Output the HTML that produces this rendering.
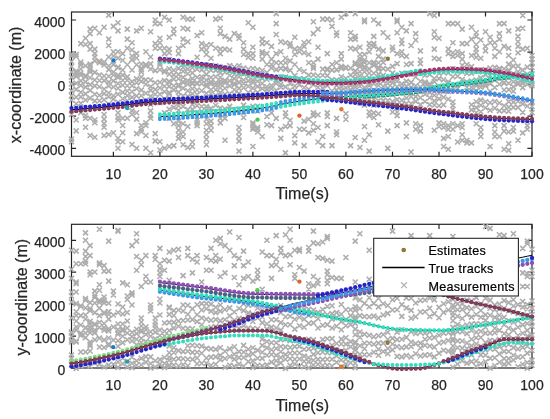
<!DOCTYPE html>
<html><head><meta charset="utf-8"><style>
html,body{margin:0;padding:0;background:#fff;width:550px;height:419px;overflow:hidden}
svg{display:block}
.tk{font-family:"Liberation Sans",Arial,sans-serif;font-size:14px;fill:#262626;stroke:#262626;stroke-width:0.25px}
.lb{font-family:"Liberation Sans",Arial,sans-serif;font-size:16px;fill:#262626;stroke:#262626;stroke-width:0.25px}
.lg{font-family:"Liberation Sans",Arial,sans-serif;font-size:12.6px;letter-spacing:0.25px;fill:#000;stroke:#000;stroke-width:0.2px}
</style></head><body>
<svg width="550" height="419" viewBox="0 0 550 419">
<rect width="550" height="419" fill="#fff"/>
<rect x="71.5" y="12.0" width="460.5" height="144.3" fill="none" stroke="#262626" stroke-width="1.2"/>
<path d="M113.4,156.3v-4.6M113.4,12.0v4.6M159.9,156.3v-4.6M159.9,12.0v4.6M206.4,156.3v-4.6M206.4,12.0v4.6M252.9,156.3v-4.6M252.9,12.0v4.6M299.4,156.3v-4.6M299.4,12.0v4.6M345.9,156.3v-4.6M345.9,12.0v4.6M392.5,156.3v-4.6M392.5,12.0v4.6M439.0,156.3v-4.6M439.0,12.0v4.6M485.5,156.3v-4.6M485.5,12.0v4.6M532.0,156.3v-4.6M532.0,12.0v4.6M71.5,20.0h4.6M532.0,20.0h-4.6M71.5,52.1h4.6M532.0,52.1h-4.6M71.5,84.2h4.6M532.0,84.2h-4.6M71.5,116.2h4.6M532.0,116.2h-4.6M71.5,148.3h4.6M532.0,148.3h-4.6" stroke="#262626" stroke-width="1.2" fill="none"/>
<path d="M69.0,51.5l5.0,5.0M69.0,56.5l5.0,-5.0M73.7,52.0l5.0,5.0M73.7,57.0l5.0,-5.0M78.3,41.1l5.0,5.0M78.3,46.1l5.0,-5.0M83.0,35.7l5.0,5.0M83.0,40.7l5.0,-5.0M83.0,42.0l5.0,5.0M83.0,47.0l5.0,-5.0M87.6,26.6l5.0,5.0M87.6,31.6l5.0,-5.0M87.6,31.1l5.0,5.0M87.6,36.1l5.0,-5.0M87.6,41.1l5.0,5.0M87.6,46.1l5.0,-5.0M87.6,46.6l5.0,5.0M87.6,51.6l5.0,-5.0M92.3,25.7l5.0,5.0M92.3,30.7l5.0,-5.0M92.3,46.6l5.0,5.0M92.3,51.6l5.0,-5.0M92.3,51.1l5.0,5.0M92.3,56.1l5.0,-5.0M96.9,30.2l5.0,5.0M96.9,35.2l5.0,-5.0M101.6,24.8l5.0,5.0M101.6,29.8l5.0,-5.0M106.2,12.6l5.0,5.0M106.2,17.6l5.0,-5.0M106.2,36.6l5.0,5.0M106.2,41.6l5.0,-5.0M106.2,43.0l5.0,5.0M106.2,48.0l5.0,-5.0M110.9,23.9l5.0,5.0M110.9,28.9l5.0,-5.0M110.9,49.3l5.0,5.0M110.9,54.3l5.0,-5.0M115.5,20.2l5.0,5.0M115.5,25.2l5.0,-5.0M115.5,28.4l5.0,5.0M115.5,33.4l5.0,-5.0M115.5,49.3l5.0,5.0M115.5,54.3l5.0,-5.0M120.2,51.1l5.0,5.0M120.2,56.1l5.0,-5.0M124.8,26.6l5.0,5.0M124.8,31.6l5.0,-5.0M124.8,36.6l5.0,5.0M124.8,41.6l5.0,-5.0M124.8,45.7l5.0,5.0M124.8,50.7l5.0,-5.0M129.5,40.2l5.0,5.0M129.5,45.2l5.0,-5.0M129.5,47.5l5.0,5.0M129.5,52.5l5.0,-5.0M134.1,28.4l5.0,5.0M134.1,33.4l5.0,-5.0M134.1,51.1l5.0,5.0M134.1,56.1l5.0,-5.0M138.8,25.7l5.0,5.0M138.8,30.7l5.0,-5.0M143.4,49.3l5.0,5.0M143.4,54.3l5.0,-5.0M148.1,29.3l5.0,5.0M148.1,34.3l5.0,-5.0M152.7,17.5l5.0,5.0M152.7,22.5l5.0,-5.0M152.7,21.1l5.0,5.0M152.7,26.1l5.0,-5.0M152.7,41.1l5.0,5.0M152.7,46.1l5.0,-5.0M152.7,45.7l5.0,5.0M152.7,50.7l5.0,-5.0M157.4,21.1l5.0,5.0M157.4,26.1l5.0,-5.0M157.4,35.7l5.0,5.0M157.4,40.7l5.0,-5.0M157.4,40.2l5.0,5.0M157.4,45.2l5.0,-5.0M157.4,45.7l5.0,5.0M157.4,50.7l5.0,-5.0M162.0,14.8l5.0,5.0M162.0,19.8l5.0,-5.0M162.0,45.7l5.0,5.0M162.0,50.7l5.0,-5.0M162.0,51.1l5.0,5.0M162.0,56.1l5.0,-5.0M69.0,53.5l5.0,5.0M69.0,58.5l5.0,-5.0M69.0,59.0l5.0,5.0M69.0,64.0l5.0,-5.0M69.0,64.0l5.0,5.0M69.0,69.0l5.0,-5.0M69.0,69.5l5.0,5.0M69.0,74.5l5.0,-5.0M69.0,74.5l5.0,5.0M69.0,79.5l5.0,-5.0M73.7,54.0l5.0,5.0M73.7,59.0l5.0,-5.0M73.7,70.5l5.0,5.0M73.7,75.5l5.0,-5.0M73.7,72.5l5.0,5.0M73.7,77.5l5.0,-5.0M78.3,59.5l5.0,5.0M78.3,64.5l5.0,-5.0M78.3,62.5l5.0,5.0M78.3,67.5l5.0,-5.0M78.3,66.5l5.0,5.0M78.3,71.5l5.0,-5.0M78.3,70.5l5.0,5.0M78.3,75.5l5.0,-5.0M83.0,74.5l5.0,5.0M83.0,79.5l5.0,-5.0M87.6,61.5l5.0,5.0M87.6,66.5l5.0,-5.0M87.6,63.5l5.0,5.0M87.6,68.5l5.0,-5.0M87.6,66.5l5.0,5.0M87.6,71.5l5.0,-5.0M87.6,69.5l5.0,5.0M87.6,74.5l5.0,-5.0M92.3,54.5l5.0,5.0M92.3,59.5l5.0,-5.0M96.9,58.5l5.0,5.0M96.9,63.5l5.0,-5.0M96.9,72.5l5.0,5.0M96.9,77.5l5.0,-5.0M101.6,59.5l5.0,5.0M101.6,64.5l5.0,-5.0M101.6,62.5l5.0,5.0M101.6,67.5l5.0,-5.0M101.6,73.5l5.0,5.0M101.6,78.5l5.0,-5.0M106.2,54.5l5.0,5.0M106.2,59.5l5.0,-5.0M106.2,63.5l5.0,5.0M106.2,68.5l5.0,-5.0M110.9,53.5l5.0,5.0M110.9,58.5l5.0,-5.0M110.9,69.5l5.0,5.0M110.9,74.5l5.0,-5.0M110.9,72.5l5.0,5.0M110.9,77.5l5.0,-5.0M115.5,64.5l5.0,5.0M115.5,69.5l5.0,-5.0M115.5,72.5l5.0,5.0M115.5,77.5l5.0,-5.0M120.2,67.5l5.0,5.0M120.2,72.5l5.0,-5.0M129.5,53.5l5.0,5.0M129.5,58.5l5.0,-5.0M129.5,57.5l5.0,5.0M129.5,62.5l5.0,-5.0M134.1,55.5l5.0,5.0M134.1,60.5l5.0,-5.0M138.8,61.5l5.0,5.0M138.8,66.5l5.0,-5.0M138.8,65.5l5.0,5.0M138.8,70.5l5.0,-5.0M138.8,69.5l5.0,5.0M138.8,74.5l5.0,-5.0M143.4,63.5l5.0,5.0M143.4,68.5l5.0,-5.0M148.1,54.5l5.0,5.0M148.1,59.5l5.0,-5.0M148.1,66.5l5.0,5.0M148.1,71.5l5.0,-5.0M157.4,60.5l5.0,5.0M157.4,65.5l5.0,-5.0M157.4,62.5l5.0,5.0M157.4,67.5l5.0,-5.0M162.0,69.5l5.0,5.0M162.0,74.5l5.0,-5.0M166.7,71.5l5.0,5.0M166.7,76.5l5.0,-5.0M69.0,74.8l5.0,5.0M69.0,79.8l5.0,-5.0M69.0,81.4l5.0,5.0M69.0,86.4l5.0,-5.0M69.0,88.3l5.0,5.0M69.0,93.3l5.0,-5.0M69.0,93.2l5.0,5.0M69.0,98.2l5.0,-5.0M69.0,97.5l5.0,5.0M69.0,102.5l5.0,-5.0M73.7,73.9l5.0,5.0M73.7,78.9l5.0,-5.0M73.7,80.7l5.0,5.0M73.7,85.7l5.0,-5.0M73.7,86.9l5.0,5.0M73.7,91.9l5.0,-5.0M73.7,94.7l5.0,5.0M73.7,99.7l5.0,-5.0M73.7,101.3l5.0,5.0M73.7,106.3l5.0,-5.0M78.3,78.4l5.0,5.0M78.3,83.4l5.0,-5.0M78.3,82.9l5.0,5.0M78.3,87.9l5.0,-5.0M78.3,89.8l5.0,5.0M78.3,94.8l5.0,-5.0M78.3,94.4l5.0,5.0M78.3,99.4l5.0,-5.0M78.3,100.7l5.0,5.0M78.3,105.7l5.0,-5.0M83.0,73.0l5.0,5.0M83.0,78.0l5.0,-5.0M83.0,79.4l5.0,5.0M83.0,84.4l5.0,-5.0M83.0,84.6l5.0,5.0M83.0,89.6l5.0,-5.0M83.0,91.4l5.0,5.0M83.0,96.4l5.0,-5.0M83.0,97.5l5.0,5.0M83.0,102.5l5.0,-5.0M87.6,75.2l5.0,5.0M87.6,80.2l5.0,-5.0M87.6,82.1l5.0,5.0M87.6,87.1l5.0,-5.0M87.6,87.9l5.0,5.0M87.6,92.9l5.0,-5.0M87.6,95.6l5.0,5.0M87.6,100.6l5.0,-5.0M92.3,77.5l5.0,5.0M92.3,82.5l5.0,-5.0M92.3,83.4l5.0,5.0M92.3,88.4l5.0,-5.0M92.3,91.7l5.0,5.0M92.3,96.7l5.0,-5.0M92.3,98.4l5.0,5.0M92.3,103.4l5.0,-5.0M96.9,78.0l5.0,5.0M96.9,83.0l5.0,-5.0M96.9,84.2l5.0,5.0M96.9,89.2l5.0,-5.0M96.9,92.7l5.0,5.0M96.9,97.7l5.0,-5.0M96.9,98.2l5.0,5.0M96.9,103.2l5.0,-5.0M101.6,78.1l5.0,5.0M101.6,83.1l5.0,-5.0M101.6,86.5l5.0,5.0M101.6,91.5l5.0,-5.0M101.6,91.1l5.0,5.0M101.6,96.1l5.0,-5.0M101.6,97.2l5.0,5.0M101.6,102.2l5.0,-5.0M106.2,73.8l5.0,5.0M106.2,78.8l5.0,-5.0M106.2,79.6l5.0,5.0M106.2,84.6l5.0,-5.0M106.2,83.4l5.0,5.0M106.2,88.4l5.0,-5.0M106.2,90.5l5.0,5.0M106.2,95.5l5.0,-5.0M106.2,94.3l5.0,5.0M106.2,99.3l5.0,-5.0M106.2,101.5l5.0,5.0M106.2,106.5l5.0,-5.0M110.9,78.4l5.0,5.0M110.9,83.4l5.0,-5.0M110.9,84.5l5.0,5.0M110.9,89.5l5.0,-5.0M110.9,93.3l5.0,5.0M110.9,98.3l5.0,-5.0M110.9,96.6l5.0,5.0M110.9,101.6l5.0,-5.0M115.5,74.9l5.0,5.0M115.5,79.9l5.0,-5.0M115.5,81.0l5.0,5.0M115.5,86.0l5.0,-5.0M115.5,85.7l5.0,5.0M115.5,90.7l5.0,-5.0M115.5,91.7l5.0,5.0M115.5,96.7l5.0,-5.0M115.5,99.8l5.0,5.0M115.5,104.8l5.0,-5.0M120.2,77.7l5.0,5.0M120.2,82.7l5.0,-5.0M120.2,82.7l5.0,5.0M120.2,87.7l5.0,-5.0M120.2,89.9l5.0,5.0M120.2,94.9l5.0,-5.0M120.2,96.2l5.0,5.0M120.2,101.2l5.0,-5.0M124.8,74.4l5.0,5.0M124.8,79.4l5.0,-5.0M124.8,77.8l5.0,5.0M124.8,82.8l5.0,-5.0M124.8,83.2l5.0,5.0M124.8,88.2l5.0,-5.0M124.8,88.5l5.0,5.0M124.8,93.5l5.0,-5.0M124.8,93.1l5.0,5.0M124.8,98.1l5.0,-5.0M124.8,98.2l5.0,5.0M124.8,103.2l5.0,-5.0M129.5,79.1l5.0,5.0M129.5,84.1l5.0,-5.0M129.5,83.3l5.0,5.0M129.5,88.3l5.0,-5.0M129.5,89.2l5.0,5.0M129.5,94.2l5.0,-5.0M129.5,94.9l5.0,5.0M129.5,99.9l5.0,-5.0M134.1,76.4l5.0,5.0M134.1,81.4l5.0,-5.0M134.1,80.3l5.0,5.0M134.1,85.3l5.0,-5.0M134.1,86.2l5.0,5.0M134.1,91.2l5.0,-5.0M134.1,93.4l5.0,5.0M134.1,98.4l5.0,-5.0M134.1,99.4l5.0,5.0M134.1,104.4l5.0,-5.0M138.8,74.5l5.0,5.0M138.8,79.5l5.0,-5.0M138.8,78.9l5.0,5.0M138.8,83.9l5.0,-5.0M138.8,87.6l5.0,5.0M138.8,92.6l5.0,-5.0M138.8,93.3l5.0,5.0M138.8,98.3l5.0,-5.0M138.8,98.8l5.0,5.0M138.8,103.8l5.0,-5.0M143.4,77.4l5.0,5.0M143.4,82.4l5.0,-5.0M143.4,81.8l5.0,5.0M143.4,86.8l5.0,-5.0M143.4,90.7l5.0,5.0M143.4,95.7l5.0,-5.0M143.4,97.9l5.0,5.0M143.4,102.9l5.0,-5.0M148.1,77.5l5.0,5.0M148.1,82.5l5.0,-5.0M148.1,84.1l5.0,5.0M148.1,89.1l5.0,-5.0M148.1,87.9l5.0,5.0M148.1,92.9l5.0,-5.0M148.1,93.7l5.0,5.0M148.1,98.7l5.0,-5.0M148.1,102.0l5.0,5.0M148.1,107.0l5.0,-5.0M152.7,80.3l5.0,5.0M152.7,85.3l5.0,-5.0M152.7,86.9l5.0,5.0M152.7,91.9l5.0,-5.0M152.7,91.8l5.0,5.0M152.7,96.8l5.0,-5.0M152.7,96.8l5.0,5.0M152.7,101.8l5.0,-5.0M157.4,79.8l5.0,5.0M157.4,84.8l5.0,-5.0M157.4,85.5l5.0,5.0M157.4,90.5l5.0,-5.0M157.4,91.7l5.0,5.0M157.4,96.7l5.0,-5.0M157.4,100.1l5.0,5.0M157.4,105.1l5.0,-5.0M162.0,78.1l5.0,5.0M162.0,83.1l5.0,-5.0M162.0,83.7l5.0,5.0M162.0,88.7l5.0,-5.0M162.0,89.3l5.0,5.0M162.0,94.3l5.0,-5.0M162.0,96.5l5.0,5.0M162.0,101.5l5.0,-5.0M166.7,79.8l5.0,5.0M166.7,84.8l5.0,-5.0M166.7,83.6l5.0,5.0M166.7,88.6l5.0,-5.0M166.7,90.1l5.0,5.0M166.7,95.1l5.0,-5.0M166.7,95.9l5.0,5.0M166.7,100.9l5.0,-5.0M73.7,68.6l5.0,5.0M73.7,73.6l5.0,-5.0M78.3,61.9l5.0,5.0M78.3,66.9l5.0,-5.0M78.3,72.8l5.0,5.0M78.3,77.8l5.0,-5.0M83.0,63.2l5.0,5.0M83.0,68.2l5.0,-5.0M87.6,67.5l5.0,5.0M87.6,72.5l5.0,-5.0M92.3,58.4l5.0,5.0M92.3,63.4l5.0,-5.0M92.3,69.9l5.0,5.0M92.3,74.9l5.0,-5.0M96.9,60.2l5.0,5.0M96.9,65.2l5.0,-5.0M101.6,60.0l5.0,5.0M101.6,65.0l5.0,-5.0M106.2,67.1l5.0,5.0M106.2,72.1l5.0,-5.0M110.9,62.1l5.0,5.0M110.9,67.1l5.0,-5.0M115.5,55.6l5.0,5.0M115.5,60.6l5.0,-5.0M115.5,65.3l5.0,5.0M115.5,70.3l5.0,-5.0M120.2,57.7l5.0,5.0M120.2,62.7l5.0,-5.0M120.2,72.6l5.0,5.0M120.2,77.6l5.0,-5.0M124.8,62.3l5.0,5.0M124.8,67.3l5.0,-5.0M129.5,57.0l5.0,5.0M129.5,62.0l5.0,-5.0M129.5,67.5l5.0,5.0M129.5,72.5l5.0,-5.0M134.1,62.2l5.0,5.0M134.1,67.2l5.0,-5.0M138.8,67.2l5.0,5.0M138.8,72.2l5.0,-5.0M143.4,62.1l5.0,5.0M143.4,67.1l5.0,-5.0M148.1,61.4l5.0,5.0M148.1,66.4l5.0,-5.0M152.7,68.1l5.0,5.0M152.7,73.1l5.0,-5.0M157.4,67.3l5.0,5.0M157.4,72.3l5.0,-5.0M162.0,68.4l5.0,5.0M162.0,73.4l5.0,-5.0M166.7,57.0l5.0,5.0M166.7,62.0l5.0,-5.0M166.7,66.2l5.0,5.0M166.7,71.2l5.0,-5.0M69.0,112.0l5.0,5.0M69.0,117.0l5.0,-5.0M69.0,136.6l5.0,5.0M69.0,141.6l5.0,-5.0M69.0,139.3l5.0,5.0M69.0,144.3l5.0,-5.0M73.7,117.5l5.0,5.0M73.7,122.5l5.0,-5.0M73.7,128.4l5.0,5.0M73.7,133.4l5.0,-5.0M78.3,110.2l5.0,5.0M78.3,115.2l5.0,-5.0M83.0,113.0l5.0,5.0M83.0,118.0l5.0,-5.0M83.0,115.7l5.0,5.0M83.0,120.7l5.0,-5.0M83.0,124.8l5.0,5.0M83.0,129.8l5.0,-5.0M87.6,115.7l5.0,5.0M87.6,120.7l5.0,-5.0M87.6,133.0l5.0,5.0M87.6,138.0l5.0,-5.0M92.3,117.5l5.0,5.0M92.3,122.5l5.0,-5.0M92.3,120.2l5.0,5.0M92.3,125.2l5.0,-5.0M92.3,134.8l5.0,5.0M92.3,139.8l5.0,-5.0M101.6,112.0l5.0,5.0M101.6,117.0l5.0,-5.0M101.6,116.6l5.0,5.0M101.6,121.6l5.0,-5.0M101.6,121.1l5.0,5.0M101.6,126.1l5.0,-5.0M101.6,124.8l5.0,5.0M101.6,129.8l5.0,-5.0M101.6,133.0l5.0,5.0M101.6,138.0l5.0,-5.0M106.2,132.0l5.0,5.0M106.2,137.0l5.0,-5.0M110.9,130.2l5.0,5.0M110.9,135.2l5.0,-5.0M115.5,110.2l5.0,5.0M115.5,115.2l5.0,-5.0M115.5,114.8l5.0,5.0M115.5,119.8l5.0,-5.0M115.5,117.5l5.0,5.0M115.5,122.5l5.0,-5.0M115.5,135.7l5.0,5.0M115.5,140.7l5.0,-5.0M115.5,139.3l5.0,5.0M115.5,144.3l5.0,-5.0M115.5,145.7l5.0,5.0M115.5,150.7l5.0,-5.0M120.2,115.7l5.0,5.0M120.2,120.7l5.0,-5.0M120.2,123.0l5.0,5.0M120.2,128.0l5.0,-5.0M120.2,130.2l5.0,5.0M120.2,135.2l5.0,-5.0M120.2,139.3l5.0,5.0M120.2,144.3l5.0,-5.0M124.8,115.7l5.0,5.0M124.8,120.7l5.0,-5.0M129.5,108.4l5.0,5.0M129.5,113.4l5.0,-5.0M129.5,112.0l5.0,5.0M129.5,117.0l5.0,-5.0M129.5,142.0l5.0,5.0M129.5,147.0l5.0,-5.0M134.1,110.2l5.0,5.0M134.1,115.2l5.0,-5.0M134.1,116.6l5.0,5.0M134.1,121.6l5.0,-5.0M134.1,131.1l5.0,5.0M134.1,136.1l5.0,-5.0M134.1,145.7l5.0,5.0M134.1,150.7l5.0,-5.0M138.8,123.0l5.0,5.0M138.8,128.0l5.0,-5.0M138.8,126.6l5.0,5.0M138.8,131.6l5.0,-5.0M138.8,129.3l5.0,5.0M138.8,134.3l5.0,-5.0M143.4,120.2l5.0,5.0M143.4,125.2l5.0,-5.0M143.4,123.0l5.0,5.0M143.4,128.0l5.0,-5.0M143.4,133.0l5.0,5.0M143.4,138.0l5.0,-5.0M143.4,145.7l5.0,5.0M143.4,150.7l5.0,-5.0M148.1,108.4l5.0,5.0M148.1,113.4l5.0,-5.0M148.1,113.0l5.0,5.0M148.1,118.0l5.0,-5.0M148.1,115.7l5.0,5.0M148.1,120.7l5.0,-5.0M148.1,150.2l5.0,5.0M148.1,155.2l5.0,-5.0M152.7,131.1l5.0,5.0M152.7,136.1l5.0,-5.0M152.7,138.4l5.0,5.0M152.7,143.4l5.0,-5.0M157.4,139.3l5.0,5.0M157.4,144.3l5.0,-5.0M157.4,147.5l5.0,5.0M157.4,152.5l5.0,-5.0M162.0,110.2l5.0,5.0M162.0,115.2l5.0,-5.0M162.0,145.7l5.0,5.0M162.0,150.7l5.0,-5.0M166.7,17.5l5.0,5.0M166.7,22.5l5.0,-5.0M166.7,34.8l5.0,5.0M166.7,39.8l5.0,-5.0M166.7,46.6l5.0,5.0M166.7,51.6l5.0,-5.0M166.7,50.2l5.0,5.0M166.7,55.2l5.0,-5.0M171.3,26.6l5.0,5.0M171.3,31.6l5.0,-5.0M171.3,31.1l5.0,5.0M171.3,36.1l5.0,-5.0M176.0,45.7l5.0,5.0M176.0,50.7l5.0,-5.0M176.0,51.1l5.0,5.0M176.0,56.1l5.0,-5.0M180.6,14.8l5.0,5.0M180.6,19.8l5.0,-5.0M180.6,25.7l5.0,5.0M180.6,30.7l5.0,-5.0M180.6,36.6l5.0,5.0M180.6,41.6l5.0,-5.0M180.6,43.0l5.0,5.0M180.6,48.0l5.0,-5.0M185.3,16.6l5.0,5.0M185.3,21.6l5.0,-5.0M185.3,26.6l5.0,5.0M185.3,31.6l5.0,-5.0M185.3,39.3l5.0,5.0M185.3,44.3l5.0,-5.0M189.9,16.6l5.0,5.0M189.9,21.6l5.0,-5.0M194.6,33.0l5.0,5.0M194.6,38.0l5.0,-5.0M194.6,54.8l5.0,5.0M194.6,59.8l5.0,-5.0M199.2,30.2l5.0,5.0M199.2,35.2l5.0,-5.0M199.2,41.1l5.0,5.0M199.2,46.1l5.0,-5.0M199.2,46.6l5.0,5.0M199.2,51.6l5.0,-5.0M203.9,43.0l5.0,5.0M203.9,48.0l5.0,-5.0M203.9,47.5l5.0,5.0M203.9,52.5l5.0,-5.0M203.9,52.0l5.0,5.0M203.9,57.0l5.0,-5.0M208.5,42.0l5.0,5.0M208.5,47.0l5.0,-5.0M208.5,55.7l5.0,5.0M208.5,60.7l5.0,-5.0M213.2,16.6l5.0,5.0M213.2,21.6l5.0,-5.0M213.2,45.7l5.0,5.0M213.2,50.7l5.0,-5.0M217.8,15.7l5.0,5.0M217.8,20.7l5.0,-5.0M217.8,25.7l5.0,5.0M217.8,30.7l5.0,-5.0M217.8,31.1l5.0,5.0M217.8,36.1l5.0,-5.0M217.8,46.6l5.0,5.0M217.8,51.6l5.0,-5.0M217.8,51.1l5.0,5.0M217.8,56.1l5.0,-5.0M222.5,33.9l5.0,5.0M222.5,38.9l5.0,-5.0M222.5,46.6l5.0,5.0M222.5,51.6l5.0,-5.0M227.2,36.6l5.0,5.0M227.2,41.6l5.0,-5.0M227.2,47.5l5.0,5.0M227.2,52.5l5.0,-5.0M231.8,31.1l5.0,5.0M231.8,36.1l5.0,-5.0M236.5,33.0l5.0,5.0M236.5,38.0l5.0,-5.0M236.5,35.7l5.0,5.0M236.5,40.7l5.0,-5.0M241.1,40.2l5.0,5.0M241.1,45.2l5.0,-5.0M241.1,46.6l5.0,5.0M241.1,51.6l5.0,-5.0M241.1,52.0l5.0,5.0M241.1,57.0l5.0,-5.0M245.8,20.2l5.0,5.0M245.8,25.2l5.0,-5.0M245.8,51.1l5.0,5.0M245.8,56.1l5.0,-5.0M245.8,54.8l5.0,5.0M245.8,59.8l5.0,-5.0M250.4,24.8l5.0,5.0M250.4,29.8l5.0,-5.0M250.4,44.8l5.0,5.0M250.4,49.8l5.0,-5.0M250.4,51.1l5.0,5.0M250.4,56.1l5.0,-5.0M250.4,55.7l5.0,5.0M250.4,60.7l5.0,-5.0M259.7,36.6l5.0,5.0M259.7,41.6l5.0,-5.0M259.7,41.1l5.0,5.0M259.7,46.1l5.0,-5.0M259.7,49.3l5.0,5.0M259.7,54.3l5.0,-5.0M166.7,66.3l5.0,5.0M166.7,71.3l5.0,-5.0M166.7,71.8l5.0,5.0M166.7,76.8l5.0,-5.0M166.7,79.1l5.0,5.0M166.7,84.1l5.0,-5.0M171.3,67.8l5.0,5.0M171.3,72.8l5.0,-5.0M171.3,72.4l5.0,5.0M171.3,77.4l5.0,-5.0M171.3,76.6l5.0,5.0M171.3,81.6l5.0,-5.0M176.0,65.9l5.0,5.0M176.0,70.9l5.0,-5.0M176.0,71.9l5.0,5.0M176.0,76.9l5.0,-5.0M176.0,76.3l5.0,5.0M176.0,81.3l5.0,-5.0M176.0,82.2l5.0,5.0M176.0,87.2l5.0,-5.0M180.6,65.0l5.0,5.0M180.6,70.0l5.0,-5.0M180.6,68.7l5.0,5.0M180.6,73.7l5.0,-5.0M180.6,74.9l5.0,5.0M180.6,79.9l5.0,-5.0M180.6,79.9l5.0,5.0M180.6,84.9l5.0,-5.0M185.3,66.6l5.0,5.0M185.3,71.6l5.0,-5.0M185.3,71.2l5.0,5.0M185.3,76.2l5.0,-5.0M185.3,78.1l5.0,5.0M185.3,83.1l5.0,-5.0M189.9,65.2l5.0,5.0M189.9,70.2l5.0,-5.0M189.9,70.4l5.0,5.0M189.9,75.4l5.0,-5.0M189.9,76.1l5.0,5.0M189.9,81.1l5.0,-5.0M189.9,81.4l5.0,5.0M189.9,86.4l5.0,-5.0M194.6,62.7l5.0,5.0M194.6,67.7l5.0,-5.0M194.6,66.8l5.0,5.0M194.6,71.8l5.0,-5.0M194.6,74.8l5.0,5.0M194.6,79.8l5.0,-5.0M194.6,80.2l5.0,5.0M194.6,85.2l5.0,-5.0M199.2,63.1l5.0,5.0M199.2,68.1l5.0,-5.0M199.2,67.4l5.0,5.0M199.2,72.4l5.0,-5.0M199.2,74.3l5.0,5.0M199.2,79.3l5.0,-5.0M199.2,77.4l5.0,5.0M199.2,82.4l5.0,-5.0M203.9,62.6l5.0,5.0M203.9,67.6l5.0,-5.0M203.9,66.8l5.0,5.0M203.9,71.8l5.0,-5.0M203.9,71.9l5.0,5.0M203.9,76.9l5.0,-5.0M203.9,77.6l5.0,5.0M203.9,82.6l5.0,-5.0M203.9,81.9l5.0,5.0M203.9,86.9l5.0,-5.0M208.5,63.0l5.0,5.0M208.5,68.0l5.0,-5.0M208.5,67.7l5.0,5.0M208.5,72.7l5.0,-5.0M208.5,75.0l5.0,5.0M208.5,80.0l5.0,-5.0M208.5,79.3l5.0,5.0M208.5,84.3l5.0,-5.0M213.2,63.3l5.0,5.0M213.2,68.3l5.0,-5.0M213.2,67.9l5.0,5.0M213.2,72.9l5.0,-5.0M213.2,74.3l5.0,5.0M213.2,79.3l5.0,-5.0M213.2,80.4l5.0,5.0M213.2,85.4l5.0,-5.0M217.8,64.6l5.0,5.0M217.8,69.6l5.0,-5.0M217.8,70.4l5.0,5.0M217.8,75.4l5.0,-5.0M217.8,75.0l5.0,5.0M217.8,80.0l5.0,-5.0M217.8,78.6l5.0,5.0M217.8,83.6l5.0,-5.0M222.5,65.6l5.0,5.0M222.5,70.6l5.0,-5.0M222.5,69.7l5.0,5.0M222.5,74.7l5.0,-5.0M222.5,77.9l5.0,5.0M222.5,82.9l5.0,-5.0M227.2,63.1l5.0,5.0M227.2,68.1l5.0,-5.0M227.2,68.3l5.0,5.0M227.2,73.3l5.0,-5.0M227.2,72.7l5.0,5.0M227.2,77.7l5.0,-5.0M227.2,78.4l5.0,5.0M227.2,83.4l5.0,-5.0M231.8,64.5l5.0,5.0M231.8,69.5l5.0,-5.0M231.8,71.7l5.0,5.0M231.8,76.7l5.0,-5.0M231.8,76.1l5.0,5.0M231.8,81.1l5.0,-5.0M231.8,82.2l5.0,5.0M231.8,87.2l5.0,-5.0M236.5,63.2l5.0,5.0M236.5,68.2l5.0,-5.0M236.5,66.5l5.0,5.0M236.5,71.5l5.0,-5.0M236.5,71.0l5.0,5.0M236.5,76.0l5.0,-5.0M236.5,74.2l5.0,5.0M236.5,79.2l5.0,-5.0M236.5,79.5l5.0,5.0M236.5,84.5l5.0,-5.0M241.1,65.5l5.0,5.0M241.1,70.5l5.0,-5.0M241.1,71.4l5.0,5.0M241.1,76.4l5.0,-5.0M241.1,77.5l5.0,5.0M241.1,82.5l5.0,-5.0M245.8,66.8l5.0,5.0M245.8,71.8l5.0,-5.0M245.8,74.0l5.0,5.0M245.8,79.0l5.0,-5.0M245.8,78.4l5.0,5.0M245.8,83.4l5.0,-5.0M250.4,66.0l5.0,5.0M250.4,71.0l5.0,-5.0M250.4,71.3l5.0,5.0M250.4,76.3l5.0,-5.0M250.4,77.6l5.0,5.0M250.4,82.6l5.0,-5.0M255.1,67.1l5.0,5.0M255.1,72.1l5.0,-5.0M255.1,73.0l5.0,5.0M255.1,78.0l5.0,-5.0M255.1,78.7l5.0,5.0M255.1,83.7l5.0,-5.0M166.7,144.0l5.0,5.0M166.7,149.0l5.0,-5.0M171.3,143.1l5.0,5.0M171.3,148.1l5.0,-5.0M176.0,123.1l5.0,5.0M176.0,128.1l5.0,-5.0M176.0,127.7l5.0,5.0M176.0,132.7l5.0,-5.0M176.0,132.2l5.0,5.0M176.0,137.2l5.0,-5.0M176.0,135.9l5.0,5.0M176.0,140.9l5.0,-5.0M180.6,129.5l5.0,5.0M180.6,134.5l5.0,-5.0M180.6,134.0l5.0,5.0M180.6,139.0l5.0,-5.0M180.6,142.2l5.0,5.0M180.6,147.2l5.0,-5.0M185.3,124.0l5.0,5.0M185.3,129.0l5.0,-5.0M185.3,145.0l5.0,5.0M185.3,150.0l5.0,-5.0M189.9,139.5l5.0,5.0M189.9,144.5l5.0,-5.0M189.9,144.0l5.0,5.0M189.9,149.0l5.0,-5.0M194.6,120.4l5.0,5.0M194.6,125.4l5.0,-5.0M194.6,123.1l5.0,5.0M194.6,128.1l5.0,-5.0M203.9,127.7l5.0,5.0M203.9,132.7l5.0,-5.0M203.9,132.2l5.0,5.0M203.9,137.2l5.0,-5.0M203.9,136.8l5.0,5.0M203.9,141.8l5.0,-5.0M203.9,142.2l5.0,5.0M203.9,147.2l5.0,-5.0M208.5,118.6l5.0,5.0M208.5,123.6l5.0,-5.0M208.5,123.1l5.0,5.0M208.5,128.1l5.0,-5.0M208.5,127.7l5.0,5.0M208.5,132.7l5.0,-5.0M217.8,115.9l5.0,5.0M217.8,120.9l5.0,-5.0M217.8,120.4l5.0,5.0M217.8,125.4l5.0,-5.0M222.5,137.7l5.0,5.0M222.5,142.7l5.0,-5.0M236.5,125.0l5.0,5.0M236.5,130.0l5.0,-5.0M236.5,129.5l5.0,5.0M236.5,134.5l5.0,-5.0M236.5,134.0l5.0,5.0M236.5,139.0l5.0,-5.0M236.5,138.6l5.0,5.0M236.5,143.6l5.0,-5.0M236.5,148.6l5.0,5.0M236.5,153.6l5.0,-5.0M241.1,115.0l5.0,5.0M241.1,120.0l5.0,-5.0M250.4,120.4l5.0,5.0M250.4,125.4l5.0,-5.0M250.4,125.0l5.0,5.0M250.4,130.0l5.0,-5.0M250.4,144.0l5.0,5.0M250.4,149.0l5.0,-5.0M255.1,126.8l5.0,5.0M255.1,131.8l5.0,-5.0M166.7,78.9l5.0,5.0M166.7,83.9l5.0,-5.0M166.7,83.9l5.0,5.0M166.7,88.9l5.0,-5.0M166.7,91.4l5.0,5.0M166.7,96.4l5.0,-5.0M171.3,83.3l5.0,5.0M171.3,88.3l5.0,-5.0M171.3,87.4l5.0,5.0M171.3,92.4l5.0,-5.0M176.0,83.6l5.0,5.0M176.0,88.6l5.0,-5.0M176.0,89.6l5.0,5.0M176.0,94.6l5.0,-5.0M176.0,93.8l5.0,5.0M176.0,98.8l5.0,-5.0M180.6,79.4l5.0,5.0M180.6,84.4l5.0,-5.0M180.6,85.6l5.0,5.0M180.6,90.6l5.0,-5.0M180.6,93.4l5.0,5.0M180.6,98.4l5.0,-5.0M185.3,81.6l5.0,5.0M185.3,86.6l5.0,-5.0M185.3,88.2l5.0,5.0M185.3,93.2l5.0,-5.0M185.3,93.9l5.0,5.0M185.3,98.9l5.0,-5.0M189.9,79.8l5.0,5.0M189.9,84.8l5.0,-5.0M189.9,86.2l5.0,5.0M189.9,91.2l5.0,-5.0M189.9,91.4l5.0,5.0M189.9,96.4l5.0,-5.0M194.6,81.3l5.0,5.0M194.6,86.3l5.0,-5.0M194.6,87.5l5.0,5.0M194.6,92.5l5.0,-5.0M194.6,92.0l5.0,5.0M194.6,97.0l5.0,-5.0M199.2,81.3l5.0,5.0M199.2,86.3l5.0,-5.0M199.2,88.3l5.0,5.0M199.2,93.3l5.0,-5.0M203.9,83.7l5.0,5.0M203.9,88.7l5.0,-5.0M203.9,90.7l5.0,5.0M203.9,95.7l5.0,-5.0M208.5,81.5l5.0,5.0M208.5,86.5l5.0,-5.0M208.5,87.4l5.0,5.0M208.5,92.4l5.0,-5.0M208.5,91.2l5.0,5.0M208.5,96.2l5.0,-5.0M213.2,83.3l5.0,5.0M213.2,88.3l5.0,-5.0M213.2,87.3l5.0,5.0M213.2,92.3l5.0,-5.0M213.2,93.0l5.0,5.0M213.2,98.0l5.0,-5.0M217.8,81.6l5.0,5.0M217.8,86.6l5.0,-5.0M217.8,85.3l5.0,5.0M217.8,90.3l5.0,-5.0M217.8,90.1l5.0,5.0M217.8,95.1l5.0,-5.0M222.5,80.4l5.0,5.0M222.5,85.4l5.0,-5.0M222.5,85.8l5.0,5.0M222.5,90.8l5.0,-5.0M222.5,91.8l5.0,5.0M222.5,96.8l5.0,-5.0M227.2,83.4l5.0,5.0M227.2,88.4l5.0,-5.0M227.2,91.4l5.0,5.0M227.2,96.4l5.0,-5.0M231.8,80.8l5.0,5.0M231.8,85.8l5.0,-5.0M231.8,87.2l5.0,5.0M231.8,92.2l5.0,-5.0M231.8,91.8l5.0,5.0M231.8,96.8l5.0,-5.0M236.5,80.1l5.0,5.0M236.5,85.1l5.0,-5.0M236.5,85.9l5.0,5.0M236.5,90.9l5.0,-5.0M236.5,90.9l5.0,5.0M236.5,95.9l5.0,-5.0M241.1,81.0l5.0,5.0M241.1,86.0l5.0,-5.0M241.1,85.2l5.0,5.0M241.1,90.2l5.0,-5.0M241.1,93.2l5.0,5.0M241.1,98.2l5.0,-5.0M245.8,83.8l5.0,5.0M245.8,88.8l5.0,-5.0M245.8,90.0l5.0,5.0M245.8,95.0l5.0,-5.0M250.4,80.2l5.0,5.0M250.4,85.2l5.0,-5.0M250.4,85.6l5.0,5.0M250.4,90.6l5.0,-5.0M250.4,90.7l5.0,5.0M250.4,95.7l5.0,-5.0M255.1,83.9l5.0,5.0M255.1,88.9l5.0,-5.0M255.1,89.7l5.0,5.0M255.1,94.7l5.0,-5.0M166.7,106.7l5.0,5.0M166.7,111.7l5.0,-5.0M171.3,104.9l5.0,5.0M171.3,109.9l5.0,-5.0M176.0,103.2l5.0,5.0M176.0,108.2l5.0,-5.0M176.0,107.7l5.0,5.0M176.0,112.7l5.0,-5.0M180.6,103.9l5.0,5.0M180.6,108.9l5.0,-5.0M185.3,107.1l5.0,5.0M185.3,112.1l5.0,-5.0M189.9,101.9l5.0,5.0M189.9,106.9l5.0,-5.0M189.9,106.9l5.0,5.0M189.9,111.9l5.0,-5.0M194.6,103.2l5.0,5.0M194.6,108.2l5.0,-5.0M194.6,110.4l5.0,5.0M194.6,115.4l5.0,-5.0M199.2,104.0l5.0,5.0M199.2,109.0l5.0,-5.0M199.2,108.7l5.0,5.0M199.2,113.7l5.0,-5.0M203.9,104.1l5.0,5.0M203.9,109.1l5.0,-5.0M203.9,107.5l5.0,5.0M203.9,112.5l5.0,-5.0M208.5,105.9l5.0,5.0M208.5,110.9l5.0,-5.0M213.2,102.8l5.0,5.0M213.2,107.8l5.0,-5.0M213.2,109.3l5.0,5.0M213.2,114.3l5.0,-5.0M217.8,105.5l5.0,5.0M217.8,110.5l5.0,-5.0M222.5,106.4l5.0,5.0M222.5,111.4l5.0,-5.0M227.2,103.9l5.0,5.0M227.2,108.9l5.0,-5.0M231.8,107.4l5.0,5.0M231.8,112.4l5.0,-5.0M236.5,106.5l5.0,5.0M236.5,111.5l5.0,-5.0M241.1,102.6l5.0,5.0M241.1,107.6l5.0,-5.0M241.1,109.5l5.0,5.0M241.1,114.5l5.0,-5.0M245.8,105.8l5.0,5.0M245.8,110.8l5.0,-5.0M250.4,103.8l5.0,5.0M250.4,108.8l5.0,-5.0M255.1,103.8l5.0,5.0M255.1,108.8l5.0,-5.0M255.1,108.5l5.0,5.0M255.1,113.5l5.0,-5.0M166.7,115.9l5.0,5.0M166.7,120.9l5.0,-5.0M171.3,121.3l5.0,5.0M171.3,126.3l5.0,-5.0M176.0,118.6l5.0,5.0M176.0,123.6l5.0,-5.0M180.6,121.3l5.0,5.0M180.6,126.3l5.0,-5.0M194.6,117.7l5.0,5.0M194.6,122.7l5.0,-5.0M203.9,116.8l5.0,5.0M203.9,121.8l5.0,-5.0M203.9,121.3l5.0,5.0M203.9,126.3l5.0,-5.0M217.8,112.2l5.0,5.0M217.8,117.2l5.0,-5.0M222.5,115.9l5.0,5.0M222.5,120.9l5.0,-5.0M250.4,122.2l5.0,5.0M250.4,127.2l5.0,-5.0M250.4,126.8l5.0,5.0M250.4,131.8l5.0,-5.0M255.1,125.0l5.0,5.0M255.1,130.0l5.0,-5.0M255.1,129.5l5.0,5.0M255.1,134.5l5.0,-5.0M259.7,51.1l5.0,5.0M259.7,56.1l5.0,-5.0M259.7,56.6l5.0,5.0M259.7,61.6l5.0,-5.0M264.4,40.2l5.0,5.0M264.4,45.2l5.0,-5.0M264.4,51.1l5.0,5.0M264.4,56.1l5.0,-5.0M264.4,62.0l5.0,5.0M264.4,67.0l5.0,-5.0M269.0,43.9l5.0,5.0M269.0,48.9l5.0,-5.0M269.0,56.6l5.0,5.0M269.0,61.6l5.0,-5.0M269.0,62.0l5.0,5.0M269.0,67.0l5.0,-5.0M273.7,11.1l5.0,5.0M273.7,16.1l5.0,-5.0M273.7,21.1l5.0,5.0M273.7,26.1l5.0,-5.0M273.7,32.0l5.0,5.0M273.7,37.0l5.0,-5.0M273.7,51.1l5.0,5.0M273.7,56.1l5.0,-5.0M273.7,60.2l5.0,5.0M273.7,65.2l5.0,-5.0M278.3,39.3l5.0,5.0M278.3,44.3l5.0,-5.0M278.3,49.3l5.0,5.0M278.3,54.3l5.0,-5.0M278.3,60.2l5.0,5.0M278.3,65.2l5.0,-5.0M283.0,40.2l5.0,5.0M283.0,45.2l5.0,-5.0M283.0,55.7l5.0,5.0M283.0,60.7l5.0,-5.0M283.0,60.2l5.0,5.0M283.0,65.2l5.0,-5.0M283.0,65.7l5.0,5.0M283.0,70.7l5.0,-5.0M287.6,41.1l5.0,5.0M287.6,46.1l5.0,-5.0M287.6,43.9l5.0,5.0M287.6,48.9l5.0,-5.0M287.6,58.4l5.0,5.0M287.6,63.4l5.0,-5.0M292.3,34.8l5.0,5.0M292.3,39.8l5.0,-5.0M292.3,46.6l5.0,5.0M292.3,51.6l5.0,-5.0M292.3,52.0l5.0,5.0M292.3,57.0l5.0,-5.0M292.3,62.0l5.0,5.0M292.3,67.0l5.0,-5.0M296.9,45.7l5.0,5.0M296.9,50.7l5.0,-5.0M296.9,49.3l5.0,5.0M296.9,54.3l5.0,-5.0M301.6,40.2l5.0,5.0M301.6,45.2l5.0,-5.0M301.6,43.9l5.0,5.0M301.6,48.9l5.0,-5.0M301.6,50.2l5.0,5.0M301.6,55.2l5.0,-5.0M306.2,39.3l5.0,5.0M306.2,44.3l5.0,-5.0M306.2,52.0l5.0,5.0M306.2,57.0l5.0,-5.0M306.2,60.2l5.0,5.0M306.2,65.2l5.0,-5.0M310.9,19.3l5.0,5.0M310.9,24.3l5.0,-5.0M310.9,31.1l5.0,5.0M310.9,36.1l5.0,-5.0M310.9,60.2l5.0,5.0M310.9,65.2l5.0,-5.0M310.9,63.9l5.0,5.0M310.9,68.9l5.0,-5.0M315.5,26.6l5.0,5.0M315.5,31.6l5.0,-5.0M315.5,44.8l5.0,5.0M315.5,49.8l5.0,-5.0M315.5,56.6l5.0,5.0M315.5,61.6l5.0,-5.0M320.2,16.6l5.0,5.0M320.2,21.6l5.0,-5.0M320.2,66.6l5.0,5.0M320.2,71.6l5.0,-5.0M324.8,16.6l5.0,5.0M324.8,21.6l5.0,-5.0M324.8,51.1l5.0,5.0M324.8,56.1l5.0,-5.0M324.8,67.5l5.0,5.0M324.8,72.5l5.0,-5.0M329.5,17.5l5.0,5.0M329.5,22.5l5.0,-5.0M329.5,23.9l5.0,5.0M329.5,28.9l5.0,-5.0M329.5,62.0l5.0,5.0M329.5,67.0l5.0,-5.0M334.1,30.2l5.0,5.0M334.1,35.2l5.0,-5.0M334.1,33.0l5.0,5.0M334.1,38.0l5.0,-5.0M334.1,60.2l5.0,5.0M334.1,65.2l5.0,-5.0M334.1,67.5l5.0,5.0M334.1,72.5l5.0,-5.0M338.8,14.8l5.0,5.0M338.8,19.8l5.0,-5.0M338.8,51.1l5.0,5.0M338.8,56.1l5.0,-5.0M338.8,56.6l5.0,5.0M338.8,61.6l5.0,-5.0M338.8,63.9l5.0,5.0M338.8,68.9l5.0,-5.0M343.4,11.1l5.0,5.0M343.4,16.1l5.0,-5.0M343.4,64.8l5.0,5.0M343.4,69.8l5.0,-5.0M348.1,30.2l5.0,5.0M348.1,35.2l5.0,-5.0M348.1,36.6l5.0,5.0M348.1,41.6l5.0,-5.0M348.1,45.7l5.0,5.0M348.1,50.7l5.0,-5.0M348.1,65.7l5.0,5.0M348.1,70.7l5.0,-5.0M352.7,11.1l5.0,5.0M352.7,16.1l5.0,-5.0M352.7,33.9l5.0,5.0M352.7,38.9l5.0,-5.0M352.7,36.6l5.0,5.0M352.7,41.6l5.0,-5.0M352.7,46.6l5.0,5.0M352.7,51.6l5.0,-5.0M352.7,62.0l5.0,5.0M352.7,67.0l5.0,-5.0M259.7,68.0l5.0,5.0M259.7,73.0l5.0,-5.0M259.7,75.9l5.0,5.0M259.7,80.9l5.0,-5.0M264.4,70.0l5.0,5.0M264.4,75.0l5.0,-5.0M264.4,76.8l5.0,5.0M264.4,81.8l5.0,-5.0M269.0,65.4l5.0,5.0M269.0,70.4l5.0,-5.0M269.0,74.5l5.0,5.0M269.0,79.5l5.0,-5.0M269.0,83.0l5.0,5.0M269.0,88.0l5.0,-5.0M273.7,67.1l5.0,5.0M273.7,72.1l5.0,-5.0M273.7,78.2l5.0,5.0M273.7,83.2l5.0,-5.0M278.3,65.9l5.0,5.0M278.3,70.9l5.0,-5.0M278.3,74.5l5.0,5.0M278.3,79.5l5.0,-5.0M278.3,81.9l5.0,5.0M278.3,86.9l5.0,-5.0M283.0,66.6l5.0,5.0M283.0,71.6l5.0,-5.0M283.0,74.6l5.0,5.0M283.0,79.6l5.0,-5.0M287.6,67.9l5.0,5.0M287.6,72.9l5.0,-5.0M287.6,76.4l5.0,5.0M287.6,81.4l5.0,-5.0M292.3,73.1l5.0,5.0M292.3,78.1l5.0,-5.0M296.9,67.0l5.0,5.0M296.9,72.0l5.0,-5.0M296.9,76.4l5.0,5.0M296.9,81.4l5.0,-5.0M301.6,69.0l5.0,5.0M301.6,74.0l5.0,-5.0M301.6,76.2l5.0,5.0M301.6,81.2l5.0,-5.0M306.2,72.6l5.0,5.0M306.2,77.6l5.0,-5.0M306.2,80.2l5.0,5.0M306.2,85.2l5.0,-5.0M310.9,65.9l5.0,5.0M310.9,70.9l5.0,-5.0M310.9,72.5l5.0,5.0M310.9,77.5l5.0,-5.0M315.5,73.2l5.0,5.0M315.5,78.2l5.0,-5.0M320.2,72.8l5.0,5.0M320.2,77.8l5.0,-5.0M320.2,80.5l5.0,5.0M320.2,85.5l5.0,-5.0M324.8,66.3l5.0,5.0M324.8,71.3l5.0,-5.0M324.8,73.1l5.0,5.0M324.8,78.1l5.0,-5.0M324.8,79.9l5.0,5.0M324.8,84.9l5.0,-5.0M329.5,67.6l5.0,5.0M329.5,72.6l5.0,-5.0M329.5,77.4l5.0,5.0M329.5,82.4l5.0,-5.0M334.1,67.1l5.0,5.0M334.1,72.1l5.0,-5.0M334.1,77.5l5.0,5.0M334.1,82.5l5.0,-5.0M338.8,66.0l5.0,5.0M338.8,71.0l5.0,-5.0M338.8,74.3l5.0,5.0M338.8,79.3l5.0,-5.0M338.8,79.7l5.0,5.0M338.8,84.7l5.0,-5.0M343.4,65.7l5.0,5.0M343.4,70.7l5.0,-5.0M343.4,76.0l5.0,5.0M343.4,81.0l5.0,-5.0M343.4,80.3l5.0,5.0M343.4,85.3l5.0,-5.0M348.1,72.6l5.0,5.0M348.1,77.6l5.0,-5.0M348.1,83.0l5.0,5.0M348.1,88.0l5.0,-5.0M352.7,68.8l5.0,5.0M352.7,73.8l5.0,-5.0M352.7,75.9l5.0,5.0M352.7,80.9l5.0,-5.0M259.7,134.0l5.0,5.0M259.7,139.0l5.0,-5.0M264.4,114.0l5.0,5.0M264.4,119.0l5.0,-5.0M264.4,122.2l5.0,5.0M264.4,127.2l5.0,-5.0M269.0,110.4l5.0,5.0M269.0,115.4l5.0,-5.0M269.0,123.1l5.0,5.0M269.0,128.1l5.0,-5.0M273.7,115.9l5.0,5.0M273.7,120.9l5.0,-5.0M278.3,126.8l5.0,5.0M278.3,131.8l5.0,-5.0M278.3,135.9l5.0,5.0M278.3,140.9l5.0,-5.0M283.0,110.4l5.0,5.0M283.0,115.4l5.0,-5.0M283.0,114.0l5.0,5.0M283.0,119.0l5.0,-5.0M283.0,124.0l5.0,5.0M283.0,129.0l5.0,-5.0M283.0,150.4l5.0,5.0M283.0,155.4l5.0,-5.0M287.6,117.7l5.0,5.0M287.6,122.7l5.0,-5.0M287.6,123.1l5.0,5.0M287.6,128.1l5.0,-5.0M292.3,133.1l5.0,5.0M292.3,138.1l5.0,-5.0M292.3,140.4l5.0,5.0M292.3,145.4l5.0,-5.0M296.9,126.8l5.0,5.0M296.9,131.8l5.0,-5.0M301.6,118.6l5.0,5.0M301.6,123.6l5.0,-5.0M301.6,126.8l5.0,5.0M301.6,131.8l5.0,-5.0M301.6,143.1l5.0,5.0M301.6,148.1l5.0,-5.0M306.2,116.8l5.0,5.0M306.2,121.8l5.0,-5.0M306.2,130.4l5.0,5.0M306.2,135.4l5.0,-5.0M310.9,110.4l5.0,5.0M310.9,115.4l5.0,-5.0M310.9,113.1l5.0,5.0M310.9,118.1l5.0,-5.0M310.9,121.3l5.0,5.0M310.9,126.3l5.0,-5.0M310.9,127.7l5.0,5.0M310.9,132.7l5.0,-5.0M315.5,112.2l5.0,5.0M315.5,117.2l5.0,-5.0M315.5,125.0l5.0,5.0M315.5,130.0l5.0,-5.0M315.5,139.5l5.0,5.0M315.5,144.5l5.0,-5.0M320.2,134.0l5.0,5.0M320.2,139.0l5.0,-5.0M320.2,143.1l5.0,5.0M320.2,148.1l5.0,-5.0M324.8,110.4l5.0,5.0M324.8,115.4l5.0,-5.0M324.8,114.0l5.0,5.0M324.8,119.0l5.0,-5.0M324.8,123.1l5.0,5.0M324.8,128.1l5.0,-5.0M329.5,143.1l5.0,5.0M329.5,148.1l5.0,-5.0M334.1,115.9l5.0,5.0M334.1,120.9l5.0,-5.0M334.1,129.5l5.0,5.0M334.1,134.5l5.0,-5.0M334.1,132.2l5.0,5.0M334.1,137.2l5.0,-5.0M343.4,111.3l5.0,5.0M343.4,116.3l5.0,-5.0M343.4,116.8l5.0,5.0M343.4,121.8l5.0,-5.0M348.1,143.1l5.0,5.0M348.1,148.1l5.0,-5.0M352.7,135.0l5.0,5.0M352.7,140.0l5.0,-5.0M259.7,81.0l5.0,5.0M259.7,86.0l5.0,-5.0M259.7,86.1l5.0,5.0M259.7,91.1l5.0,-5.0M264.4,84.2l5.0,5.0M264.4,89.2l5.0,-5.0M264.4,87.1l5.0,5.0M264.4,92.1l5.0,-5.0M269.0,86.1l5.0,5.0M269.0,91.1l5.0,-5.0M273.7,80.9l5.0,5.0M273.7,85.9l5.0,-5.0M273.7,87.8l5.0,5.0M273.7,92.8l5.0,-5.0M278.3,84.8l5.0,5.0M278.3,89.8l5.0,-5.0M283.0,84.4l5.0,5.0M283.0,89.4l5.0,-5.0M287.6,81.1l5.0,5.0M287.6,86.1l5.0,-5.0M287.6,87.6l5.0,5.0M287.6,92.6l5.0,-5.0M292.3,83.5l5.0,5.0M292.3,88.5l5.0,-5.0M292.3,87.5l5.0,5.0M292.3,92.5l5.0,-5.0M296.9,82.4l5.0,5.0M296.9,87.4l5.0,-5.0M301.6,85.0l5.0,5.0M301.6,90.0l5.0,-5.0M306.2,80.1l5.0,5.0M306.2,85.1l5.0,-5.0M306.2,86.7l5.0,5.0M306.2,91.7l5.0,-5.0M310.9,82.2l5.0,5.0M310.9,87.2l5.0,-5.0M315.5,84.7l5.0,5.0M315.5,89.7l5.0,-5.0M320.2,80.9l5.0,5.0M320.2,85.9l5.0,-5.0M320.2,85.6l5.0,5.0M320.2,90.6l5.0,-5.0M324.8,83.3l5.0,5.0M324.8,88.3l5.0,-5.0M329.5,80.3l5.0,5.0M329.5,85.3l5.0,-5.0M329.5,88.5l5.0,5.0M329.5,93.5l5.0,-5.0M334.1,82.9l5.0,5.0M334.1,87.9l5.0,-5.0M334.1,87.4l5.0,5.0M334.1,92.4l5.0,-5.0M338.8,84.4l5.0,5.0M338.8,89.4l5.0,-5.0M338.8,87.9l5.0,5.0M338.8,92.9l5.0,-5.0M343.4,85.4l5.0,5.0M343.4,90.4l5.0,-5.0M348.1,80.5l5.0,5.0M348.1,85.5l5.0,-5.0M348.1,87.1l5.0,5.0M348.1,92.1l5.0,-5.0M352.7,84.8l5.0,5.0M352.7,89.8l5.0,-5.0M357.4,44.8l5.0,5.0M357.4,49.8l5.0,-5.0M357.4,52.0l5.0,5.0M357.4,57.0l5.0,-5.0M357.4,55.7l5.0,5.0M357.4,60.7l5.0,-5.0M357.4,62.0l5.0,5.0M357.4,67.0l5.0,-5.0M362.0,17.5l5.0,5.0M362.0,22.5l5.0,-5.0M362.0,19.3l5.0,5.0M362.0,24.3l5.0,-5.0M362.0,52.0l5.0,5.0M362.0,57.0l5.0,-5.0M362.0,57.5l5.0,5.0M362.0,62.5l5.0,-5.0M362.0,65.7l5.0,5.0M362.0,70.7l5.0,-5.0M366.7,41.1l5.0,5.0M366.7,46.1l5.0,-5.0M366.7,44.8l5.0,5.0M366.7,49.8l5.0,-5.0M366.7,49.3l5.0,5.0M366.7,54.3l5.0,-5.0M371.3,17.5l5.0,5.0M371.3,22.5l5.0,-5.0M371.3,33.9l5.0,5.0M371.3,38.9l5.0,-5.0M371.3,41.1l5.0,5.0M371.3,46.1l5.0,-5.0M371.3,43.9l5.0,5.0M371.3,48.9l5.0,-5.0M371.3,62.0l5.0,5.0M371.3,67.0l5.0,-5.0M376.0,21.1l5.0,5.0M376.0,26.1l5.0,-5.0M376.0,46.6l5.0,5.0M376.0,51.6l5.0,-5.0M376.0,53.9l5.0,5.0M376.0,58.9l5.0,-5.0M376.0,66.6l5.0,5.0M376.0,71.6l5.0,-5.0M380.7,30.2l5.0,5.0M380.7,35.2l5.0,-5.0M380.7,48.4l5.0,5.0M380.7,53.4l5.0,-5.0M380.7,56.6l5.0,5.0M380.7,61.6l5.0,-5.0M385.3,34.8l5.0,5.0M385.3,39.8l5.0,-5.0M385.3,66.6l5.0,5.0M385.3,71.6l5.0,-5.0M390.0,44.8l5.0,5.0M390.0,49.8l5.0,-5.0M390.0,47.5l5.0,5.0M390.0,52.5l5.0,-5.0M390.0,63.9l5.0,5.0M390.0,68.9l5.0,-5.0M394.6,17.5l5.0,5.0M394.6,22.5l5.0,-5.0M394.6,19.3l5.0,5.0M394.6,24.3l5.0,-5.0M394.6,30.2l5.0,5.0M394.6,35.2l5.0,-5.0M394.6,51.1l5.0,5.0M394.6,56.1l5.0,-5.0M394.6,61.1l5.0,5.0M394.6,66.1l5.0,-5.0M399.3,24.8l5.0,5.0M399.3,29.8l5.0,-5.0M399.3,37.5l5.0,5.0M399.3,42.5l5.0,-5.0M399.3,41.1l5.0,5.0M399.3,46.1l5.0,-5.0M399.3,49.3l5.0,5.0M399.3,54.3l5.0,-5.0M399.3,53.0l5.0,5.0M399.3,58.0l5.0,-5.0M403.9,28.4l5.0,5.0M403.9,33.4l5.0,-5.0M403.9,53.9l5.0,5.0M403.9,58.9l5.0,-5.0M403.9,62.0l5.0,5.0M403.9,67.0l5.0,-5.0M408.6,21.1l5.0,5.0M408.6,26.1l5.0,-5.0M408.6,43.0l5.0,5.0M408.6,48.0l5.0,-5.0M408.6,61.1l5.0,5.0M408.6,66.1l5.0,-5.0M413.2,31.1l5.0,5.0M413.2,36.1l5.0,-5.0M413.2,37.5l5.0,5.0M413.2,42.5l5.0,-5.0M417.9,48.4l5.0,5.0M417.9,53.4l5.0,-5.0M417.9,57.5l5.0,5.0M417.9,62.5l5.0,-5.0M417.9,61.1l5.0,5.0M417.9,66.1l5.0,-5.0M427.2,11.1l5.0,5.0M427.2,16.1l5.0,-5.0M431.8,13.0l5.0,5.0M431.8,18.0l5.0,-5.0M431.8,29.3l5.0,5.0M431.8,34.3l5.0,-5.0M431.8,34.8l5.0,5.0M431.8,39.8l5.0,-5.0M431.8,46.6l5.0,5.0M431.8,51.6l5.0,-5.0M431.8,55.7l5.0,5.0M431.8,60.7l5.0,-5.0M436.5,35.7l5.0,5.0M436.5,40.7l5.0,-5.0M436.5,56.6l5.0,5.0M436.5,61.6l5.0,-5.0M445.8,21.1l5.0,5.0M445.8,26.1l5.0,-5.0M445.8,46.6l5.0,5.0M445.8,51.6l5.0,-5.0M445.8,51.1l5.0,5.0M445.8,56.1l5.0,-5.0M352.7,60.4l5.0,5.0M352.7,65.4l5.0,-5.0M352.7,68.2l5.0,5.0M352.7,73.2l5.0,-5.0M352.7,71.7l5.0,5.0M352.7,76.7l5.0,-5.0M352.7,76.8l5.0,5.0M352.7,81.8l5.0,-5.0M357.4,58.6l5.0,5.0M357.4,63.6l5.0,-5.0M357.4,64.1l5.0,5.0M357.4,69.1l5.0,-5.0M357.4,69.3l5.0,5.0M357.4,74.3l5.0,-5.0M357.4,73.4l5.0,5.0M357.4,78.4l5.0,-5.0M357.4,79.2l5.0,5.0M357.4,84.2l5.0,-5.0M362.0,60.1l5.0,5.0M362.0,65.1l5.0,-5.0M362.0,64.3l5.0,5.0M362.0,69.3l5.0,-5.0M362.0,69.2l5.0,5.0M362.0,74.2l5.0,-5.0M362.0,75.3l5.0,5.0M362.0,80.3l5.0,-5.0M362.0,78.5l5.0,5.0M362.0,83.5l5.0,-5.0M366.7,60.2l5.0,5.0M366.7,65.2l5.0,-5.0M366.7,66.4l5.0,5.0M366.7,71.4l5.0,-5.0M366.7,70.5l5.0,5.0M366.7,75.5l5.0,-5.0M366.7,75.3l5.0,5.0M366.7,80.3l5.0,-5.0M366.7,83.1l5.0,5.0M366.7,88.1l5.0,-5.0M371.3,59.9l5.0,5.0M371.3,64.9l5.0,-5.0M371.3,63.0l5.0,5.0M371.3,68.0l5.0,-5.0M371.3,70.7l5.0,5.0M371.3,75.7l5.0,-5.0M371.3,77.2l5.0,5.0M371.3,82.2l5.0,-5.0M376.0,60.3l5.0,5.0M376.0,65.3l5.0,-5.0M376.0,64.9l5.0,5.0M376.0,69.9l5.0,-5.0M376.0,71.6l5.0,5.0M376.0,76.6l5.0,-5.0M376.0,75.2l5.0,5.0M376.0,80.2l5.0,-5.0M376.0,80.0l5.0,5.0M376.0,85.0l5.0,-5.0M380.7,60.0l5.0,5.0M380.7,65.0l5.0,-5.0M380.7,66.1l5.0,5.0M380.7,71.1l5.0,-5.0M380.7,72.9l5.0,5.0M380.7,77.9l5.0,-5.0M380.7,78.8l5.0,5.0M380.7,83.8l5.0,-5.0M385.3,77.8l5.0,5.0M385.3,82.8l5.0,-5.0M390.0,70.6l5.0,5.0M390.0,75.6l5.0,-5.0M390.0,78.0l5.0,5.0M390.0,83.0l5.0,-5.0M394.6,75.2l5.0,5.0M394.6,80.2l5.0,-5.0M399.3,70.9l5.0,5.0M399.3,75.9l5.0,-5.0M399.3,81.4l5.0,5.0M399.3,86.4l5.0,-5.0M403.9,70.9l5.0,5.0M403.9,75.9l5.0,-5.0M403.9,78.9l5.0,5.0M403.9,83.9l5.0,-5.0M408.6,71.7l5.0,5.0M408.6,76.7l5.0,-5.0M408.6,80.3l5.0,5.0M408.6,85.3l5.0,-5.0M413.2,74.5l5.0,5.0M413.2,79.5l5.0,-5.0M417.9,70.5l5.0,5.0M417.9,75.5l5.0,-5.0M417.9,78.8l5.0,5.0M417.9,83.8l5.0,-5.0M422.5,72.8l5.0,5.0M422.5,77.8l5.0,-5.0M422.5,80.6l5.0,5.0M422.5,85.6l5.0,-5.0M427.2,71.9l5.0,5.0M427.2,76.9l5.0,-5.0M427.2,81.4l5.0,5.0M427.2,86.4l5.0,-5.0M431.8,76.0l5.0,5.0M431.8,81.0l5.0,-5.0M436.5,70.7l5.0,5.0M436.5,75.7l5.0,-5.0M436.5,76.1l5.0,5.0M436.5,81.1l5.0,-5.0M441.1,69.9l5.0,5.0M441.1,74.9l5.0,-5.0M441.1,77.2l5.0,5.0M441.1,82.2l5.0,-5.0M445.8,70.4l5.0,5.0M445.8,75.4l5.0,-5.0M445.8,79.3l5.0,5.0M445.8,84.3l5.0,-5.0M357.4,145.0l5.0,5.0M357.4,150.0l5.0,-5.0M362.0,124.0l5.0,5.0M362.0,129.0l5.0,-5.0M362.0,137.7l5.0,5.0M362.0,142.7l5.0,-5.0M366.7,109.5l5.0,5.0M366.7,114.5l5.0,-5.0M366.7,113.1l5.0,5.0M366.7,118.1l5.0,-5.0M366.7,132.2l5.0,5.0M366.7,137.2l5.0,-5.0M366.7,148.6l5.0,5.0M366.7,153.6l5.0,-5.0M371.3,110.4l5.0,5.0M371.3,115.4l5.0,-5.0M371.3,115.0l5.0,5.0M371.3,120.0l5.0,-5.0M376.0,111.3l5.0,5.0M376.0,116.3l5.0,-5.0M376.0,122.2l5.0,5.0M376.0,127.2l5.0,-5.0M385.3,128.6l5.0,5.0M385.3,133.6l5.0,-5.0M385.3,145.9l5.0,5.0M385.3,150.9l5.0,-5.0M390.0,109.5l5.0,5.0M390.0,114.5l5.0,-5.0M394.6,109.5l5.0,5.0M394.6,114.5l5.0,-5.0M394.6,113.1l5.0,5.0M394.6,118.1l5.0,-5.0M394.6,123.1l5.0,5.0M394.6,128.1l5.0,-5.0M403.9,120.4l5.0,5.0M403.9,125.4l5.0,-5.0M403.9,134.0l5.0,5.0M403.9,139.0l5.0,-5.0M408.6,149.5l5.0,5.0M408.6,154.5l5.0,-5.0M413.2,121.3l5.0,5.0M413.2,126.3l5.0,-5.0M413.2,126.8l5.0,5.0M413.2,131.8l5.0,-5.0M417.9,123.1l5.0,5.0M417.9,128.1l5.0,-5.0M417.9,128.6l5.0,5.0M417.9,133.6l5.0,-5.0M431.8,127.7l5.0,5.0M431.8,132.7l5.0,-5.0M436.5,120.4l5.0,5.0M436.5,125.4l5.0,-5.0M436.5,124.0l5.0,5.0M436.5,129.0l5.0,-5.0M441.1,121.3l5.0,5.0M441.1,126.3l5.0,-5.0M441.1,125.0l5.0,5.0M441.1,130.0l5.0,-5.0M441.1,135.9l5.0,5.0M441.1,140.9l5.0,-5.0M441.1,144.0l5.0,5.0M441.1,149.0l5.0,-5.0M445.8,123.1l5.0,5.0M445.8,128.1l5.0,-5.0M445.8,126.8l5.0,5.0M445.8,131.8l5.0,-5.0M445.8,134.0l5.0,5.0M445.8,139.0l5.0,-5.0M445.8,146.8l5.0,5.0M445.8,151.8l5.0,-5.0M352.7,82.3l5.0,5.0M352.7,87.3l5.0,-5.0M352.7,89.4l5.0,5.0M352.7,94.4l5.0,-5.0M352.7,98.4l5.0,5.0M352.7,103.4l5.0,-5.0M357.4,83.8l5.0,5.0M357.4,88.8l5.0,-5.0M357.4,92.1l5.0,5.0M357.4,97.1l5.0,-5.0M357.4,100.6l5.0,5.0M357.4,105.6l5.0,-5.0M362.0,85.1l5.0,5.0M362.0,90.1l5.0,-5.0M362.0,88.4l5.0,5.0M362.0,93.4l5.0,-5.0M362.0,94.9l5.0,5.0M362.0,99.9l5.0,-5.0M362.0,102.6l5.0,5.0M362.0,107.6l5.0,-5.0M366.7,80.4l5.0,5.0M366.7,85.4l5.0,-5.0M366.7,87.3l5.0,5.0M366.7,92.3l5.0,-5.0M366.7,93.0l5.0,5.0M366.7,98.0l5.0,-5.0M366.7,97.4l5.0,5.0M366.7,102.4l5.0,-5.0M371.3,81.3l5.0,5.0M371.3,86.3l5.0,-5.0M371.3,87.9l5.0,5.0M371.3,92.9l5.0,-5.0M371.3,92.5l5.0,5.0M371.3,97.5l5.0,-5.0M371.3,96.6l5.0,5.0M371.3,101.6l5.0,-5.0M371.3,102.7l5.0,5.0M371.3,107.7l5.0,-5.0M376.0,83.0l5.0,5.0M376.0,88.0l5.0,-5.0M376.0,89.4l5.0,5.0M376.0,94.4l5.0,-5.0M376.0,98.2l5.0,5.0M376.0,103.2l5.0,-5.0M380.7,83.8l5.0,5.0M380.7,88.8l5.0,-5.0M380.7,92.2l5.0,5.0M380.7,97.2l5.0,-5.0M380.7,98.1l5.0,5.0M380.7,103.1l5.0,-5.0M385.3,81.0l5.0,5.0M385.3,86.0l5.0,-5.0M385.3,85.6l5.0,5.0M385.3,90.6l5.0,-5.0M385.3,90.3l5.0,5.0M385.3,95.3l5.0,-5.0M385.3,98.0l5.0,5.0M385.3,103.0l5.0,-5.0M390.0,80.4l5.0,5.0M390.0,85.4l5.0,-5.0M390.0,85.0l5.0,5.0M390.0,90.0l5.0,-5.0M390.0,92.0l5.0,5.0M390.0,97.0l5.0,-5.0M390.0,99.0l5.0,5.0M390.0,104.0l5.0,-5.0M390.0,102.3l5.0,5.0M390.0,107.3l5.0,-5.0M394.6,78.6l5.0,5.0M394.6,83.6l5.0,-5.0M394.6,84.3l5.0,5.0M394.6,89.3l5.0,-5.0M394.6,90.0l5.0,5.0M394.6,95.0l5.0,-5.0M394.6,97.1l5.0,5.0M394.6,102.1l5.0,-5.0M394.6,102.1l5.0,5.0M394.6,107.1l5.0,-5.0M399.3,81.2l5.0,5.0M399.3,86.2l5.0,-5.0M399.3,84.7l5.0,5.0M399.3,89.7l5.0,-5.0M399.3,90.2l5.0,5.0M399.3,95.2l5.0,-5.0M399.3,97.8l5.0,5.0M399.3,102.8l5.0,-5.0M399.3,102.4l5.0,5.0M399.3,107.4l5.0,-5.0M403.9,83.5l5.0,5.0M403.9,88.5l5.0,-5.0M403.9,89.1l5.0,5.0M403.9,94.1l5.0,-5.0M403.9,95.5l5.0,5.0M403.9,100.5l5.0,-5.0M403.9,101.0l5.0,5.0M403.9,106.0l5.0,-5.0M408.6,79.8l5.0,5.0M408.6,84.8l5.0,-5.0M408.6,84.9l5.0,5.0M408.6,89.9l5.0,-5.0M408.6,90.4l5.0,5.0M408.6,95.4l5.0,-5.0M408.6,94.2l5.0,5.0M408.6,99.2l5.0,-5.0M408.6,101.0l5.0,5.0M408.6,106.0l5.0,-5.0M413.2,83.2l5.0,5.0M413.2,88.2l5.0,-5.0M413.2,90.3l5.0,5.0M413.2,95.3l5.0,-5.0M413.2,94.1l5.0,5.0M413.2,99.1l5.0,-5.0M413.2,98.9l5.0,5.0M413.2,103.9l5.0,-5.0M417.9,84.6l5.0,5.0M417.9,89.6l5.0,-5.0M417.9,89.1l5.0,5.0M417.9,94.1l5.0,-5.0M417.9,95.2l5.0,5.0M417.9,100.2l5.0,-5.0M417.9,102.1l5.0,5.0M417.9,107.1l5.0,-5.0M422.5,79.6l5.0,5.0M422.5,84.6l5.0,-5.0M422.5,84.1l5.0,5.0M422.5,89.1l5.0,-5.0M422.5,91.8l5.0,5.0M422.5,96.8l5.0,-5.0M422.5,99.0l5.0,5.0M422.5,104.0l5.0,-5.0M427.2,82.7l5.0,5.0M427.2,87.7l5.0,-5.0M427.2,89.9l5.0,5.0M427.2,94.9l5.0,-5.0M427.2,95.3l5.0,5.0M427.2,100.3l5.0,-5.0M427.2,102.1l5.0,5.0M427.2,107.1l5.0,-5.0M431.8,79.1l5.0,5.0M431.8,84.1l5.0,-5.0M431.8,85.1l5.0,5.0M431.8,90.1l5.0,-5.0M431.8,92.7l5.0,5.0M431.8,97.7l5.0,-5.0M431.8,98.4l5.0,5.0M431.8,103.4l5.0,-5.0M431.8,102.5l5.0,5.0M431.8,107.5l5.0,-5.0M436.5,83.7l5.0,5.0M436.5,88.7l5.0,-5.0M436.5,90.8l5.0,5.0M436.5,95.8l5.0,-5.0M436.5,96.4l5.0,5.0M436.5,101.4l5.0,-5.0M436.5,103.2l5.0,5.0M436.5,108.2l5.0,-5.0M441.1,84.0l5.0,5.0M441.1,89.0l5.0,-5.0M441.1,88.6l5.0,5.0M441.1,93.6l5.0,-5.0M441.1,94.8l5.0,5.0M441.1,99.8l5.0,-5.0M441.1,102.4l5.0,5.0M441.1,107.4l5.0,-5.0M445.8,81.0l5.0,5.0M445.8,86.0l5.0,-5.0M445.8,84.9l5.0,5.0M445.8,89.9l5.0,-5.0M445.8,89.0l5.0,5.0M445.8,94.0l5.0,-5.0M445.8,96.8l5.0,5.0M445.8,101.8l5.0,-5.0M450.4,21.1l5.0,5.0M450.4,26.1l5.0,-5.0M450.4,40.2l5.0,5.0M450.4,45.2l5.0,-5.0M450.4,50.2l5.0,5.0M450.4,55.2l5.0,-5.0M450.4,53.9l5.0,5.0M450.4,58.9l5.0,-5.0M455.1,21.1l5.0,5.0M455.1,26.1l5.0,-5.0M455.1,49.3l5.0,5.0M455.1,54.3l5.0,-5.0M455.1,53.0l5.0,5.0M455.1,58.0l5.0,-5.0M459.7,26.6l5.0,5.0M459.7,31.6l5.0,-5.0M459.7,41.1l5.0,5.0M459.7,46.1l5.0,-5.0M459.7,51.1l5.0,5.0M459.7,56.1l5.0,-5.0M459.7,56.6l5.0,5.0M459.7,61.6l5.0,-5.0M464.4,41.1l5.0,5.0M464.4,46.1l5.0,-5.0M464.4,62.0l5.0,5.0M464.4,67.0l5.0,-5.0M469.0,24.8l5.0,5.0M469.0,29.8l5.0,-5.0M469.0,36.6l5.0,5.0M469.0,41.6l5.0,-5.0M469.0,53.0l5.0,5.0M469.0,58.0l5.0,-5.0M473.7,30.2l5.0,5.0M473.7,35.2l5.0,-5.0M473.7,33.9l5.0,5.0M473.7,38.9l5.0,-5.0M473.7,42.0l5.0,5.0M473.7,47.0l5.0,-5.0M473.7,46.6l5.0,5.0M473.7,51.6l5.0,-5.0M473.7,50.2l5.0,5.0M473.7,55.2l5.0,-5.0M473.7,54.8l5.0,5.0M473.7,59.8l5.0,-5.0M478.3,37.5l5.0,5.0M478.3,42.5l5.0,-5.0M478.3,55.7l5.0,5.0M478.3,60.7l5.0,-5.0M483.0,29.3l5.0,5.0M483.0,34.3l5.0,-5.0M483.0,43.9l5.0,5.0M483.0,48.9l5.0,-5.0M483.0,48.4l5.0,5.0M483.0,53.4l5.0,-5.0M487.6,34.8l5.0,5.0M487.6,39.8l5.0,-5.0M487.6,40.2l5.0,5.0M487.6,45.2l5.0,-5.0M492.3,40.2l5.0,5.0M492.3,45.2l5.0,-5.0M492.3,45.7l5.0,5.0M492.3,50.7l5.0,-5.0M492.3,53.9l5.0,5.0M492.3,58.9l5.0,-5.0M496.9,21.1l5.0,5.0M496.9,26.1l5.0,-5.0M496.9,31.1l5.0,5.0M496.9,36.1l5.0,-5.0M496.9,36.6l5.0,5.0M496.9,41.6l5.0,-5.0M496.9,49.3l5.0,5.0M496.9,54.3l5.0,-5.0M496.9,67.5l5.0,5.0M496.9,72.5l5.0,-5.0M501.6,21.1l5.0,5.0M501.6,26.1l5.0,-5.0M501.6,43.9l5.0,5.0M501.6,48.9l5.0,-5.0M506.2,28.4l5.0,5.0M506.2,33.4l5.0,-5.0M506.2,45.7l5.0,5.0M506.2,50.7l5.0,-5.0M506.2,53.0l5.0,5.0M506.2,58.0l5.0,-5.0M506.2,62.0l5.0,5.0M506.2,67.0l5.0,-5.0M506.2,67.5l5.0,5.0M506.2,72.5l5.0,-5.0M510.9,57.5l5.0,5.0M510.9,62.5l5.0,-5.0M515.5,26.6l5.0,5.0M515.5,31.6l5.0,-5.0M515.5,33.9l5.0,5.0M515.5,38.9l5.0,-5.0M515.5,39.3l5.0,5.0M515.5,44.3l5.0,-5.0M515.5,43.9l5.0,5.0M515.5,48.9l5.0,-5.0M515.5,50.2l5.0,5.0M515.5,55.2l5.0,-5.0M515.5,69.3l5.0,5.0M515.5,74.3l5.0,-5.0M520.2,13.0l5.0,5.0M520.2,18.0l5.0,-5.0M520.2,25.7l5.0,5.0M520.2,30.7l5.0,-5.0M520.2,46.6l5.0,5.0M520.2,51.6l5.0,-5.0M524.8,45.7l5.0,5.0M524.8,50.7l5.0,-5.0M529.5,53.0l5.0,5.0M529.5,58.0l5.0,-5.0M529.5,56.6l5.0,5.0M529.5,61.6l5.0,-5.0M529.5,60.2l5.0,5.0M529.5,65.2l5.0,-5.0M450.4,66.3l5.0,5.0M450.4,71.3l5.0,-5.0M450.4,74.3l5.0,5.0M450.4,79.3l5.0,-5.0M455.1,68.6l5.0,5.0M455.1,73.6l5.0,-5.0M455.1,73.7l5.0,5.0M455.1,78.7l5.0,-5.0M455.1,82.6l5.0,5.0M455.1,87.6l5.0,-5.0M459.7,62.7l5.0,5.0M459.7,67.7l5.0,-5.0M459.7,69.2l5.0,5.0M459.7,74.2l5.0,-5.0M459.7,77.1l5.0,5.0M459.7,82.1l5.0,-5.0M464.4,66.0l5.0,5.0M464.4,71.0l5.0,-5.0M464.4,71.0l5.0,5.0M464.4,76.0l5.0,-5.0M464.4,79.3l5.0,5.0M464.4,84.3l5.0,-5.0M469.0,64.1l5.0,5.0M469.0,69.1l5.0,-5.0M469.0,70.6l5.0,5.0M469.0,75.6l5.0,-5.0M469.0,78.6l5.0,5.0M469.0,83.6l5.0,-5.0M473.7,68.8l5.0,5.0M473.7,73.8l5.0,-5.0M473.7,77.5l5.0,5.0M473.7,82.5l5.0,-5.0M473.7,82.1l5.0,5.0M473.7,87.1l5.0,-5.0M478.3,67.2l5.0,5.0M478.3,72.2l5.0,-5.0M478.3,75.4l5.0,5.0M478.3,80.4l5.0,-5.0M478.3,81.9l5.0,5.0M478.3,86.9l5.0,-5.0M483.0,67.1l5.0,5.0M483.0,72.1l5.0,-5.0M483.0,72.1l5.0,5.0M483.0,77.1l5.0,-5.0M483.0,81.7l5.0,5.0M483.0,86.7l5.0,-5.0M487.6,65.5l5.0,5.0M487.6,70.5l5.0,-5.0M487.6,73.1l5.0,5.0M487.6,78.1l5.0,-5.0M487.6,80.4l5.0,5.0M487.6,85.4l5.0,-5.0M492.3,64.8l5.0,5.0M492.3,69.8l5.0,-5.0M492.3,69.4l5.0,5.0M492.3,74.4l5.0,-5.0M492.3,77.8l5.0,5.0M492.3,82.8l5.0,-5.0M496.9,65.7l5.0,5.0M496.9,70.7l5.0,-5.0M496.9,75.1l5.0,5.0M496.9,80.1l5.0,-5.0M501.6,66.2l5.0,5.0M501.6,71.2l5.0,-5.0M501.6,72.8l5.0,5.0M501.6,77.8l5.0,-5.0M501.6,80.8l5.0,5.0M501.6,85.8l5.0,-5.0M506.2,61.6l5.0,5.0M506.2,66.6l5.0,-5.0M506.2,69.0l5.0,5.0M506.2,74.0l5.0,-5.0M506.2,75.0l5.0,5.0M506.2,80.0l5.0,-5.0M510.9,63.6l5.0,5.0M510.9,68.6l5.0,-5.0M510.9,71.3l5.0,5.0M510.9,76.3l5.0,-5.0M510.9,79.2l5.0,5.0M510.9,84.2l5.0,-5.0M515.5,63.6l5.0,5.0M515.5,68.6l5.0,-5.0M515.5,73.1l5.0,5.0M515.5,78.1l5.0,-5.0M515.5,80.1l5.0,5.0M515.5,85.1l5.0,-5.0M520.2,67.6l5.0,5.0M520.2,72.6l5.0,-5.0M520.2,72.8l5.0,5.0M520.2,77.8l5.0,-5.0M520.2,81.0l5.0,5.0M520.2,86.0l5.0,-5.0M524.8,64.6l5.0,5.0M524.8,69.6l5.0,-5.0M524.8,71.9l5.0,5.0M524.8,76.9l5.0,-5.0M524.8,77.6l5.0,5.0M524.8,82.6l5.0,-5.0M529.5,65.0l5.0,5.0M529.5,70.0l5.0,-5.0M529.5,71.4l5.0,5.0M529.5,76.4l5.0,-5.0M529.5,81.4l5.0,5.0M529.5,86.4l5.0,-5.0M450.4,99.5l5.0,5.0M450.4,104.5l5.0,-5.0M450.4,103.1l5.0,5.0M450.4,108.1l5.0,-5.0M450.4,106.8l5.0,5.0M450.4,111.8l5.0,-5.0M450.4,121.3l5.0,5.0M450.4,126.3l5.0,-5.0M450.4,126.8l5.0,5.0M450.4,131.8l5.0,-5.0M455.1,123.1l5.0,5.0M455.1,128.1l5.0,-5.0M455.1,139.5l5.0,5.0M455.1,144.5l5.0,-5.0M459.7,121.3l5.0,5.0M459.7,126.3l5.0,-5.0M459.7,125.0l5.0,5.0M459.7,130.0l5.0,-5.0M459.7,132.2l5.0,5.0M459.7,137.2l5.0,-5.0M459.7,137.7l5.0,5.0M459.7,142.7l5.0,-5.0M464.4,137.7l5.0,5.0M464.4,142.7l5.0,-5.0M464.4,140.4l5.0,5.0M464.4,145.4l5.0,-5.0M469.0,140.4l5.0,5.0M469.0,145.4l5.0,-5.0M473.7,121.3l5.0,5.0M473.7,126.3l5.0,-5.0M478.3,125.0l5.0,5.0M478.3,130.0l5.0,-5.0M478.3,129.5l5.0,5.0M478.3,134.5l5.0,-5.0M478.3,134.0l5.0,5.0M478.3,139.0l5.0,-5.0M487.6,144.0l5.0,5.0M487.6,149.0l5.0,-5.0M492.3,123.1l5.0,5.0M492.3,128.1l5.0,-5.0M492.3,129.5l5.0,5.0M492.3,134.5l5.0,-5.0M492.3,134.0l5.0,5.0M492.3,139.0l5.0,-5.0M496.9,134.0l5.0,5.0M496.9,139.0l5.0,-5.0M501.6,123.1l5.0,5.0M501.6,128.1l5.0,-5.0M501.6,128.6l5.0,5.0M501.6,133.6l5.0,-5.0M501.6,146.8l5.0,5.0M501.6,151.8l5.0,-5.0M506.2,129.5l5.0,5.0M506.2,134.5l5.0,-5.0M506.2,141.3l5.0,5.0M506.2,146.3l5.0,-5.0M506.2,147.7l5.0,5.0M506.2,152.7l5.0,-5.0M510.9,125.0l5.0,5.0M510.9,130.0l5.0,-5.0M510.9,128.6l5.0,5.0M510.9,133.6l5.0,-5.0M515.5,137.7l5.0,5.0M515.5,142.7l5.0,-5.0M520.2,130.4l5.0,5.0M520.2,135.4l5.0,-5.0M524.8,123.1l5.0,5.0M524.8,128.1l5.0,-5.0M524.8,126.8l5.0,5.0M524.8,131.8l5.0,-5.0M450.4,84.5l5.0,5.0M450.4,89.5l5.0,-5.0M455.1,86.0l5.0,5.0M455.1,91.0l5.0,-5.0M459.7,81.5l5.0,5.0M459.7,86.5l5.0,-5.0M464.4,79.6l5.0,5.0M464.4,84.6l5.0,-5.0M464.4,84.8l5.0,5.0M464.4,89.8l5.0,-5.0M469.0,84.6l5.0,5.0M469.0,89.6l5.0,-5.0M473.7,83.2l5.0,5.0M473.7,88.2l5.0,-5.0M473.7,88.2l5.0,5.0M473.7,93.2l5.0,-5.0M478.3,84.8l5.0,5.0M478.3,89.8l5.0,-5.0M483.0,83.4l5.0,5.0M483.0,88.4l5.0,-5.0M487.6,81.3l5.0,5.0M487.6,86.3l5.0,-5.0M487.6,88.8l5.0,5.0M487.6,93.8l5.0,-5.0M492.3,85.0l5.0,5.0M492.3,90.0l5.0,-5.0M496.9,81.8l5.0,5.0M496.9,86.8l5.0,-5.0M501.6,79.9l5.0,5.0M501.6,84.9l5.0,-5.0M501.6,87.5l5.0,5.0M501.6,92.5l5.0,-5.0M506.2,80.8l5.0,5.0M506.2,85.8l5.0,-5.0M506.2,87.1l5.0,5.0M506.2,92.1l5.0,-5.0M510.9,84.4l5.0,5.0M510.9,89.4l5.0,-5.0M510.9,88.7l5.0,5.0M510.9,93.7l5.0,-5.0M515.5,81.8l5.0,5.0M515.5,86.8l5.0,-5.0M520.2,79.8l5.0,5.0M520.2,84.8l5.0,-5.0M520.2,85.1l5.0,5.0M520.2,90.1l5.0,-5.0M524.8,81.8l5.0,5.0M524.8,86.8l5.0,-5.0M529.5,83.2l5.0,5.0M529.5,88.2l5.0,-5.0M469.0,102.2l5.0,5.0M469.0,107.2l5.0,-5.0M469.0,107.4l5.0,5.0M469.0,112.4l5.0,-5.0M473.7,99.3l5.0,5.0M473.7,104.3l5.0,-5.0M473.7,105.1l5.0,5.0M473.7,110.1l5.0,-5.0M473.7,110.2l5.0,5.0M473.7,115.2l5.0,-5.0M478.3,97.6l5.0,5.0M478.3,102.6l5.0,-5.0M478.3,102.7l5.0,5.0M478.3,107.7l5.0,-5.0M478.3,109.2l5.0,5.0M478.3,114.2l5.0,-5.0M483.0,99.3l5.0,5.0M483.0,104.3l5.0,-5.0M483.0,105.3l5.0,5.0M483.0,110.3l5.0,-5.0M487.6,100.3l5.0,5.0M487.6,105.3l5.0,-5.0M487.6,107.7l5.0,5.0M487.6,112.7l5.0,-5.0M492.3,99.0l5.0,5.0M492.3,104.0l5.0,-5.0M492.3,105.8l5.0,5.0M492.3,110.8l5.0,-5.0M496.9,100.5l5.0,5.0M496.9,105.5l5.0,-5.0M496.9,108.4l5.0,5.0M496.9,113.4l5.0,-5.0M501.6,103.2l5.0,5.0M501.6,108.2l5.0,-5.0M501.6,108.1l5.0,5.0M501.6,113.1l5.0,-5.0M506.2,99.1l5.0,5.0M506.2,104.1l5.0,-5.0M506.2,104.6l5.0,5.0M506.2,109.6l5.0,-5.0M506.2,108.8l5.0,5.0M506.2,113.8l5.0,-5.0M510.9,99.6l5.0,5.0M510.9,104.6l5.0,-5.0M510.9,104.9l5.0,5.0M510.9,109.9l5.0,-5.0M515.5,98.8l5.0,5.0M515.5,103.8l5.0,-5.0M515.5,104.9l5.0,5.0M515.5,109.9l5.0,-5.0M520.2,101.4l5.0,5.0M520.2,106.4l5.0,-5.0M520.2,109.9l5.0,5.0M520.2,114.9l5.0,-5.0M524.8,103.5l5.0,5.0M524.8,108.5l5.0,-5.0M529.5,99.2l5.0,5.0M529.5,104.2l5.0,-5.0M529.5,104.0l5.0,5.0M529.5,109.0l5.0,-5.0M529.5,110.1l5.0,5.0M529.5,115.1l5.0,-5.0" fill="none" stroke="#adadad" stroke-width="1.6"/>
<path d="M71.5,109.8 L76.2,109.5 L80.8,109.1 L85.5,108.7 L90.1,108.3 L94.8,107.9 L99.4,107.5 L104.1,107.1 L108.7,106.6 L113.4,106.1 L118.0,105.7 L122.7,105.2 L127.3,104.7 L132.0,104.1 L136.6,103.5 L141.3,102.9 L145.9,102.4 L150.6,102.0 L155.2,101.6 L159.9,101.4 L164.5,101.1 L169.2,100.9 L173.8,100.7 L178.5,100.5 L183.1,100.3 L187.8,100.1 L192.4,99.9 L197.1,99.6 L201.7,99.4 L206.4,99.2 L211.0,98.9 L215.7,98.7 L220.3,98.4 L225.0,98.2 L229.7,97.9 L234.3,97.6 L239.0,97.4 L243.6,97.1 L248.3,96.8 L252.9,96.6 L257.6,96.3 L262.2,96.0 L266.9,95.7 L271.5,95.4 L276.2,95.1 L280.8,94.7 L285.5,94.4 L290.1,94.0 L294.8,93.7 L299.4,93.5 L304.1,93.5 L308.7,93.5 L313.4,93.5 L318.0,93.5 L322.7,93.5 L327.3,93.5 L332.0,93.5 L336.6,93.4 L341.3,93.2 L345.9,92.9 L350.6,92.5 L355.2,92.1 L359.9,91.7 L364.5,91.3 L369.2,91.0 L373.8,90.7 L378.5,90.5 L383.2,90.3 L387.8,90.1 L392.5,90.0 L397.1,89.9 L401.8,89.7 L406.4,89.6 L411.1,89.6 L415.7,89.5 L420.4,89.5 L425.0,89.6 L429.7,89.9 L434.3,90.2 L439.0,90.4 L443.6,90.7 L448.3,90.9 L452.9,91.1 L457.6,91.3 L462.2,91.5 L466.9,91.7 L471.5,91.9 L476.2,92.2 L480.8,92.6 L485.5,93.0 L490.1,93.6 L494.8,94.2 L499.4,94.9 L504.1,95.6 L508.7,96.4 L513.4,97.2 L518.0,98.0 L522.7,98.9 L527.3,99.8 L532.0,100.8" fill="none" stroke="#000" stroke-width="1.0"/>
<path d="M71.5,109.8 L76.2,109.5 L80.8,109.1 L85.5,108.7 L90.1,108.3 L94.8,107.9 L99.4,107.5 L104.1,107.1 L108.7,106.6 L113.4,106.1 L118.0,105.7 L122.7,105.2 L127.3,104.7 L132.0,104.1 L136.6,103.5 L141.3,102.9 L145.9,102.4 L150.6,102.0 L155.2,101.6 L159.9,101.4 L164.5,101.1 L169.2,100.9 L173.8,100.7 L178.5,100.5 L183.1,100.3 L187.8,100.1 L192.4,99.9 L197.1,99.6 L201.7,99.4 L206.4,99.2 L211.0,98.9 L215.7,98.7 L220.3,98.4 L225.0,98.2 L229.7,97.9 L234.3,97.6 L239.0,97.4 L243.6,97.1 L248.3,96.8 L252.9,96.6 L257.6,96.3 L262.2,96.0 L266.9,95.7 L271.5,95.4 L276.2,95.0 L280.8,94.8 L285.5,94.8 L290.1,94.9 L294.8,94.9 L299.4,95.0 L304.1,95.2 L308.7,95.6 L313.4,96.1 L318.0,96.7 L322.7,97.4 L327.3,98.0 L332.0,98.5 L336.6,99.0 L341.3,99.5 L345.9,100.0 L350.6,100.6 L355.2,101.1 L359.9,101.6 L364.5,102.2 L369.2,102.7 L373.8,103.3 L378.5,103.8 L383.2,104.4 L387.8,104.9 L392.5,105.5 L397.1,106.1 L401.8,106.6 L406.4,107.2 L411.1,107.8 L415.7,108.5 L420.4,109.2 L425.0,109.9 L429.7,110.6 L434.3,111.3 L439.0,111.9 L443.6,112.4 L448.3,113.0 L452.9,113.6 L457.6,114.2 L462.2,114.8 L466.9,115.3 L471.5,115.9 L476.2,116.4 L480.8,116.8 L485.5,117.3 L490.1,117.6 L494.8,118.0 L499.4,118.3 L504.1,118.5 L508.7,118.7 L513.4,118.9 L518.0,119.1 L522.7,119.3 L527.3,119.4 L532.0,119.5" fill="none" stroke="#000" stroke-width="1.0"/>
<path d="M159.9,59.2 L164.5,59.7 L169.2,60.2 L173.8,60.7 L178.5,61.3 L183.1,61.9 L187.8,62.5 L192.4,63.1 L197.1,63.8 L201.7,64.4 L206.4,65.1 L211.0,65.8 L215.7,66.5 L220.3,67.3 L225.0,68.1 L229.7,69.0 L234.3,69.9 L239.0,70.9 L243.6,71.8 L248.3,72.8 L252.9,73.7 L257.6,74.5 L262.2,75.3 L266.9,76.1 L271.5,76.7 L276.2,77.3 L280.8,78.0 L285.5,78.6 L290.1,79.2 L294.8,79.8 L299.4,80.4 L304.1,80.9 L308.7,81.4 L313.4,81.8 L318.0,82.1 L322.7,82.4 L327.3,82.5 L332.0,82.5 L336.6,82.4 L341.3,82.3 L345.9,82.2 L350.6,82.0 L355.2,81.8 L359.9,81.5 L364.5,81.1 L369.2,80.6 L373.8,79.9 L378.5,79.2 L383.2,78.5 L387.8,77.7 L392.5,76.9 L397.1,76.0 L401.8,75.2 L406.4,74.3 L411.1,73.4 L415.7,72.6 L420.4,72.0 L425.0,71.4 L429.7,70.8 L434.3,70.3 L439.0,69.8 L443.6,69.5 L448.3,69.3 L452.9,69.3 L457.6,69.4 L462.2,69.5 L466.9,69.6 L471.5,69.8 L476.2,70.0 L480.8,70.2 L485.5,70.6 L490.1,71.2 L494.8,71.9 L499.4,72.6 L504.1,73.4 L508.7,74.2 L513.4,75.1 L518.0,76.1 L522.7,77.1 L527.3,78.2 L532.0,79.4" fill="none" stroke="#000" stroke-width="1.0"/>
<path d="M159.9,116.6 L164.5,116.4 L169.2,116.2 L173.8,115.9 L178.5,115.6 L183.1,115.4 L187.8,115.1 L192.4,114.7 L197.1,114.4 L201.7,114.1 L206.4,113.7 L211.0,113.4 L215.7,113.0 L220.3,112.6 L225.0,112.2 L229.7,111.8 L234.3,111.3 L239.0,110.8 L243.6,110.3 L248.3,109.8 L252.9,109.2 L257.6,108.6 L262.2,108.0 L266.9,107.3 L271.5,106.5 L276.2,105.4 L280.8,104.4 L285.5,103.5 L290.1,102.7 L294.8,102.0 L299.4,101.3 L304.1,100.6 L308.7,100.0 L313.4,99.4 L318.0,98.9 L322.7,98.4 L327.3,97.9 L332.0,97.5 L336.6,97.2 L341.3,96.9 L345.9,96.6 L350.6,96.3 L355.2,96.1 L359.9,95.8 L364.5,95.6 L369.2,95.3 L373.8,95.0 L378.5,94.7 L383.2,94.4 L387.8,94.0 L392.5,93.5 L397.1,93.1 L401.8,92.6 L406.4,92.2 L411.1,91.7 L415.7,91.1 L420.4,90.4 L425.0,89.5 L429.7,88.4 L434.3,87.2 L439.0,86.2 L443.6,85.4 L448.3,84.8 L452.9,84.2 L457.6,83.6 L462.2,83.1 L466.9,82.6 L471.5,82.0 L476.2,81.4 L480.8,80.8 L485.5,80.0 L490.1,79.1 L494.8,78.3 L499.4,77.6 L504.1,77.0 L508.7,76.5 L513.4,76.0 L518.0,75.6 L522.7,75.2 L527.3,74.9 L532.0,74.7" fill="none" stroke="#000" stroke-width="1.0"/>
<g fill="#3c96e6"><rect x="158.1" y="116.3" width="3.5" height="4.6" rx="1.2"/><rect x="162.8" y="116.1" width="3.5" height="4.6" rx="1.2"/><rect x="167.4" y="115.9" width="3.5" height="4.6" rx="1.2"/><rect x="172.1" y="115.6" width="3.5" height="4.6" rx="1.2"/><rect x="176.7" y="115.3" width="3.5" height="4.6" rx="1.2"/><rect x="181.4" y="115.1" width="3.5" height="4.6" rx="1.2"/><rect x="186.0" y="114.8" width="3.5" height="4.6" rx="1.2"/><rect x="190.7" y="114.4" width="3.5" height="4.6" rx="1.2"/><rect x="195.3" y="114.1" width="3.5" height="4.6" rx="1.2"/><rect x="200.0" y="113.8" width="3.5" height="4.6" rx="1.2"/><rect x="204.6" y="113.4" width="3.5" height="4.6" rx="1.2"/><rect x="209.3" y="113.1" width="3.5" height="4.6" rx="1.2"/><rect x="213.9" y="112.7" width="3.5" height="4.6" rx="1.2"/><rect x="218.6" y="112.3" width="3.5" height="4.6" rx="1.2"/><rect x="223.2" y="111.9" width="3.5" height="4.6" rx="1.2"/><rect x="227.9" y="111.5" width="3.5" height="4.6" rx="1.2"/><rect x="232.6" y="111.0" width="3.5" height="4.6" rx="1.2"/><rect x="237.2" y="110.5" width="3.5" height="4.6" rx="1.2"/><rect x="241.9" y="110.0" width="3.5" height="4.6" rx="1.2"/><rect x="246.5" y="109.5" width="3.5" height="4.6" rx="1.2"/><rect x="251.2" y="108.9" width="3.5" height="4.6" rx="1.2"/><rect x="255.8" y="108.3" width="3.5" height="4.6" rx="1.2"/><rect x="260.5" y="107.7" width="3.5" height="4.6" rx="1.2"/><rect x="265.1" y="107.0" width="3.5" height="4.6" rx="1.2"/><rect x="269.8" y="106.2" width="3.5" height="4.6" rx="1.2"/><rect x="274.4" y="105.1" width="3.5" height="4.6" rx="1.2"/></g>
<g fill="#33dcbc"><rect x="158.1" y="112.4" width="3.5" height="4.4" rx="1.2"/><rect x="162.8" y="112.2" width="3.5" height="4.4" rx="1.2"/><rect x="167.4" y="112.0" width="3.5" height="4.4" rx="1.2"/><rect x="172.1" y="111.7" width="3.5" height="4.4" rx="1.2"/><rect x="176.7" y="111.4" width="3.5" height="4.4" rx="1.2"/><rect x="181.4" y="111.2" width="3.5" height="4.4" rx="1.2"/><rect x="186.0" y="110.9" width="3.5" height="4.4" rx="1.2"/><rect x="190.7" y="110.5" width="3.5" height="4.4" rx="1.2"/><rect x="195.3" y="110.2" width="3.5" height="4.4" rx="1.2"/><rect x="200.0" y="109.9" width="3.5" height="4.4" rx="1.2"/><rect x="204.6" y="109.5" width="3.5" height="4.4" rx="1.2"/><rect x="209.3" y="109.2" width="3.5" height="4.4" rx="1.2"/><rect x="213.9" y="108.8" width="3.5" height="4.4" rx="1.2"/><rect x="218.6" y="108.4" width="3.5" height="4.4" rx="1.2"/><rect x="223.2" y="108.0" width="3.5" height="4.4" rx="1.2"/><rect x="227.9" y="107.6" width="3.5" height="4.4" rx="1.2"/><rect x="232.6" y="107.1" width="3.5" height="4.4" rx="1.2"/><rect x="237.2" y="106.6" width="3.5" height="4.4" rx="1.2"/><rect x="241.9" y="106.1" width="3.5" height="4.4" rx="1.2"/><rect x="246.5" y="105.6" width="3.5" height="4.4" rx="1.2"/><rect x="251.2" y="105.0" width="3.5" height="4.4" rx="1.2"/><rect x="255.8" y="104.4" width="3.5" height="4.4" rx="1.2"/><rect x="260.5" y="103.8" width="3.5" height="4.4" rx="1.2"/><rect x="265.1" y="103.1" width="3.5" height="4.4" rx="1.2"/><rect x="269.8" y="102.3" width="3.5" height="4.4" rx="1.2"/><rect x="274.4" y="101.2" width="3.5" height="4.4" rx="1.2"/></g>
<g fill="#33dcbc"><rect x="279.1" y="104.1" width="3.5" height="4.6" rx="1.2"/><rect x="283.7" y="103.2" width="3.5" height="4.6" rx="1.2"/><rect x="288.4" y="102.4" width="3.5" height="4.6" rx="1.2"/><rect x="293.0" y="101.7" width="3.5" height="4.6" rx="1.2"/><rect x="297.7" y="101.0" width="3.5" height="4.6" rx="1.2"/><rect x="302.3" y="100.3" width="3.5" height="4.6" rx="1.2"/><rect x="307.0" y="99.7" width="3.5" height="4.6" rx="1.2"/><rect x="311.6" y="99.1" width="3.5" height="4.6" rx="1.2"/><rect x="316.3" y="98.6" width="3.5" height="4.6" rx="1.2"/><rect x="320.9" y="98.1" width="3.5" height="4.6" rx="1.2"/><rect x="325.6" y="97.6" width="3.5" height="4.6" rx="1.2"/><rect x="330.2" y="97.2" width="3.5" height="4.6" rx="1.2"/><rect x="334.9" y="96.9" width="3.5" height="4.6" rx="1.2"/><rect x="339.5" y="96.6" width="3.5" height="4.6" rx="1.2"/><rect x="344.2" y="96.3" width="3.5" height="4.6" rx="1.2"/></g>
<g fill="#3c96e6"><rect x="279.1" y="100.2" width="3.5" height="4.4" rx="1.2"/><rect x="283.7" y="99.3" width="3.5" height="4.4" rx="1.2"/><rect x="288.4" y="98.5" width="3.5" height="4.4" rx="1.2"/><rect x="293.0" y="97.8" width="3.5" height="4.4" rx="1.2"/><rect x="297.7" y="97.1" width="3.5" height="4.4" rx="1.2"/><rect x="302.3" y="96.4" width="3.5" height="4.4" rx="1.2"/><rect x="307.0" y="95.8" width="3.5" height="4.4" rx="1.2"/><rect x="311.6" y="95.2" width="3.5" height="4.4" rx="1.2"/><rect x="316.3" y="94.7" width="3.5" height="4.4" rx="1.2"/><rect x="320.9" y="94.2" width="3.5" height="4.4" rx="1.2"/><rect x="325.6" y="93.7" width="3.5" height="4.4" rx="1.2"/><rect x="330.2" y="93.3" width="3.5" height="4.4" rx="1.2"/><rect x="334.9" y="93.0" width="3.5" height="4.4" rx="1.2"/><rect x="339.5" y="92.7" width="3.5" height="4.4" rx="1.2"/><rect x="344.2" y="92.4" width="3.5" height="4.4" rx="1.2"/></g>
<g fill="#1f8f80"><rect x="344.1" y="95.2" width="3.6" height="4.4" rx="1.2"/><rect x="348.8" y="94.9" width="3.6" height="4.4" rx="1.2"/><rect x="353.4" y="94.7" width="3.6" height="4.4" rx="1.2"/><rect x="358.1" y="94.4" width="3.6" height="4.4" rx="1.2"/><rect x="362.7" y="94.2" width="3.6" height="4.4" rx="1.2"/><rect x="367.4" y="93.9" width="3.6" height="4.4" rx="1.2"/><rect x="372.0" y="93.6" width="3.6" height="4.4" rx="1.2"/><rect x="376.7" y="93.3" width="3.6" height="4.4" rx="1.2"/><rect x="381.4" y="93.0" width="3.6" height="4.4" rx="1.2"/><rect x="386.0" y="92.6" width="3.6" height="4.4" rx="1.2"/><rect x="390.7" y="92.1" width="3.6" height="4.4" rx="1.2"/><rect x="395.3" y="91.7" width="3.6" height="4.4" rx="1.2"/><rect x="400.0" y="91.2" width="3.6" height="4.4" rx="1.2"/><rect x="404.6" y="90.8" width="3.6" height="4.4" rx="1.2"/><rect x="409.3" y="90.3" width="3.6" height="4.4" rx="1.2"/><rect x="413.9" y="89.7" width="3.6" height="4.4" rx="1.2"/><rect x="418.6" y="89.0" width="3.6" height="4.4" rx="1.2"/><rect x="423.2" y="88.1" width="3.6" height="4.4" rx="1.2"/><rect x="427.9" y="87.0" width="3.6" height="4.4" rx="1.2"/><rect x="432.5" y="85.8" width="3.6" height="4.4" rx="1.2"/><rect x="437.2" y="84.8" width="3.6" height="4.4" rx="1.2"/><rect x="441.8" y="84.0" width="3.6" height="4.4" rx="1.2"/><rect x="446.5" y="83.4" width="3.6" height="4.4" rx="1.2"/><rect x="451.1" y="82.8" width="3.6" height="4.4" rx="1.2"/><rect x="455.8" y="82.2" width="3.6" height="4.4" rx="1.2"/><rect x="460.4" y="81.7" width="3.6" height="4.4" rx="1.2"/><rect x="465.1" y="81.2" width="3.6" height="4.4" rx="1.2"/><rect x="469.7" y="80.6" width="3.6" height="4.4" rx="1.2"/><rect x="474.4" y="80.0" width="3.6" height="4.4" rx="1.2"/><rect x="479.0" y="79.4" width="3.6" height="4.4" rx="1.2"/><rect x="483.7" y="78.6" width="3.6" height="4.4" rx="1.2"/><rect x="488.3" y="77.7" width="3.6" height="4.4" rx="1.2"/><rect x="493.0" y="76.9" width="3.6" height="4.4" rx="1.2"/><rect x="497.6" y="76.2" width="3.6" height="4.4" rx="1.2"/><rect x="502.3" y="75.6" width="3.6" height="4.4" rx="1.2"/><rect x="506.9" y="75.1" width="3.6" height="4.4" rx="1.2"/><rect x="511.6" y="74.6" width="3.6" height="4.4" rx="1.2"/><rect x="516.2" y="74.2" width="3.6" height="4.4" rx="1.2"/><rect x="520.9" y="73.8" width="3.6" height="4.4" rx="1.2"/><rect x="525.5" y="73.5" width="3.6" height="4.4" rx="1.2"/><rect x="530.2" y="73.3" width="3.6" height="4.4" rx="1.2"/></g>
<g fill="#33dcbc"><rect x="344.1" y="94.4" width="3.6" height="4.0" rx="1.2"/><rect x="348.8" y="94.1" width="3.6" height="4.0" rx="1.2"/><rect x="353.4" y="93.9" width="3.6" height="4.0" rx="1.2"/><rect x="358.1" y="93.6" width="3.6" height="4.0" rx="1.2"/><rect x="362.7" y="93.4" width="3.6" height="4.0" rx="1.2"/><rect x="367.4" y="93.1" width="3.6" height="4.0" rx="1.2"/><rect x="372.0" y="92.8" width="3.6" height="4.0" rx="1.2"/><rect x="376.7" y="92.5" width="3.6" height="4.0" rx="1.2"/><rect x="381.4" y="92.2" width="3.6" height="4.0" rx="1.2"/><rect x="386.0" y="91.8" width="3.6" height="4.0" rx="1.2"/><rect x="390.7" y="91.3" width="3.6" height="4.0" rx="1.2"/><rect x="395.3" y="90.9" width="3.6" height="4.0" rx="1.2"/><rect x="400.0" y="90.4" width="3.6" height="4.0" rx="1.2"/><rect x="404.6" y="90.0" width="3.6" height="4.0" rx="1.2"/><rect x="409.3" y="89.5" width="3.6" height="4.0" rx="1.2"/><rect x="413.9" y="88.9" width="3.6" height="4.0" rx="1.2"/><rect x="418.6" y="88.2" width="3.6" height="4.0" rx="1.2"/><rect x="423.2" y="87.3" width="3.6" height="4.0" rx="1.2"/><rect x="427.9" y="86.2" width="3.6" height="4.0" rx="1.2"/><rect x="432.5" y="85.0" width="3.6" height="4.0" rx="1.2"/><rect x="437.2" y="84.0" width="3.6" height="4.0" rx="1.2"/><rect x="441.8" y="83.2" width="3.6" height="4.0" rx="1.2"/><rect x="446.5" y="82.6" width="3.6" height="4.0" rx="1.2"/><rect x="451.1" y="82.0" width="3.6" height="4.0" rx="1.2"/><rect x="455.8" y="81.4" width="3.6" height="4.0" rx="1.2"/><rect x="460.4" y="80.9" width="3.6" height="4.0" rx="1.2"/><rect x="465.1" y="80.4" width="3.6" height="4.0" rx="1.2"/><rect x="469.7" y="79.8" width="3.6" height="4.0" rx="1.2"/><rect x="474.4" y="79.2" width="3.6" height="4.0" rx="1.2"/><rect x="479.0" y="78.6" width="3.6" height="4.0" rx="1.2"/><rect x="483.7" y="77.8" width="3.6" height="4.0" rx="1.2"/><rect x="488.3" y="76.9" width="3.6" height="4.0" rx="1.2"/><rect x="493.0" y="76.1" width="3.6" height="4.0" rx="1.2"/><rect x="497.6" y="75.4" width="3.6" height="4.0" rx="1.2"/><rect x="502.3" y="74.8" width="3.6" height="4.0" rx="1.2"/><rect x="506.9" y="74.3" width="3.6" height="4.0" rx="1.2"/><rect x="511.6" y="73.8" width="3.6" height="4.0" rx="1.2"/><rect x="516.2" y="73.4" width="3.6" height="4.0" rx="1.2"/><rect x="520.9" y="73.0" width="3.6" height="4.0" rx="1.2"/><rect x="525.5" y="72.7" width="3.6" height="4.0" rx="1.2"/><rect x="530.2" y="72.5" width="3.6" height="4.0" rx="1.2"/></g>
<g fill="#33dcbc"><circle cx="159.9" cy="61.2" r="2.15"/><circle cx="164.5" cy="61.7" r="2.15"/><circle cx="169.2" cy="62.2" r="2.15"/><circle cx="173.8" cy="62.7" r="2.15"/><circle cx="178.5" cy="63.3" r="2.15"/><circle cx="183.1" cy="63.9" r="2.15"/><circle cx="187.8" cy="64.5" r="2.15"/><circle cx="192.4" cy="65.1" r="2.15"/><circle cx="197.1" cy="65.8" r="2.15"/><circle cx="201.7" cy="66.4" r="2.15"/><circle cx="206.4" cy="67.1" r="2.15"/><circle cx="211.0" cy="67.8" r="2.15"/><circle cx="215.7" cy="68.5" r="2.15"/><circle cx="220.3" cy="69.3" r="2.15"/><circle cx="225.0" cy="70.1" r="2.15"/><circle cx="229.7" cy="71.0" r="2.15"/><circle cx="234.3" cy="71.9" r="2.15"/><circle cx="239.0" cy="72.9" r="2.15"/><circle cx="243.6" cy="73.8" r="2.15"/><circle cx="248.3" cy="74.8" r="2.15"/><circle cx="252.9" cy="75.7" r="2.15"/><circle cx="257.6" cy="76.5" r="2.15"/><circle cx="262.2" cy="77.3" r="2.15"/><circle cx="266.9" cy="78.1" r="2.15"/><circle cx="271.5" cy="78.7" r="2.15"/><circle cx="276.2" cy="79.3" r="2.15"/><circle cx="280.8" cy="80.0" r="2.15"/></g>
<g fill="#2424c8"><circle cx="159.9" cy="58.6" r="2.15"/><circle cx="164.5" cy="59.1" r="2.15"/><circle cx="169.2" cy="59.6" r="2.15"/><circle cx="173.8" cy="60.1" r="2.15"/><circle cx="178.5" cy="60.7" r="2.15"/><circle cx="183.1" cy="61.3" r="2.15"/><circle cx="187.8" cy="61.9" r="2.15"/><circle cx="192.4" cy="62.5" r="2.15"/><circle cx="197.1" cy="63.2" r="2.15"/><circle cx="201.7" cy="63.8" r="2.15"/><circle cx="206.4" cy="64.5" r="2.15"/><circle cx="211.0" cy="65.2" r="2.15"/><circle cx="215.7" cy="65.9" r="2.15"/><circle cx="220.3" cy="66.7" r="2.15"/><circle cx="225.0" cy="67.5" r="2.15"/><circle cx="229.7" cy="68.4" r="2.15"/><circle cx="234.3" cy="69.3" r="2.15"/><circle cx="239.0" cy="70.3" r="2.15"/><circle cx="243.6" cy="71.2" r="2.15"/><circle cx="248.3" cy="72.2" r="2.15"/><circle cx="252.9" cy="73.1" r="2.15"/><circle cx="257.6" cy="73.9" r="2.15"/><circle cx="262.2" cy="74.7" r="2.15"/><circle cx="266.9" cy="75.5" r="2.15"/><circle cx="271.5" cy="76.1" r="2.15"/><circle cx="276.2" cy="76.7" r="2.15"/><circle cx="280.8" cy="77.4" r="2.15"/></g>
<g fill="#a83470"><circle cx="159.9" cy="59.6" r="2.15"/><circle cx="164.5" cy="60.1" r="2.15"/><circle cx="169.2" cy="60.6" r="2.15"/><circle cx="173.8" cy="61.1" r="2.15"/><circle cx="178.5" cy="61.7" r="2.15"/><circle cx="183.1" cy="62.3" r="2.15"/><circle cx="187.8" cy="62.9" r="2.15"/><circle cx="192.4" cy="63.5" r="2.15"/><circle cx="197.1" cy="64.2" r="2.15"/><circle cx="201.7" cy="64.8" r="2.15"/><circle cx="206.4" cy="65.5" r="2.15"/><circle cx="211.0" cy="66.2" r="2.15"/><circle cx="215.7" cy="66.9" r="2.15"/><circle cx="220.3" cy="67.7" r="2.15"/><circle cx="225.0" cy="68.5" r="2.15"/><circle cx="229.7" cy="69.4" r="2.15"/><circle cx="234.3" cy="70.3" r="2.15"/><circle cx="239.0" cy="71.3" r="2.15"/><circle cx="243.6" cy="72.2" r="2.15"/><circle cx="248.3" cy="73.2" r="2.15"/><circle cx="252.9" cy="74.1" r="2.15"/><circle cx="257.6" cy="74.9" r="2.15"/><circle cx="262.2" cy="75.7" r="2.15"/><circle cx="266.9" cy="76.5" r="2.15"/><circle cx="271.5" cy="77.1" r="2.15"/><circle cx="276.2" cy="77.7" r="2.15"/><circle cx="280.8" cy="78.4" r="2.15"/></g>
<g fill="#33dcbc"><circle cx="280.8" cy="76.4" r="2.15"/><circle cx="285.5" cy="77.0" r="2.15"/><circle cx="290.1" cy="77.6" r="2.15"/><circle cx="294.8" cy="78.2" r="2.15"/><circle cx="299.4" cy="78.8" r="2.15"/><circle cx="304.1" cy="79.3" r="2.15"/><circle cx="308.7" cy="79.8" r="2.15"/><circle cx="313.4" cy="80.2" r="2.15"/><circle cx="318.0" cy="80.5" r="2.15"/><circle cx="322.7" cy="80.8" r="2.15"/><circle cx="327.3" cy="80.9" r="2.15"/><circle cx="332.0" cy="80.9" r="2.15"/><circle cx="336.6" cy="80.8" r="2.15"/><circle cx="341.3" cy="80.7" r="2.15"/><circle cx="345.9" cy="80.6" r="2.15"/><circle cx="350.6" cy="80.4" r="2.15"/><circle cx="355.2" cy="80.2" r="2.15"/><circle cx="359.9" cy="79.9" r="2.15"/><circle cx="364.5" cy="79.5" r="2.15"/><circle cx="369.2" cy="79.0" r="2.15"/><circle cx="373.8" cy="78.3" r="2.15"/><circle cx="378.5" cy="77.6" r="2.15"/><circle cx="383.2" cy="76.9" r="2.15"/><circle cx="387.8" cy="76.1" r="2.15"/><circle cx="392.5" cy="75.3" r="2.15"/><circle cx="397.1" cy="74.4" r="2.15"/><circle cx="401.8" cy="73.6" r="2.15"/><circle cx="406.4" cy="72.7" r="2.15"/><circle cx="411.1" cy="71.8" r="2.15"/><circle cx="415.7" cy="71.0" r="2.15"/><circle cx="420.4" cy="70.4" r="2.15"/></g>
<g fill="#a83470"><circle cx="280.8" cy="79.0" r="2.15"/><circle cx="285.5" cy="79.6" r="2.15"/><circle cx="290.1" cy="80.2" r="2.15"/><circle cx="294.8" cy="80.8" r="2.15"/><circle cx="299.4" cy="81.4" r="2.15"/><circle cx="304.1" cy="81.9" r="2.15"/><circle cx="308.7" cy="82.4" r="2.15"/><circle cx="313.4" cy="82.8" r="2.15"/><circle cx="318.0" cy="83.1" r="2.15"/><circle cx="322.7" cy="83.4" r="2.15"/><circle cx="327.3" cy="83.5" r="2.15"/><circle cx="332.0" cy="83.5" r="2.15"/><circle cx="336.6" cy="83.4" r="2.15"/><circle cx="341.3" cy="83.3" r="2.15"/><circle cx="345.9" cy="83.2" r="2.15"/><circle cx="350.6" cy="83.0" r="2.15"/><circle cx="355.2" cy="82.8" r="2.15"/><circle cx="359.9" cy="82.5" r="2.15"/><circle cx="364.5" cy="82.1" r="2.15"/><circle cx="369.2" cy="81.6" r="2.15"/><circle cx="373.8" cy="80.9" r="2.15"/><circle cx="378.5" cy="80.2" r="2.15"/><circle cx="383.2" cy="79.5" r="2.15"/><circle cx="387.8" cy="78.7" r="2.15"/><circle cx="392.5" cy="77.9" r="2.15"/><circle cx="397.1" cy="77.0" r="2.15"/><circle cx="401.8" cy="76.2" r="2.15"/><circle cx="406.4" cy="75.3" r="2.15"/><circle cx="411.1" cy="74.4" r="2.15"/><circle cx="415.7" cy="73.6" r="2.15"/><circle cx="420.4" cy="73.0" r="2.15"/></g>
<g fill="#33dcbc"><circle cx="420.4" cy="74.2" r="2.15"/><circle cx="425.0" cy="73.6" r="2.15"/><circle cx="429.7" cy="73.0" r="2.15"/><circle cx="434.3" cy="72.5" r="2.15"/><circle cx="439.0" cy="72.0" r="2.15"/><circle cx="443.6" cy="71.7" r="2.15"/><circle cx="448.3" cy="71.5" r="2.15"/><circle cx="452.9" cy="71.5" r="2.15"/><circle cx="457.6" cy="71.6" r="2.15"/><circle cx="462.2" cy="71.7" r="2.15"/><circle cx="466.9" cy="71.8" r="2.15"/><circle cx="471.5" cy="72.0" r="2.15"/><circle cx="476.2" cy="72.2" r="2.15"/><circle cx="480.8" cy="72.4" r="2.15"/><circle cx="485.5" cy="72.8" r="2.15"/><circle cx="490.1" cy="73.4" r="2.15"/><circle cx="494.8" cy="74.1" r="2.15"/><circle cx="499.4" cy="74.8" r="2.15"/><circle cx="504.1" cy="75.6" r="2.15"/><circle cx="508.7" cy="76.4" r="2.15"/><circle cx="513.4" cy="77.3" r="2.15"/><circle cx="518.0" cy="78.3" r="2.15"/><circle cx="522.7" cy="79.3" r="2.15"/><circle cx="527.3" cy="80.4" r="2.15"/><circle cx="532.0" cy="81.6" r="2.15"/></g>
<g fill="#a83470"><circle cx="420.4" cy="71.4" r="2.15"/><circle cx="425.0" cy="70.8" r="2.15"/><circle cx="429.7" cy="70.2" r="2.15"/><circle cx="434.3" cy="69.7" r="2.15"/><circle cx="439.0" cy="69.2" r="2.15"/><circle cx="443.6" cy="68.9" r="2.15"/><circle cx="448.3" cy="68.7" r="2.15"/><circle cx="452.9" cy="68.7" r="2.15"/><circle cx="457.6" cy="68.8" r="2.15"/><circle cx="462.2" cy="68.9" r="2.15"/><circle cx="466.9" cy="69.0" r="2.15"/><circle cx="471.5" cy="69.2" r="2.15"/><circle cx="476.2" cy="69.4" r="2.15"/><circle cx="480.8" cy="69.6" r="2.15"/><circle cx="485.5" cy="70.0" r="2.15"/><circle cx="490.1" cy="70.6" r="2.15"/><circle cx="494.8" cy="71.3" r="2.15"/><circle cx="499.4" cy="72.0" r="2.15"/><circle cx="504.1" cy="72.8" r="2.15"/><circle cx="508.7" cy="73.6" r="2.15"/><circle cx="513.4" cy="74.5" r="2.15"/><circle cx="518.0" cy="75.5" r="2.15"/><circle cx="522.7" cy="76.5" r="2.15"/><circle cx="527.3" cy="77.6" r="2.15"/><circle cx="532.0" cy="78.8" r="2.15"/></g>
<g fill="#823c5a"><circle cx="71.5" cy="111.5" r="2.15"/><circle cx="76.2" cy="111.2" r="2.15"/><circle cx="80.8" cy="110.8" r="2.15"/><circle cx="85.5" cy="110.4" r="2.15"/><circle cx="90.1" cy="110.0" r="2.15"/><circle cx="94.8" cy="109.6" r="2.15"/><circle cx="99.4" cy="109.2" r="2.15"/><circle cx="104.1" cy="108.8" r="2.15"/><circle cx="108.7" cy="108.3" r="2.15"/><circle cx="113.4" cy="107.8" r="2.15"/><circle cx="118.0" cy="107.4" r="2.15"/><circle cx="122.7" cy="106.9" r="2.15"/><circle cx="127.3" cy="106.4" r="2.15"/><circle cx="132.0" cy="105.8" r="2.15"/><circle cx="136.6" cy="105.2" r="2.15"/><circle cx="141.3" cy="104.6" r="2.15"/><circle cx="145.9" cy="104.1" r="2.15"/><circle cx="150.6" cy="103.7" r="2.15"/><circle cx="155.2" cy="103.3" r="2.15"/><circle cx="159.9" cy="103.1" r="2.15"/><circle cx="164.5" cy="102.8" r="2.15"/><circle cx="169.2" cy="102.6" r="2.15"/><circle cx="173.8" cy="102.4" r="2.15"/><circle cx="178.5" cy="102.2" r="2.15"/><circle cx="183.1" cy="102.0" r="2.15"/><circle cx="187.8" cy="101.8" r="2.15"/><circle cx="192.4" cy="101.6" r="2.15"/><circle cx="197.1" cy="101.3" r="2.15"/><circle cx="201.7" cy="101.1" r="2.15"/><circle cx="206.4" cy="100.9" r="2.15"/><circle cx="211.0" cy="100.6" r="2.15"/><circle cx="215.7" cy="100.4" r="2.15"/><circle cx="220.3" cy="100.1" r="2.15"/><circle cx="225.0" cy="99.9" r="2.15"/><circle cx="229.7" cy="99.6" r="2.15"/><circle cx="234.3" cy="99.3" r="2.15"/><circle cx="239.0" cy="99.1" r="2.15"/><circle cx="243.6" cy="98.8" r="2.15"/><circle cx="248.3" cy="98.5" r="2.15"/><circle cx="252.9" cy="98.3" r="2.15"/><circle cx="257.6" cy="98.0" r="2.15"/><circle cx="262.2" cy="97.7" r="2.15"/><circle cx="266.9" cy="97.4" r="2.15"/><circle cx="271.5" cy="97.1" r="2.15"/><circle cx="276.2" cy="96.8" r="2.15"/><circle cx="280.8" cy="96.4" r="2.15"/><circle cx="285.5" cy="96.1" r="2.15"/><circle cx="290.1" cy="95.7" r="2.15"/><circle cx="294.8" cy="95.4" r="2.15"/><circle cx="299.4" cy="95.2" r="2.15"/><circle cx="304.1" cy="95.2" r="2.15"/><circle cx="308.7" cy="95.2" r="2.15"/><circle cx="313.4" cy="95.2" r="2.15"/><circle cx="318.0" cy="95.2" r="2.15"/><circle cx="322.7" cy="95.2" r="2.15"/><circle cx="327.3" cy="95.2" r="2.15"/></g>
<g fill="#2424c8"><circle cx="71.5" cy="108.1" r="2.15"/><circle cx="76.2" cy="107.8" r="2.15"/><circle cx="80.8" cy="107.4" r="2.15"/><circle cx="85.5" cy="107.0" r="2.15"/><circle cx="90.1" cy="106.6" r="2.15"/><circle cx="94.8" cy="106.2" r="2.15"/><circle cx="99.4" cy="105.8" r="2.15"/><circle cx="104.1" cy="105.4" r="2.15"/><circle cx="108.7" cy="104.9" r="2.15"/><circle cx="113.4" cy="104.4" r="2.15"/><circle cx="118.0" cy="104.0" r="2.15"/><circle cx="122.7" cy="103.5" r="2.15"/><circle cx="127.3" cy="103.0" r="2.15"/><circle cx="132.0" cy="102.4" r="2.15"/><circle cx="136.6" cy="101.8" r="2.15"/><circle cx="141.3" cy="101.2" r="2.15"/><circle cx="145.9" cy="100.7" r="2.15"/><circle cx="150.6" cy="100.3" r="2.15"/><circle cx="155.2" cy="99.9" r="2.15"/><circle cx="159.9" cy="99.7" r="2.15"/><circle cx="164.5" cy="99.4" r="2.15"/><circle cx="169.2" cy="99.2" r="2.15"/><circle cx="173.8" cy="99.0" r="2.15"/><circle cx="178.5" cy="98.8" r="2.15"/><circle cx="183.1" cy="98.6" r="2.15"/><circle cx="187.8" cy="98.4" r="2.15"/><circle cx="192.4" cy="98.2" r="2.15"/><circle cx="197.1" cy="97.9" r="2.15"/><circle cx="201.7" cy="97.7" r="2.15"/><circle cx="206.4" cy="97.5" r="2.15"/><circle cx="211.0" cy="97.2" r="2.15"/><circle cx="215.7" cy="97.0" r="2.15"/><circle cx="220.3" cy="96.7" r="2.15"/><circle cx="225.0" cy="96.5" r="2.15"/><circle cx="229.7" cy="96.2" r="2.15"/><circle cx="234.3" cy="95.9" r="2.15"/><circle cx="239.0" cy="95.7" r="2.15"/><circle cx="243.6" cy="95.4" r="2.15"/><circle cx="248.3" cy="95.1" r="2.15"/><circle cx="252.9" cy="94.9" r="2.15"/><circle cx="257.6" cy="94.6" r="2.15"/><circle cx="262.2" cy="94.3" r="2.15"/><circle cx="266.9" cy="94.0" r="2.15"/><circle cx="271.5" cy="93.7" r="2.15"/><circle cx="276.2" cy="93.4" r="2.15"/><circle cx="280.8" cy="93.0" r="2.15"/><circle cx="285.5" cy="92.7" r="2.15"/><circle cx="290.1" cy="92.3" r="2.15"/><circle cx="294.8" cy="92.0" r="2.15"/><circle cx="299.4" cy="91.8" r="2.15"/><circle cx="304.1" cy="91.8" r="2.15"/><circle cx="308.7" cy="91.8" r="2.15"/><circle cx="313.4" cy="91.8" r="2.15"/><circle cx="318.0" cy="91.8" r="2.15"/><circle cx="322.7" cy="91.8" r="2.15"/><circle cx="327.3" cy="91.8" r="2.15"/></g>
<g fill="#2424c8"><circle cx="322.7" cy="99.2" r="2.15"/><circle cx="327.3" cy="99.8" r="2.15"/><circle cx="332.0" cy="100.3" r="2.15"/><circle cx="336.6" cy="100.8" r="2.15"/><circle cx="341.3" cy="101.3" r="2.15"/><circle cx="345.9" cy="101.8" r="2.15"/><circle cx="350.6" cy="102.4" r="2.15"/><circle cx="355.2" cy="102.9" r="2.15"/><circle cx="359.9" cy="103.4" r="2.15"/><circle cx="364.5" cy="104.0" r="2.15"/><circle cx="369.2" cy="104.5" r="2.15"/><circle cx="373.8" cy="105.1" r="2.15"/><circle cx="378.5" cy="105.6" r="2.15"/><circle cx="383.2" cy="106.2" r="2.15"/><circle cx="387.8" cy="106.7" r="2.15"/><circle cx="392.5" cy="107.3" r="2.15"/><circle cx="397.1" cy="107.9" r="2.15"/><circle cx="401.8" cy="108.4" r="2.15"/><circle cx="406.4" cy="109.0" r="2.15"/><circle cx="411.1" cy="109.6" r="2.15"/><circle cx="415.7" cy="110.3" r="2.15"/><circle cx="420.4" cy="111.0" r="2.15"/><circle cx="425.0" cy="111.7" r="2.15"/><circle cx="429.7" cy="112.4" r="2.15"/><circle cx="434.3" cy="113.1" r="2.15"/><circle cx="439.0" cy="113.7" r="2.15"/><circle cx="443.6" cy="114.2" r="2.15"/><circle cx="448.3" cy="114.8" r="2.15"/><circle cx="452.9" cy="115.4" r="2.15"/><circle cx="457.6" cy="116.0" r="2.15"/><circle cx="462.2" cy="116.6" r="2.15"/><circle cx="466.9" cy="117.1" r="2.15"/><circle cx="471.5" cy="117.7" r="2.15"/><circle cx="476.2" cy="118.2" r="2.15"/><circle cx="480.8" cy="118.6" r="2.15"/><circle cx="485.5" cy="119.1" r="2.15"/><circle cx="490.1" cy="119.4" r="2.15"/><circle cx="494.8" cy="119.8" r="2.15"/><circle cx="499.4" cy="120.1" r="2.15"/><circle cx="504.1" cy="120.3" r="2.15"/><circle cx="508.7" cy="120.5" r="2.15"/><circle cx="513.4" cy="120.7" r="2.15"/><circle cx="518.0" cy="120.9" r="2.15"/><circle cx="522.7" cy="121.1" r="2.15"/><circle cx="527.3" cy="121.2" r="2.15"/><circle cx="532.0" cy="121.3" r="2.15"/></g>
<g fill="#823c5a"><circle cx="322.7" cy="96.8" r="2.15"/><circle cx="327.3" cy="97.4" r="2.15"/><circle cx="332.0" cy="97.9" r="2.15"/><circle cx="336.6" cy="98.4" r="2.15"/><circle cx="341.3" cy="98.9" r="2.15"/><circle cx="345.9" cy="99.4" r="2.15"/><circle cx="350.6" cy="100.0" r="2.15"/><circle cx="355.2" cy="100.5" r="2.15"/><circle cx="359.9" cy="101.0" r="2.15"/><circle cx="364.5" cy="101.6" r="2.15"/><circle cx="369.2" cy="102.1" r="2.15"/><circle cx="373.8" cy="102.7" r="2.15"/><circle cx="378.5" cy="103.2" r="2.15"/><circle cx="383.2" cy="103.8" r="2.15"/><circle cx="387.8" cy="104.3" r="2.15"/><circle cx="392.5" cy="104.9" r="2.15"/><circle cx="397.1" cy="105.5" r="2.15"/><circle cx="401.8" cy="106.0" r="2.15"/><circle cx="406.4" cy="106.6" r="2.15"/><circle cx="411.1" cy="107.2" r="2.15"/><circle cx="415.7" cy="107.9" r="2.15"/><circle cx="420.4" cy="108.6" r="2.15"/><circle cx="425.0" cy="109.3" r="2.15"/><circle cx="429.7" cy="110.0" r="2.15"/><circle cx="434.3" cy="110.7" r="2.15"/><circle cx="439.0" cy="111.3" r="2.15"/><circle cx="443.6" cy="111.8" r="2.15"/><circle cx="448.3" cy="112.4" r="2.15"/><circle cx="452.9" cy="113.0" r="2.15"/><circle cx="457.6" cy="113.6" r="2.15"/><circle cx="462.2" cy="114.2" r="2.15"/><circle cx="466.9" cy="114.7" r="2.15"/><circle cx="471.5" cy="115.3" r="2.15"/><circle cx="476.2" cy="115.8" r="2.15"/><circle cx="480.8" cy="116.2" r="2.15"/><circle cx="485.5" cy="116.7" r="2.15"/><circle cx="490.1" cy="117.0" r="2.15"/><circle cx="494.8" cy="117.4" r="2.15"/><circle cx="499.4" cy="117.7" r="2.15"/><circle cx="504.1" cy="117.9" r="2.15"/><circle cx="508.7" cy="118.1" r="2.15"/><circle cx="513.4" cy="118.3" r="2.15"/><circle cx="518.0" cy="118.5" r="2.15"/><circle cx="522.7" cy="118.7" r="2.15"/><circle cx="527.3" cy="118.8" r="2.15"/><circle cx="532.0" cy="118.9" r="2.15"/></g>
<g fill="#9a78c8"><rect x="320.8" y="92.3" width="3.8" height="4.0" rx="1.6"/><rect x="325.4" y="92.3" width="3.8" height="4.0" rx="1.6"/><rect x="330.1" y="92.3" width="3.8" height="4.0" rx="1.6"/><rect x="334.7" y="92.2" width="3.8" height="4.0" rx="1.6"/><rect x="339.4" y="92.0" width="3.8" height="4.0" rx="1.6"/><rect x="344.0" y="91.7" width="3.8" height="4.0" rx="1.6"/><rect x="348.7" y="91.3" width="3.8" height="4.0" rx="1.6"/><rect x="353.3" y="90.9" width="3.8" height="4.0" rx="1.6"/><rect x="358.0" y="90.5" width="3.8" height="4.0" rx="1.6"/><rect x="362.6" y="90.1" width="3.8" height="4.0" rx="1.6"/><rect x="367.3" y="89.8" width="3.8" height="4.0" rx="1.6"/><rect x="371.9" y="89.5" width="3.8" height="4.0" rx="1.6"/><rect x="376.6" y="89.3" width="3.8" height="4.0" rx="1.6"/><rect x="381.3" y="89.1" width="3.8" height="4.0" rx="1.6"/><rect x="385.9" y="88.9" width="3.8" height="4.0" rx="1.6"/><rect x="390.6" y="88.8" width="3.8" height="4.0" rx="1.6"/><rect x="395.2" y="88.7" width="3.8" height="4.0" rx="1.6"/><rect x="399.9" y="88.5" width="3.8" height="4.0" rx="1.6"/><rect x="404.5" y="88.4" width="3.8" height="4.0" rx="1.6"/><rect x="409.2" y="88.4" width="3.8" height="4.0" rx="1.6"/><rect x="413.8" y="88.3" width="3.8" height="4.0" rx="1.6"/><rect x="418.5" y="88.3" width="3.8" height="4.0" rx="1.6"/><rect x="423.1" y="88.4" width="3.8" height="4.0" rx="1.6"/><rect x="427.8" y="88.7" width="3.8" height="4.0" rx="1.6"/><rect x="432.4" y="89.0" width="3.8" height="4.0" rx="1.6"/><rect x="437.1" y="89.2" width="3.8" height="4.0" rx="1.6"/><rect x="441.7" y="89.5" width="3.8" height="4.0" rx="1.6"/><rect x="446.4" y="89.7" width="3.8" height="4.0" rx="1.6"/><rect x="451.0" y="89.9" width="3.8" height="4.0" rx="1.6"/><rect x="455.7" y="90.1" width="3.8" height="4.0" rx="1.6"/><rect x="460.3" y="90.3" width="3.8" height="4.0" rx="1.6"/><rect x="465.0" y="90.5" width="3.8" height="4.0" rx="1.6"/><rect x="469.6" y="90.7" width="3.8" height="4.0" rx="1.6"/><rect x="474.3" y="91.0" width="3.8" height="4.0" rx="1.6"/><rect x="478.9" y="91.4" width="3.8" height="4.0" rx="1.6"/><rect x="483.6" y="91.8" width="3.8" height="4.0" rx="1.6"/><rect x="488.2" y="92.4" width="3.8" height="4.0" rx="1.6"/><rect x="492.9" y="93.0" width="3.8" height="4.0" rx="1.6"/><rect x="497.5" y="93.7" width="3.8" height="4.0" rx="1.6"/><rect x="502.2" y="94.4" width="3.8" height="4.0" rx="1.6"/><rect x="506.8" y="95.2" width="3.8" height="4.0" rx="1.6"/><rect x="511.5" y="96.0" width="3.8" height="4.0" rx="1.6"/><rect x="516.1" y="96.8" width="3.8" height="4.0" rx="1.6"/><rect x="520.8" y="97.7" width="3.8" height="4.0" rx="1.6"/><rect x="525.4" y="98.6" width="3.8" height="4.0" rx="1.6"/><rect x="530.1" y="99.6" width="3.8" height="4.0" rx="1.6"/></g>
<g fill="#3c96e6"><rect x="320.8" y="90.9" width="3.8" height="4.4" rx="1.6"/><rect x="325.4" y="90.9" width="3.8" height="4.4" rx="1.6"/><rect x="330.1" y="90.9" width="3.8" height="4.4" rx="1.6"/><rect x="334.7" y="90.8" width="3.8" height="4.4" rx="1.6"/><rect x="339.4" y="90.6" width="3.8" height="4.4" rx="1.6"/><rect x="344.0" y="90.3" width="3.8" height="4.4" rx="1.6"/><rect x="348.7" y="89.9" width="3.8" height="4.4" rx="1.6"/><rect x="353.3" y="89.5" width="3.8" height="4.4" rx="1.6"/><rect x="358.0" y="89.1" width="3.8" height="4.4" rx="1.6"/><rect x="362.6" y="88.7" width="3.8" height="4.4" rx="1.6"/><rect x="367.3" y="88.4" width="3.8" height="4.4" rx="1.6"/><rect x="371.9" y="88.1" width="3.8" height="4.4" rx="1.6"/><rect x="376.6" y="87.9" width="3.8" height="4.4" rx="1.6"/><rect x="381.3" y="87.7" width="3.8" height="4.4" rx="1.6"/><rect x="385.9" y="87.5" width="3.8" height="4.4" rx="1.6"/><rect x="390.6" y="87.4" width="3.8" height="4.4" rx="1.6"/><rect x="395.2" y="87.3" width="3.8" height="4.4" rx="1.6"/><rect x="399.9" y="87.1" width="3.8" height="4.4" rx="1.6"/><rect x="404.5" y="87.0" width="3.8" height="4.4" rx="1.6"/><rect x="409.2" y="87.0" width="3.8" height="4.4" rx="1.6"/><rect x="413.8" y="86.9" width="3.8" height="4.4" rx="1.6"/><rect x="418.5" y="86.9" width="3.8" height="4.4" rx="1.6"/><rect x="423.1" y="87.0" width="3.8" height="4.4" rx="1.6"/><rect x="427.8" y="87.3" width="3.8" height="4.4" rx="1.6"/><rect x="432.4" y="87.6" width="3.8" height="4.4" rx="1.6"/><rect x="437.1" y="87.8" width="3.8" height="4.4" rx="1.6"/><rect x="441.7" y="88.1" width="3.8" height="4.4" rx="1.6"/><rect x="446.4" y="88.3" width="3.8" height="4.4" rx="1.6"/><rect x="451.0" y="88.5" width="3.8" height="4.4" rx="1.6"/><rect x="455.7" y="88.7" width="3.8" height="4.4" rx="1.6"/><rect x="460.3" y="88.9" width="3.8" height="4.4" rx="1.6"/><rect x="465.0" y="89.1" width="3.8" height="4.4" rx="1.6"/><rect x="469.6" y="89.3" width="3.8" height="4.4" rx="1.6"/><rect x="474.3" y="89.6" width="3.8" height="4.4" rx="1.6"/><rect x="478.9" y="90.0" width="3.8" height="4.4" rx="1.6"/><rect x="483.6" y="90.4" width="3.8" height="4.4" rx="1.6"/><rect x="488.2" y="91.0" width="3.8" height="4.4" rx="1.6"/><rect x="492.9" y="91.6" width="3.8" height="4.4" rx="1.6"/><rect x="497.5" y="92.3" width="3.8" height="4.4" rx="1.6"/><rect x="502.2" y="93.0" width="3.8" height="4.4" rx="1.6"/><rect x="506.8" y="93.8" width="3.8" height="4.4" rx="1.6"/><rect x="511.5" y="94.6" width="3.8" height="4.4" rx="1.6"/><rect x="516.1" y="95.4" width="3.8" height="4.4" rx="1.6"/><rect x="520.8" y="96.3" width="3.8" height="4.4" rx="1.6"/><rect x="525.4" y="97.2" width="3.8" height="4.4" rx="1.6"/><rect x="530.1" y="98.2" width="3.8" height="4.4" rx="1.6"/></g>
<text x="113.4" y="178.5" text-anchor="middle" class="tk">10</text>
<text x="159.9" y="178.5" text-anchor="middle" class="tk">20</text>
<text x="206.4" y="178.5" text-anchor="middle" class="tk">30</text>
<text x="252.9" y="178.5" text-anchor="middle" class="tk">40</text>
<text x="299.4" y="178.5" text-anchor="middle" class="tk">50</text>
<text x="345.9" y="178.5" text-anchor="middle" class="tk">60</text>
<text x="392.5" y="178.5" text-anchor="middle" class="tk">70</text>
<text x="439.0" y="178.5" text-anchor="middle" class="tk">80</text>
<text x="485.5" y="178.5" text-anchor="middle" class="tk">90</text>
<text x="532.0" y="178.5" text-anchor="middle" class="tk">100</text>
<text x="65.4" y="27.0" text-anchor="end" class="tk">4000</text>
<text x="65.4" y="59.1" text-anchor="end" class="tk">2000</text>
<text x="65.4" y="91.2" text-anchor="end" class="tk">0</text>
<text x="65.4" y="123.2" text-anchor="end" class="tk">-2000</text>
<text x="65.4" y="155.3" text-anchor="end" class="tk">-4000</text>
<text x="302.2" y="198.9" text-anchor="middle" class="lb">Time(s)</text>
<text transform="translate(21.2,84.9) rotate(-90)" text-anchor="middle" class="lb">x-coordinate (m)</text>
<rect x="71.5" y="224.3" width="460.5" height="143.7" fill="none" stroke="#262626" stroke-width="1.2"/>
<path d="M113.4,368.0v-4.6M113.4,224.3v4.6M159.9,368.0v-4.6M159.9,224.3v4.6M206.4,368.0v-4.6M206.4,224.3v4.6M252.9,368.0v-4.6M252.9,224.3v4.6M299.4,368.0v-4.6M299.4,224.3v4.6M345.9,368.0v-4.6M345.9,224.3v4.6M392.5,368.0v-4.6M392.5,224.3v4.6M439.0,368.0v-4.6M439.0,224.3v4.6M485.5,368.0v-4.6M485.5,224.3v4.6M532.0,368.0v-4.6M532.0,224.3v4.6M71.5,240.3h4.6M532.0,240.3h-4.6M71.5,272.2h4.6M532.0,272.2h-4.6M71.5,304.1h4.6M532.0,304.1h-4.6M71.5,336.1h4.6M532.0,336.1h-4.6M71.5,368.0h4.6M532.0,368.0h-4.6" stroke="#262626" stroke-width="1.2" fill="none"/>
<path d="M69.0,247.7l5.0,5.0M69.0,252.7l5.0,-5.0M69.0,266.8l5.0,5.0M69.0,271.8l5.0,-5.0M69.0,275.9l5.0,5.0M69.0,280.9l5.0,-5.0M69.0,289.5l5.0,5.0M69.0,294.5l5.0,-5.0M73.7,248.6l5.0,5.0M73.7,253.6l5.0,-5.0M73.7,261.3l5.0,5.0M73.7,266.3l5.0,-5.0M73.7,279.5l5.0,5.0M73.7,284.5l5.0,-5.0M73.7,281.3l5.0,5.0M73.7,286.3l5.0,-5.0M73.7,289.5l5.0,5.0M73.7,294.5l5.0,-5.0M78.3,261.3l5.0,5.0M78.3,266.3l5.0,-5.0M83.0,230.4l5.0,5.0M83.0,235.4l5.0,-5.0M83.0,237.7l5.0,5.0M83.0,242.7l5.0,-5.0M83.0,248.6l5.0,5.0M83.0,253.6l5.0,-5.0M83.0,254.0l5.0,5.0M83.0,259.0l5.0,-5.0M83.0,258.6l5.0,5.0M83.0,263.6l5.0,-5.0M83.0,261.3l5.0,5.0M83.0,266.3l5.0,-5.0M87.6,243.1l5.0,5.0M87.6,248.1l5.0,-5.0M87.6,253.1l5.0,5.0M87.6,258.1l5.0,-5.0M87.6,269.5l5.0,5.0M87.6,274.5l5.0,-5.0M87.6,272.2l5.0,5.0M87.6,277.2l5.0,-5.0M92.3,269.5l5.0,5.0M92.3,274.5l5.0,-5.0M92.3,288.6l5.0,5.0M92.3,293.6l5.0,-5.0M96.9,226.8l5.0,5.0M96.9,231.8l5.0,-5.0M96.9,260.4l5.0,5.0M96.9,265.4l5.0,-5.0M96.9,262.2l5.0,5.0M96.9,267.2l5.0,-5.0M96.9,282.2l5.0,5.0M96.9,287.2l5.0,-5.0M96.9,287.7l5.0,5.0M96.9,292.7l5.0,-5.0M101.6,263.1l5.0,5.0M101.6,268.1l5.0,-5.0M101.6,268.6l5.0,5.0M101.6,273.6l5.0,-5.0M106.2,238.6l5.0,5.0M106.2,243.6l5.0,-5.0M106.2,268.6l5.0,5.0M106.2,273.6l5.0,-5.0M106.2,278.6l5.0,5.0M106.2,283.6l5.0,-5.0M110.9,288.6l5.0,5.0M110.9,293.6l5.0,-5.0M115.5,227.7l5.0,5.0M115.5,232.7l5.0,-5.0M115.5,228.6l5.0,5.0M115.5,233.6l5.0,-5.0M120.2,280.4l5.0,5.0M120.2,285.4l5.0,-5.0M124.8,282.2l5.0,5.0M124.8,287.2l5.0,-5.0M129.5,243.1l5.0,5.0M129.5,248.1l5.0,-5.0M129.5,290.4l5.0,5.0M129.5,295.4l5.0,-5.0M134.1,231.3l5.0,5.0M134.1,236.3l5.0,-5.0M134.1,238.6l5.0,5.0M134.1,243.6l5.0,-5.0M134.1,254.0l5.0,5.0M134.1,259.0l5.0,-5.0M134.1,267.7l5.0,5.0M134.1,272.7l5.0,-5.0M138.8,257.7l5.0,5.0M138.8,262.7l5.0,-5.0M138.8,262.2l5.0,5.0M138.8,267.2l5.0,-5.0M138.8,284.0l5.0,5.0M138.8,289.0l5.0,-5.0M143.4,253.1l5.0,5.0M143.4,258.1l5.0,-5.0M143.4,274.0l5.0,5.0M143.4,279.0l5.0,-5.0M143.4,279.5l5.0,5.0M143.4,284.5l5.0,-5.0M148.1,279.5l5.0,5.0M148.1,284.5l5.0,-5.0M152.7,253.1l5.0,5.0M152.7,258.1l5.0,-5.0M152.7,256.8l5.0,5.0M152.7,261.8l5.0,-5.0M157.4,245.9l5.0,5.0M157.4,250.9l5.0,-5.0M157.4,261.3l5.0,5.0M157.4,266.3l5.0,-5.0M157.4,265.9l5.0,5.0M157.4,270.9l5.0,-5.0M157.4,270.4l5.0,5.0M157.4,275.4l5.0,-5.0M157.4,274.0l5.0,5.0M157.4,279.0l5.0,-5.0M162.0,257.7l5.0,5.0M162.0,262.7l5.0,-5.0M162.0,267.7l5.0,5.0M162.0,272.7l5.0,-5.0M69.0,315.5l5.0,5.0M69.0,320.5l5.0,-5.0M69.0,329.5l5.0,5.0M69.0,334.5l5.0,-5.0M69.0,330.5l5.0,5.0M69.0,335.5l5.0,-5.0M69.0,334.0l5.0,5.0M69.0,339.0l5.0,-5.0M69.0,337.5l5.0,5.0M69.0,342.5l5.0,-5.0M69.0,339.5l5.0,5.0M69.0,344.5l5.0,-5.0M69.0,352.5l5.0,5.0M69.0,357.5l5.0,-5.0M69.0,355.5l5.0,5.0M69.0,360.5l5.0,-5.0M69.0,293.5l5.0,5.0M69.0,298.5l5.0,-5.0M69.0,299.5l5.0,5.0M69.0,304.5l5.0,-5.0M73.7,301.0l5.0,5.0M73.7,306.0l5.0,-5.0M73.7,313.0l5.0,5.0M73.7,318.0l5.0,-5.0M73.7,324.5l5.0,5.0M73.7,329.5l5.0,-5.0M73.7,339.5l5.0,5.0M73.7,344.5l5.0,-5.0M78.3,304.0l5.0,5.0M78.3,309.0l5.0,-5.0M78.3,313.0l5.0,5.0M78.3,318.0l5.0,-5.0M78.3,330.5l5.0,5.0M78.3,335.5l5.0,-5.0M78.3,349.5l5.0,5.0M78.3,354.5l5.0,-5.0M83.0,296.0l5.0,5.0M83.0,301.0l5.0,-5.0M83.0,312.5l5.0,5.0M83.0,317.5l5.0,-5.0M83.0,325.5l5.0,5.0M83.0,330.5l5.0,-5.0M83.0,330.5l5.0,5.0M83.0,335.5l5.0,-5.0M83.0,349.5l5.0,5.0M83.0,354.5l5.0,-5.0M87.6,306.0l5.0,5.0M87.6,311.0l5.0,-5.0M87.6,321.5l5.0,5.0M87.6,326.5l5.0,-5.0M87.6,324.5l5.0,5.0M87.6,329.5l5.0,-5.0M87.6,327.5l5.0,5.0M87.6,332.5l5.0,-5.0M87.6,339.5l5.0,5.0M87.6,344.5l5.0,-5.0M87.6,343.5l5.0,5.0M87.6,348.5l5.0,-5.0M87.6,348.5l5.0,5.0M87.6,353.5l5.0,-5.0M92.3,293.0l5.0,5.0M92.3,298.0l5.0,-5.0M92.3,295.0l5.0,5.0M92.3,300.0l5.0,-5.0M92.3,321.5l5.0,5.0M92.3,326.5l5.0,-5.0M92.3,327.5l5.0,5.0M92.3,332.5l5.0,-5.0M92.3,330.5l5.0,5.0M92.3,335.5l5.0,-5.0M96.9,300.0l5.0,5.0M96.9,305.0l5.0,-5.0M96.9,335.5l5.0,5.0M96.9,340.5l5.0,-5.0M96.9,344.5l5.0,5.0M96.9,349.5l5.0,-5.0M101.6,294.5l5.0,5.0M101.6,299.5l5.0,-5.0M101.6,297.5l5.0,5.0M101.6,302.5l5.0,-5.0M101.6,300.5l5.0,5.0M101.6,305.5l5.0,-5.0M101.6,311.0l5.0,5.0M101.6,316.0l5.0,-5.0M101.6,325.0l5.0,5.0M101.6,330.0l5.0,-5.0M101.6,345.0l5.0,5.0M101.6,350.0l5.0,-5.0M106.2,309.0l5.0,5.0M106.2,314.0l5.0,-5.0M106.2,312.0l5.0,5.0M106.2,317.0l5.0,-5.0M106.2,328.5l5.0,5.0M106.2,333.5l5.0,-5.0M106.2,341.5l5.0,5.0M106.2,346.5l5.0,-5.0M110.9,292.5l5.0,5.0M110.9,297.5l5.0,-5.0M110.9,312.5l5.0,5.0M110.9,317.5l5.0,-5.0M110.9,324.5l5.0,5.0M110.9,329.5l5.0,-5.0M110.9,337.5l5.0,5.0M110.9,342.5l5.0,-5.0M115.5,301.5l5.0,5.0M115.5,306.5l5.0,-5.0M115.5,310.0l5.0,5.0M115.5,315.0l5.0,-5.0M115.5,321.5l5.0,5.0M115.5,326.5l5.0,-5.0M115.5,330.5l5.0,5.0M115.5,335.5l5.0,-5.0M120.2,304.5l5.0,5.0M120.2,309.5l5.0,-5.0M120.2,311.5l5.0,5.0M120.2,316.5l5.0,-5.0M120.2,321.5l5.0,5.0M120.2,326.5l5.0,-5.0M120.2,326.5l5.0,5.0M120.2,331.5l5.0,-5.0M124.8,293.5l5.0,5.0M124.8,298.5l5.0,-5.0M124.8,297.0l5.0,5.0M124.8,302.0l5.0,-5.0M124.8,310.0l5.0,5.0M124.8,315.0l5.0,-5.0M124.8,318.5l5.0,5.0M124.8,323.5l5.0,-5.0M124.8,325.5l5.0,5.0M124.8,330.5l5.0,-5.0M129.5,292.5l5.0,5.0M129.5,297.5l5.0,-5.0M129.5,302.5l5.0,5.0M129.5,307.5l5.0,-5.0M138.8,315.5l5.0,5.0M138.8,320.5l5.0,-5.0M138.8,319.5l5.0,5.0M138.8,324.5l5.0,-5.0M138.8,323.5l5.0,5.0M138.8,328.5l5.0,-5.0M138.8,327.5l5.0,5.0M138.8,332.5l5.0,-5.0M143.4,324.5l5.0,5.0M143.4,329.5l5.0,-5.0M148.1,302.5l5.0,5.0M148.1,307.5l5.0,-5.0M148.1,305.5l5.0,5.0M148.1,310.5l5.0,-5.0M148.1,308.5l5.0,5.0M148.1,313.5l5.0,-5.0M152.7,315.5l5.0,5.0M152.7,320.5l5.0,-5.0M152.7,319.5l5.0,5.0M152.7,324.5l5.0,-5.0M152.7,322.5l5.0,5.0M152.7,327.5l5.0,-5.0M152.7,325.5l5.0,5.0M152.7,330.5l5.0,-5.0M157.4,296.5l5.0,5.0M157.4,301.5l5.0,-5.0M157.4,300.5l5.0,5.0M157.4,305.5l5.0,-5.0M157.4,312.5l5.0,5.0M157.4,317.5l5.0,-5.0M162.0,320.5l5.0,5.0M162.0,325.5l5.0,-5.0M166.7,305.5l5.0,5.0M166.7,310.5l5.0,-5.0M115.5,327.1l5.0,5.0M115.5,332.1l5.0,-5.0M115.5,331.7l5.0,5.0M115.5,336.7l5.0,-5.0M115.5,338.3l5.0,5.0M115.5,343.3l5.0,-5.0M115.5,343.8l5.0,5.0M115.5,348.8l5.0,-5.0M120.2,328.2l5.0,5.0M120.2,333.2l5.0,-5.0M120.2,333.8l5.0,5.0M120.2,338.8l5.0,-5.0M120.2,340.1l5.0,5.0M120.2,345.1l5.0,-5.0M124.8,330.5l5.0,5.0M124.8,335.5l5.0,-5.0M124.8,337.3l5.0,5.0M124.8,342.3l5.0,-5.0M129.5,329.7l5.0,5.0M129.5,334.7l5.0,-5.0M129.5,334.1l5.0,5.0M129.5,339.1l5.0,-5.0M129.5,338.5l5.0,5.0M129.5,343.5l5.0,-5.0M134.1,326.8l5.0,5.0M134.1,331.8l5.0,-5.0M134.1,331.1l5.0,5.0M134.1,336.1l5.0,-5.0M134.1,336.7l5.0,5.0M134.1,341.7l5.0,-5.0M134.1,342.4l5.0,5.0M134.1,347.4l5.0,-5.0M138.8,329.2l5.0,5.0M138.8,334.2l5.0,-5.0M138.8,335.8l5.0,5.0M138.8,340.8l5.0,-5.0M138.8,340.0l5.0,5.0M138.8,345.0l5.0,-5.0M143.4,327.2l5.0,5.0M143.4,332.2l5.0,-5.0M143.4,331.9l5.0,5.0M143.4,336.9l5.0,-5.0M143.4,339.1l5.0,5.0M143.4,344.1l5.0,-5.0M148.1,329.3l5.0,5.0M148.1,334.3l5.0,-5.0M148.1,333.8l5.0,5.0M148.1,338.8l5.0,-5.0M148.1,339.7l5.0,5.0M148.1,344.7l5.0,-5.0M152.7,329.6l5.0,5.0M152.7,334.6l5.0,-5.0M152.7,336.4l5.0,5.0M152.7,341.4l5.0,-5.0M152.7,342.1l5.0,5.0M152.7,347.1l5.0,-5.0M157.4,327.5l5.0,5.0M157.4,332.5l5.0,-5.0M157.4,333.0l5.0,5.0M157.4,338.0l5.0,-5.0M157.4,339.1l5.0,5.0M157.4,344.1l5.0,-5.0M162.0,328.7l5.0,5.0M162.0,333.7l5.0,-5.0M162.0,333.5l5.0,5.0M162.0,338.5l5.0,-5.0M162.0,340.8l5.0,5.0M162.0,345.8l5.0,-5.0M166.7,328.0l5.0,5.0M166.7,333.0l5.0,-5.0M166.7,333.3l5.0,5.0M166.7,338.3l5.0,-5.0M166.7,339.7l5.0,5.0M166.7,344.7l5.0,-5.0M166.7,343.5l5.0,5.0M166.7,348.5l5.0,-5.0M73.7,301.5l5.0,5.0M73.7,306.5l5.0,-5.0M73.7,309.3l5.0,5.0M73.7,314.3l5.0,-5.0M73.7,318.5l5.0,5.0M73.7,323.5l5.0,-5.0M73.7,327.6l5.0,5.0M73.7,332.6l5.0,-5.0M73.7,338.6l5.0,5.0M73.7,343.6l5.0,-5.0M78.3,303.3l5.0,5.0M78.3,308.3l5.0,-5.0M78.3,313.3l5.0,5.0M78.3,318.3l5.0,-5.0M78.3,322.5l5.0,5.0M78.3,327.5l5.0,-5.0M78.3,332.9l5.0,5.0M78.3,337.9l5.0,-5.0M83.0,297.8l5.0,5.0M83.0,302.8l5.0,-5.0M83.0,305.5l5.0,5.0M83.0,310.5l5.0,-5.0M83.0,316.5l5.0,5.0M83.0,321.5l5.0,-5.0M83.0,325.1l5.0,5.0M83.0,330.1l5.0,-5.0M83.0,335.1l5.0,5.0M83.0,340.1l5.0,-5.0M87.6,300.1l5.0,5.0M87.6,305.1l5.0,-5.0M87.6,308.1l5.0,5.0M87.6,313.1l5.0,-5.0M87.6,318.9l5.0,5.0M87.6,323.9l5.0,-5.0M87.6,324.7l5.0,5.0M87.6,329.7l5.0,-5.0M87.6,330.3l5.0,5.0M87.6,335.3l5.0,-5.0M87.6,341.9l5.0,5.0M87.6,346.9l5.0,-5.0M92.3,300.5l5.0,5.0M92.3,305.5l5.0,-5.0M92.3,310.1l5.0,5.0M92.3,315.1l5.0,-5.0M92.3,322.2l5.0,5.0M92.3,327.2l5.0,-5.0M92.3,330.0l5.0,5.0M92.3,335.0l5.0,-5.0M92.3,337.3l5.0,5.0M92.3,342.3l5.0,-5.0M96.9,297.9l5.0,5.0M96.9,302.9l5.0,-5.0M96.9,305.6l5.0,5.0M96.9,310.6l5.0,-5.0M96.9,313.1l5.0,5.0M96.9,318.1l5.0,-5.0M96.9,319.7l5.0,5.0M96.9,324.7l5.0,-5.0M96.9,325.0l5.0,5.0M96.9,330.0l5.0,-5.0M96.9,335.6l5.0,5.0M96.9,340.6l5.0,-5.0M101.6,298.3l5.0,5.0M101.6,303.3l5.0,-5.0M101.6,310.1l5.0,5.0M101.6,315.1l5.0,-5.0M101.6,321.0l5.0,5.0M101.6,326.0l5.0,-5.0M101.6,327.6l5.0,5.0M101.6,332.6l5.0,-5.0M101.6,337.4l5.0,5.0M101.6,342.4l5.0,-5.0M106.2,300.7l5.0,5.0M106.2,305.7l5.0,-5.0M106.2,309.0l5.0,5.0M106.2,314.0l5.0,-5.0M106.2,316.6l5.0,5.0M106.2,321.6l5.0,-5.0M106.2,326.2l5.0,5.0M106.2,331.2l5.0,-5.0M106.2,335.5l5.0,5.0M106.2,340.5l5.0,-5.0M106.2,343.0l5.0,5.0M106.2,348.0l5.0,-5.0M115.5,353.6l5.0,5.0M115.5,358.6l5.0,-5.0M115.5,359.5l5.0,5.0M115.5,364.5l5.0,-5.0M115.5,364.9l5.0,5.0M115.5,369.9l5.0,-5.0M120.2,355.8l5.0,5.0M120.2,360.8l5.0,-5.0M120.2,361.3l5.0,5.0M120.2,366.3l5.0,-5.0M124.8,358.7l5.0,5.0M124.8,363.7l5.0,-5.0M124.8,364.4l5.0,5.0M124.8,369.4l5.0,-5.0M129.5,354.8l5.0,5.0M129.5,359.8l5.0,-5.0M129.5,360.7l5.0,5.0M129.5,365.7l5.0,-5.0M129.5,365.2l5.0,5.0M129.5,370.2l5.0,-5.0M134.1,358.3l5.0,5.0M134.1,363.3l5.0,-5.0M134.1,362.8l5.0,5.0M134.1,367.8l5.0,-5.0M138.8,355.9l5.0,5.0M138.8,360.9l5.0,-5.0M138.8,362.2l5.0,5.0M138.8,367.2l5.0,-5.0M143.4,354.1l5.0,5.0M143.4,359.1l5.0,-5.0M143.4,359.6l5.0,5.0M143.4,364.6l5.0,-5.0M148.1,354.4l5.0,5.0M148.1,359.4l5.0,-5.0M148.1,361.0l5.0,5.0M148.1,366.0l5.0,-5.0M148.1,365.5l5.0,5.0M148.1,370.5l5.0,-5.0M152.7,358.3l5.0,5.0M152.7,363.3l5.0,-5.0M152.7,364.5l5.0,5.0M152.7,369.5l5.0,-5.0M157.4,357.1l5.0,5.0M157.4,362.1l5.0,-5.0M157.4,361.6l5.0,5.0M157.4,366.6l5.0,-5.0M162.0,355.0l5.0,5.0M162.0,360.0l5.0,-5.0M162.0,360.8l5.0,5.0M162.0,365.8l5.0,-5.0M162.0,364.9l5.0,5.0M162.0,369.9l5.0,-5.0M166.7,357.8l5.0,5.0M166.7,362.8l5.0,-5.0M166.7,362.6l5.0,5.0M166.7,367.6l5.0,-5.0M69.0,362.1l5.0,5.0M69.0,367.1l5.0,-5.0M73.7,365.9l5.0,5.0M73.7,370.9l5.0,-5.0M78.3,363.4l5.0,5.0M78.3,368.4l5.0,-5.0M83.0,362.0l5.0,5.0M83.0,367.0l5.0,-5.0M87.6,363.7l5.0,5.0M87.6,368.7l5.0,-5.0M92.3,360.5l5.0,5.0M92.3,365.5l5.0,-5.0M96.9,362.0l5.0,5.0M96.9,367.0l5.0,-5.0M101.6,364.5l5.0,5.0M101.6,369.5l5.0,-5.0M106.2,362.6l5.0,5.0M106.2,367.6l5.0,-5.0M110.9,361.7l5.0,5.0M110.9,366.7l5.0,-5.0M166.7,249.5l5.0,5.0M166.7,254.5l5.0,-5.0M166.7,258.6l5.0,5.0M166.7,263.6l5.0,-5.0M166.7,277.7l5.0,5.0M166.7,282.7l5.0,-5.0M171.3,247.7l5.0,5.0M171.3,252.7l5.0,-5.0M176.0,246.8l5.0,5.0M176.0,251.8l5.0,-5.0M176.0,255.0l5.0,5.0M176.0,260.0l5.0,-5.0M180.6,273.1l5.0,5.0M180.6,278.1l5.0,-5.0M185.3,245.9l5.0,5.0M185.3,250.9l5.0,-5.0M185.3,253.1l5.0,5.0M185.3,258.1l5.0,-5.0M189.9,256.8l5.0,5.0M189.9,261.8l5.0,-5.0M189.9,270.4l5.0,5.0M189.9,275.4l5.0,-5.0M194.6,253.1l5.0,5.0M194.6,258.1l5.0,-5.0M194.6,259.5l5.0,5.0M194.6,264.5l5.0,-5.0M199.2,279.5l5.0,5.0M199.2,284.5l5.0,-5.0M203.9,255.0l5.0,5.0M203.9,260.0l5.0,-5.0M203.9,267.7l5.0,5.0M203.9,272.7l5.0,-5.0M208.5,245.9l5.0,5.0M208.5,250.9l5.0,-5.0M208.5,257.7l5.0,5.0M208.5,262.7l5.0,-5.0M208.5,267.7l5.0,5.0M208.5,272.7l5.0,-5.0M213.2,237.7l5.0,5.0M213.2,242.7l5.0,-5.0M213.2,253.1l5.0,5.0M213.2,258.1l5.0,-5.0M213.2,258.6l5.0,5.0M213.2,263.6l5.0,-5.0M217.8,235.9l5.0,5.0M217.8,240.9l5.0,-5.0M217.8,241.3l5.0,5.0M217.8,246.3l5.0,-5.0M217.8,256.8l5.0,5.0M217.8,261.8l5.0,-5.0M217.8,274.0l5.0,5.0M217.8,279.0l5.0,-5.0M222.5,243.1l5.0,5.0M222.5,248.1l5.0,-5.0M222.5,270.4l5.0,5.0M222.5,275.4l5.0,-5.0M227.2,229.5l5.0,5.0M227.2,234.5l5.0,-5.0M227.2,247.7l5.0,5.0M227.2,252.7l5.0,-5.0M231.8,253.1l5.0,5.0M231.8,258.1l5.0,-5.0M231.8,263.1l5.0,5.0M231.8,268.1l5.0,-5.0M231.8,275.0l5.0,5.0M231.8,280.0l5.0,-5.0M236.5,235.0l5.0,5.0M236.5,240.0l5.0,-5.0M236.5,255.9l5.0,5.0M236.5,260.9l5.0,-5.0M236.5,282.2l5.0,5.0M236.5,287.2l5.0,-5.0M241.1,248.6l5.0,5.0M241.1,253.6l5.0,-5.0M241.1,263.1l5.0,5.0M241.1,268.1l5.0,-5.0M241.1,275.9l5.0,5.0M241.1,280.9l5.0,-5.0M245.8,259.5l5.0,5.0M245.8,264.5l5.0,-5.0M245.8,274.0l5.0,5.0M245.8,279.0l5.0,-5.0M250.4,278.6l5.0,5.0M250.4,283.6l5.0,-5.0M255.1,267.7l5.0,5.0M255.1,272.7l5.0,-5.0M255.1,272.2l5.0,5.0M255.1,277.2l5.0,-5.0M255.1,275.9l5.0,5.0M255.1,280.9l5.0,-5.0M259.7,249.5l5.0,5.0M259.7,254.5l5.0,-5.0M166.7,304.6l5.0,5.0M166.7,309.6l5.0,-5.0M166.7,311.9l5.0,5.0M166.7,316.9l5.0,-5.0M166.7,319.9l5.0,5.0M166.7,324.9l5.0,-5.0M171.3,308.1l5.0,5.0M171.3,313.1l5.0,-5.0M171.3,313.0l5.0,5.0M171.3,318.0l5.0,-5.0M171.3,319.9l5.0,5.0M171.3,324.9l5.0,-5.0M171.3,325.6l5.0,5.0M171.3,330.6l5.0,-5.0M176.0,307.5l5.0,5.0M176.0,312.5l5.0,-5.0M176.0,318.5l5.0,5.0M176.0,323.5l5.0,-5.0M176.0,323.8l5.0,5.0M176.0,328.8l5.0,-5.0M180.6,302.5l5.0,5.0M180.6,307.5l5.0,-5.0M180.6,308.5l5.0,5.0M180.6,313.5l5.0,-5.0M180.6,318.0l5.0,5.0M180.6,323.0l5.0,-5.0M180.6,325.7l5.0,5.0M180.6,330.7l5.0,-5.0M185.3,302.8l5.0,5.0M185.3,307.8l5.0,-5.0M185.3,311.7l5.0,5.0M185.3,316.7l5.0,-5.0M185.3,317.5l5.0,5.0M185.3,322.5l5.0,-5.0M185.3,326.1l5.0,5.0M185.3,331.1l5.0,-5.0M189.9,306.4l5.0,5.0M189.9,311.4l5.0,-5.0M189.9,317.1l5.0,5.0M189.9,322.1l5.0,-5.0M189.9,326.3l5.0,5.0M189.9,331.3l5.0,-5.0M194.6,302.3l5.0,5.0M194.6,307.3l5.0,-5.0M194.6,312.2l5.0,5.0M194.6,317.2l5.0,-5.0M194.6,319.1l5.0,5.0M194.6,324.1l5.0,-5.0M199.2,301.1l5.0,5.0M199.2,306.1l5.0,-5.0M199.2,307.5l5.0,5.0M199.2,312.5l5.0,-5.0M199.2,315.5l5.0,5.0M199.2,320.5l5.0,-5.0M199.2,322.2l5.0,5.0M199.2,327.2l5.0,-5.0M203.9,301.1l5.0,5.0M203.9,306.1l5.0,-5.0M203.9,306.3l5.0,5.0M203.9,311.3l5.0,-5.0M203.9,316.7l5.0,5.0M203.9,321.7l5.0,-5.0M203.9,328.1l5.0,5.0M203.9,333.1l5.0,-5.0M208.5,301.6l5.0,5.0M208.5,306.6l5.0,-5.0M208.5,308.6l5.0,5.0M208.5,313.6l5.0,-5.0M208.5,317.7l5.0,5.0M208.5,322.7l5.0,-5.0M208.5,324.9l5.0,5.0M208.5,329.9l5.0,-5.0M213.2,304.7l5.0,5.0M213.2,309.7l5.0,-5.0M213.2,310.1l5.0,5.0M213.2,315.1l5.0,-5.0M213.2,317.0l5.0,5.0M213.2,322.0l5.0,-5.0M213.2,324.1l5.0,5.0M213.2,329.1l5.0,-5.0M217.8,302.5l5.0,5.0M217.8,307.5l5.0,-5.0M217.8,308.6l5.0,5.0M217.8,313.6l5.0,-5.0M217.8,318.4l5.0,5.0M217.8,323.4l5.0,-5.0M217.8,325.1l5.0,5.0M217.8,330.1l5.0,-5.0M222.5,307.0l5.0,5.0M222.5,312.0l5.0,-5.0M222.5,317.2l5.0,5.0M222.5,322.2l5.0,-5.0M227.2,305.4l5.0,5.0M227.2,310.4l5.0,-5.0M227.2,313.4l5.0,5.0M227.2,318.4l5.0,-5.0M227.2,320.1l5.0,5.0M227.2,325.1l5.0,-5.0M231.8,309.5l5.0,5.0M231.8,314.5l5.0,-5.0M231.8,317.8l5.0,5.0M231.8,322.8l5.0,-5.0M231.8,326.3l5.0,5.0M231.8,331.3l5.0,-5.0M236.5,306.0l5.0,5.0M236.5,311.0l5.0,-5.0M236.5,315.7l5.0,5.0M236.5,320.7l5.0,-5.0M236.5,325.9l5.0,5.0M236.5,330.9l5.0,-5.0M241.1,301.3l5.0,5.0M241.1,306.3l5.0,-5.0M241.1,308.1l5.0,5.0M241.1,313.1l5.0,-5.0M241.1,317.2l5.0,5.0M241.1,322.2l5.0,-5.0M241.1,323.2l5.0,5.0M241.1,328.2l5.0,-5.0M245.8,302.6l5.0,5.0M245.8,307.6l5.0,-5.0M245.8,310.4l5.0,5.0M245.8,315.4l5.0,-5.0M245.8,316.2l5.0,5.0M245.8,321.2l5.0,-5.0M245.8,325.5l5.0,5.0M245.8,330.5l5.0,-5.0M250.4,302.5l5.0,5.0M250.4,307.5l5.0,-5.0M250.4,311.9l5.0,5.0M250.4,316.9l5.0,-5.0M250.4,319.0l5.0,5.0M250.4,324.0l5.0,-5.0M250.4,326.0l5.0,5.0M250.4,331.0l5.0,-5.0M255.1,305.5l5.0,5.0M255.1,310.5l5.0,-5.0M255.1,315.5l5.0,5.0M255.1,320.5l5.0,-5.0M255.1,326.2l5.0,5.0M255.1,331.2l5.0,-5.0M166.7,343.3l5.0,5.0M166.7,348.3l5.0,-5.0M166.7,350.2l5.0,5.0M166.7,355.2l5.0,-5.0M166.7,354.8l5.0,5.0M166.7,359.8l5.0,-5.0M166.7,363.6l5.0,5.0M166.7,368.6l5.0,-5.0M171.3,345.2l5.0,5.0M171.3,350.2l5.0,-5.0M171.3,350.0l5.0,5.0M171.3,355.0l5.0,-5.0M171.3,356.7l5.0,5.0M171.3,361.7l5.0,-5.0M171.3,362.5l5.0,5.0M171.3,367.5l5.0,-5.0M176.0,348.1l5.0,5.0M176.0,353.1l5.0,-5.0M176.0,356.1l5.0,5.0M176.0,361.1l5.0,-5.0M176.0,363.5l5.0,5.0M176.0,368.5l5.0,-5.0M180.6,349.1l5.0,5.0M180.6,354.1l5.0,-5.0M180.6,356.2l5.0,5.0M180.6,361.2l5.0,-5.0M180.6,362.3l5.0,5.0M180.6,367.3l5.0,-5.0M185.3,343.3l5.0,5.0M185.3,348.3l5.0,-5.0M185.3,348.8l5.0,5.0M185.3,353.8l5.0,-5.0M185.3,356.7l5.0,5.0M185.3,361.7l5.0,-5.0M185.3,363.3l5.0,5.0M185.3,368.3l5.0,-5.0M189.9,342.7l5.0,5.0M189.9,347.7l5.0,-5.0M189.9,349.9l5.0,5.0M189.9,354.9l5.0,-5.0M189.9,356.9l5.0,5.0M189.9,361.9l5.0,-5.0M194.6,343.3l5.0,5.0M194.6,348.3l5.0,-5.0M194.6,349.8l5.0,5.0M194.6,354.8l5.0,-5.0M194.6,355.5l5.0,5.0M194.6,360.5l5.0,-5.0M194.6,361.3l5.0,5.0M194.6,366.3l5.0,-5.0M199.2,343.6l5.0,5.0M199.2,348.6l5.0,-5.0M199.2,350.8l5.0,5.0M199.2,355.8l5.0,-5.0M199.2,360.7l5.0,5.0M199.2,365.7l5.0,-5.0M203.9,345.9l5.0,5.0M203.9,350.9l5.0,-5.0M203.9,355.5l5.0,5.0M203.9,360.5l5.0,-5.0M203.9,360.7l5.0,5.0M203.9,365.7l5.0,-5.0M208.5,346.4l5.0,5.0M208.5,351.4l5.0,-5.0M208.5,354.6l5.0,5.0M208.5,359.6l5.0,-5.0M208.5,362.8l5.0,5.0M208.5,367.8l5.0,-5.0M213.2,346.9l5.0,5.0M213.2,351.9l5.0,-5.0M213.2,354.4l5.0,5.0M213.2,359.4l5.0,-5.0M213.2,361.8l5.0,5.0M213.2,366.8l5.0,-5.0M217.8,345.3l5.0,5.0M217.8,350.3l5.0,-5.0M217.8,352.9l5.0,5.0M217.8,357.9l5.0,-5.0M217.8,357.1l5.0,5.0M217.8,362.1l5.0,-5.0M222.5,348.7l5.0,5.0M222.5,353.7l5.0,-5.0M222.5,356.0l5.0,5.0M222.5,361.0l5.0,-5.0M222.5,364.8l5.0,5.0M222.5,369.8l5.0,-5.0M227.2,346.4l5.0,5.0M227.2,351.4l5.0,-5.0M227.2,354.2l5.0,5.0M227.2,359.2l5.0,-5.0M227.2,362.7l5.0,5.0M227.2,367.7l5.0,-5.0M231.8,344.2l5.0,5.0M231.8,349.2l5.0,-5.0M231.8,351.8l5.0,5.0M231.8,356.8l5.0,-5.0M231.8,356.6l5.0,5.0M231.8,361.6l5.0,-5.0M231.8,363.9l5.0,5.0M231.8,368.9l5.0,-5.0M236.5,349.1l5.0,5.0M236.5,354.1l5.0,-5.0M236.5,355.1l5.0,5.0M236.5,360.1l5.0,-5.0M236.5,361.6l5.0,5.0M236.5,366.6l5.0,-5.0M241.1,342.9l5.0,5.0M241.1,347.9l5.0,-5.0M241.1,349.5l5.0,5.0M241.1,354.5l5.0,-5.0M241.1,355.0l5.0,5.0M241.1,360.0l5.0,-5.0M241.1,363.7l5.0,5.0M241.1,368.7l5.0,-5.0M245.8,346.7l5.0,5.0M245.8,351.7l5.0,-5.0M245.8,352.6l5.0,5.0M245.8,357.6l5.0,-5.0M245.8,359.1l5.0,5.0M245.8,364.1l5.0,-5.0M250.4,345.3l5.0,5.0M250.4,350.3l5.0,-5.0M250.4,351.1l5.0,5.0M250.4,356.1l5.0,-5.0M250.4,358.4l5.0,5.0M250.4,363.4l5.0,-5.0M250.4,365.0l5.0,5.0M250.4,370.0l5.0,-5.0M255.1,347.9l5.0,5.0M255.1,352.9l5.0,-5.0M255.1,355.7l5.0,5.0M255.1,360.7l5.0,-5.0M255.1,362.8l5.0,5.0M255.1,367.8l5.0,-5.0M259.7,286.8l5.0,5.0M259.7,291.8l5.0,-5.0M264.4,237.7l5.0,5.0M264.4,242.7l5.0,-5.0M264.4,253.1l5.0,5.0M264.4,258.1l5.0,-5.0M269.0,253.1l5.0,5.0M269.0,258.1l5.0,-5.0M269.0,263.1l5.0,5.0M269.0,268.1l5.0,-5.0M269.0,275.9l5.0,5.0M269.0,280.9l5.0,-5.0M273.7,233.1l5.0,5.0M273.7,238.1l5.0,-5.0M273.7,256.8l5.0,5.0M273.7,261.8l5.0,-5.0M273.7,262.2l5.0,5.0M273.7,267.2l5.0,-5.0M278.3,245.9l5.0,5.0M278.3,250.9l5.0,-5.0M278.3,250.4l5.0,5.0M278.3,255.4l5.0,-5.0M278.3,266.8l5.0,5.0M278.3,271.8l5.0,-5.0M283.0,232.2l5.0,5.0M283.0,237.2l5.0,-5.0M283.0,253.1l5.0,5.0M283.0,258.1l5.0,-5.0M287.6,226.8l5.0,5.0M287.6,231.8l5.0,-5.0M287.6,237.7l5.0,5.0M287.6,242.7l5.0,-5.0M287.6,252.2l5.0,5.0M287.6,257.2l5.0,-5.0M287.6,262.2l5.0,5.0M287.6,267.2l5.0,-5.0M292.3,247.7l5.0,5.0M292.3,252.7l5.0,-5.0M292.3,272.2l5.0,5.0M292.3,277.2l5.0,-5.0M292.3,275.9l5.0,5.0M292.3,280.9l5.0,-5.0M296.9,246.8l5.0,5.0M296.9,251.8l5.0,-5.0M296.9,248.6l5.0,5.0M296.9,253.6l5.0,-5.0M296.9,265.0l5.0,5.0M296.9,270.0l5.0,-5.0M301.6,268.6l5.0,5.0M301.6,273.6l5.0,-5.0M306.2,245.0l5.0,5.0M306.2,250.0l5.0,-5.0M306.2,248.6l5.0,5.0M306.2,253.6l5.0,-5.0M306.2,281.3l5.0,5.0M306.2,286.3l5.0,-5.0M306.2,286.8l5.0,5.0M306.2,291.8l5.0,-5.0M310.9,228.6l5.0,5.0M310.9,233.6l5.0,-5.0M310.9,240.4l5.0,5.0M310.9,245.4l5.0,-5.0M310.9,274.0l5.0,5.0M310.9,279.0l5.0,-5.0M310.9,283.1l5.0,5.0M310.9,288.1l5.0,-5.0M315.5,241.3l5.0,5.0M315.5,246.3l5.0,-5.0M315.5,255.0l5.0,5.0M315.5,260.0l5.0,-5.0M315.5,277.7l5.0,5.0M315.5,282.7l5.0,-5.0M315.5,281.3l5.0,5.0M315.5,286.3l5.0,-5.0M320.2,239.5l5.0,5.0M320.2,244.5l5.0,-5.0M320.2,255.9l5.0,5.0M320.2,260.9l5.0,-5.0M324.8,234.0l5.0,5.0M324.8,239.0l5.0,-5.0M324.8,235.9l5.0,5.0M324.8,240.9l5.0,-5.0M324.8,257.7l5.0,5.0M324.8,262.7l5.0,-5.0M324.8,268.6l5.0,5.0M324.8,273.6l5.0,-5.0M324.8,272.2l5.0,5.0M324.8,277.2l5.0,-5.0M324.8,277.7l5.0,5.0M324.8,282.7l5.0,-5.0M324.8,281.3l5.0,5.0M324.8,286.3l5.0,-5.0M329.5,258.6l5.0,5.0M329.5,263.6l5.0,-5.0M329.5,275.0l5.0,5.0M329.5,280.0l5.0,-5.0M334.1,275.9l5.0,5.0M334.1,280.9l5.0,-5.0M338.8,275.9l5.0,5.0M338.8,280.9l5.0,-5.0M343.4,255.0l5.0,5.0M343.4,260.0l5.0,-5.0M352.7,238.6l5.0,5.0M352.7,243.6l5.0,-5.0M352.7,279.5l5.0,5.0M352.7,284.5l5.0,-5.0M259.7,307.5l5.0,5.0M259.7,312.5l5.0,-5.0M259.7,314.5l5.0,5.0M259.7,319.5l5.0,-5.0M259.7,320.1l5.0,5.0M259.7,325.1l5.0,-5.0M264.4,306.2l5.0,5.0M264.4,311.2l5.0,-5.0M264.4,310.9l5.0,5.0M264.4,315.9l5.0,-5.0M264.4,321.5l5.0,5.0M264.4,326.5l5.0,-5.0M264.4,326.6l5.0,5.0M264.4,331.6l5.0,-5.0M269.0,307.7l5.0,5.0M269.0,312.7l5.0,-5.0M269.0,317.2l5.0,5.0M269.0,322.2l5.0,-5.0M269.0,324.6l5.0,5.0M269.0,329.6l5.0,-5.0M273.7,308.1l5.0,5.0M273.7,313.1l5.0,-5.0M273.7,317.3l5.0,5.0M273.7,322.3l5.0,-5.0M273.7,325.5l5.0,5.0M273.7,330.5l5.0,-5.0M278.3,303.0l5.0,5.0M278.3,308.0l5.0,-5.0M278.3,310.3l5.0,5.0M278.3,315.3l5.0,-5.0M278.3,320.1l5.0,5.0M278.3,325.1l5.0,-5.0M278.3,327.6l5.0,5.0M278.3,332.6l5.0,-5.0M283.0,306.7l5.0,5.0M283.0,311.7l5.0,-5.0M283.0,314.2l5.0,5.0M283.0,319.2l5.0,-5.0M283.0,322.3l5.0,5.0M283.0,327.3l5.0,-5.0M287.6,306.3l5.0,5.0M287.6,311.3l5.0,-5.0M287.6,313.8l5.0,5.0M287.6,318.8l5.0,-5.0M287.6,322.3l5.0,5.0M287.6,327.3l5.0,-5.0M292.3,303.4l5.0,5.0M292.3,308.4l5.0,-5.0M292.3,309.8l5.0,5.0M292.3,314.8l5.0,-5.0M292.3,316.7l5.0,5.0M292.3,321.7l5.0,-5.0M292.3,326.6l5.0,5.0M292.3,331.6l5.0,-5.0M296.9,309.6l5.0,5.0M296.9,314.6l5.0,-5.0M296.9,314.7l5.0,5.0M296.9,319.7l5.0,-5.0M296.9,323.2l5.0,5.0M296.9,328.2l5.0,-5.0M301.6,306.6l5.0,5.0M301.6,311.6l5.0,-5.0M301.6,316.6l5.0,5.0M301.6,321.6l5.0,-5.0M301.6,324.7l5.0,5.0M301.6,329.7l5.0,-5.0M306.2,306.7l5.0,5.0M306.2,311.7l5.0,-5.0M306.2,313.0l5.0,5.0M306.2,318.0l5.0,-5.0M306.2,320.9l5.0,5.0M306.2,325.9l5.0,-5.0M310.9,307.5l5.0,5.0M310.9,312.5l5.0,-5.0M310.9,312.9l5.0,5.0M310.9,317.9l5.0,-5.0M310.9,320.4l5.0,5.0M310.9,325.4l5.0,-5.0M315.5,309.9l5.0,5.0M315.5,314.9l5.0,-5.0M315.5,316.3l5.0,5.0M315.5,321.3l5.0,-5.0M315.5,325.5l5.0,5.0M315.5,330.5l5.0,-5.0M320.2,307.0l5.0,5.0M320.2,312.0l5.0,-5.0M320.2,312.0l5.0,5.0M320.2,317.0l5.0,-5.0M320.2,322.7l5.0,5.0M320.2,327.7l5.0,-5.0M324.8,304.0l5.0,5.0M324.8,309.0l5.0,-5.0M324.8,312.2l5.0,5.0M324.8,317.2l5.0,-5.0M324.8,322.1l5.0,5.0M324.8,327.1l5.0,-5.0M329.5,303.2l5.0,5.0M329.5,308.2l5.0,-5.0M329.5,311.1l5.0,5.0M329.5,316.1l5.0,-5.0M329.5,316.6l5.0,5.0M329.5,321.6l5.0,-5.0M329.5,325.5l5.0,5.0M329.5,330.5l5.0,-5.0M334.1,310.1l5.0,5.0M334.1,315.1l5.0,-5.0M334.1,315.1l5.0,5.0M334.1,320.1l5.0,-5.0M334.1,323.7l5.0,5.0M334.1,328.7l5.0,-5.0M338.8,302.0l5.0,5.0M338.8,307.0l5.0,-5.0M338.8,311.7l5.0,5.0M338.8,316.7l5.0,-5.0M338.8,319.1l5.0,5.0M338.8,324.1l5.0,-5.0M338.8,327.3l5.0,5.0M338.8,332.3l5.0,-5.0M343.4,307.3l5.0,5.0M343.4,312.3l5.0,-5.0M343.4,317.1l5.0,5.0M343.4,322.1l5.0,-5.0M343.4,323.3l5.0,5.0M343.4,328.3l5.0,-5.0M348.1,307.3l5.0,5.0M348.1,312.3l5.0,-5.0M348.1,313.1l5.0,5.0M348.1,318.1l5.0,-5.0M348.1,322.1l5.0,5.0M348.1,327.1l5.0,-5.0M352.7,307.6l5.0,5.0M352.7,312.6l5.0,-5.0M352.7,314.3l5.0,5.0M352.7,319.3l5.0,-5.0M352.7,320.9l5.0,5.0M352.7,325.9l5.0,-5.0M352.7,326.6l5.0,5.0M352.7,331.6l5.0,-5.0M259.7,336.6l5.0,5.0M259.7,341.6l5.0,-5.0M259.7,342.9l5.0,5.0M259.7,347.9l5.0,-5.0M259.7,349.7l5.0,5.0M259.7,354.7l5.0,-5.0M259.7,355.9l5.0,5.0M259.7,360.9l5.0,-5.0M259.7,363.4l5.0,5.0M259.7,368.4l5.0,-5.0M264.4,339.0l5.0,5.0M264.4,344.0l5.0,-5.0M264.4,345.4l5.0,5.0M264.4,350.4l5.0,-5.0M264.4,352.7l5.0,5.0M264.4,357.7l5.0,-5.0M264.4,362.4l5.0,5.0M264.4,367.4l5.0,-5.0M269.0,340.3l5.0,5.0M269.0,345.3l5.0,-5.0M269.0,347.2l5.0,5.0M269.0,352.2l5.0,-5.0M269.0,352.0l5.0,5.0M269.0,357.0l5.0,-5.0M269.0,359.6l5.0,5.0M269.0,364.6l5.0,-5.0M273.7,340.2l5.0,5.0M273.7,345.2l5.0,-5.0M273.7,346.0l5.0,5.0M273.7,351.0l5.0,-5.0M273.7,352.9l5.0,5.0M273.7,357.9l5.0,-5.0M273.7,358.2l5.0,5.0M273.7,363.2l5.0,-5.0M273.7,363.6l5.0,5.0M273.7,368.6l5.0,-5.0M278.3,337.1l5.0,5.0M278.3,342.1l5.0,-5.0M278.3,344.0l5.0,5.0M278.3,349.0l5.0,-5.0M278.3,349.2l5.0,5.0M278.3,354.2l5.0,-5.0M278.3,355.0l5.0,5.0M278.3,360.0l5.0,-5.0M278.3,360.4l5.0,5.0M278.3,365.4l5.0,-5.0M283.0,336.8l5.0,5.0M283.0,341.8l5.0,-5.0M283.0,344.6l5.0,5.0M283.0,349.6l5.0,-5.0M283.0,352.1l5.0,5.0M283.0,357.1l5.0,-5.0M283.0,356.7l5.0,5.0M283.0,361.7l5.0,-5.0M283.0,365.9l5.0,5.0M283.0,370.9l5.0,-5.0M287.6,338.1l5.0,5.0M287.6,343.1l5.0,-5.0M287.6,345.0l5.0,5.0M287.6,350.0l5.0,-5.0M287.6,350.8l5.0,5.0M287.6,355.8l5.0,-5.0M287.6,356.3l5.0,5.0M287.6,361.3l5.0,-5.0M287.6,362.9l5.0,5.0M287.6,367.9l5.0,-5.0M292.3,337.8l5.0,5.0M292.3,342.8l5.0,-5.0M292.3,344.1l5.0,5.0M292.3,349.1l5.0,-5.0M292.3,350.5l5.0,5.0M292.3,355.5l5.0,-5.0M292.3,356.8l5.0,5.0M292.3,361.8l5.0,-5.0M292.3,361.5l5.0,5.0M292.3,366.5l5.0,-5.0M296.9,337.6l5.0,5.0M296.9,342.6l5.0,-5.0M296.9,343.9l5.0,5.0M296.9,348.9l5.0,-5.0M296.9,350.5l5.0,5.0M296.9,355.5l5.0,-5.0M296.9,356.5l5.0,5.0M296.9,361.5l5.0,-5.0M296.9,363.7l5.0,5.0M296.9,368.7l5.0,-5.0M301.6,339.0l5.0,5.0M301.6,344.0l5.0,-5.0M301.6,346.8l5.0,5.0M301.6,351.8l5.0,-5.0M301.6,353.6l5.0,5.0M301.6,358.6l5.0,-5.0M301.6,358.8l5.0,5.0M301.6,363.8l5.0,-5.0M301.6,364.3l5.0,5.0M301.6,369.3l5.0,-5.0M306.2,336.9l5.0,5.0M306.2,341.9l5.0,-5.0M306.2,346.4l5.0,5.0M306.2,351.4l5.0,-5.0M306.2,355.2l5.0,5.0M306.2,360.2l5.0,-5.0M306.2,359.4l5.0,5.0M306.2,364.4l5.0,-5.0M306.2,365.3l5.0,5.0M306.2,370.3l5.0,-5.0M310.9,337.4l5.0,5.0M310.9,342.4l5.0,-5.0M310.9,345.7l5.0,5.0M310.9,350.7l5.0,-5.0M310.9,351.9l5.0,5.0M310.9,356.9l5.0,-5.0M310.9,357.8l5.0,5.0M310.9,362.8l5.0,-5.0M310.9,362.5l5.0,5.0M310.9,367.5l5.0,-5.0M315.5,340.7l5.0,5.0M315.5,345.7l5.0,-5.0M315.5,344.4l5.0,5.0M315.5,349.4l5.0,-5.0M315.5,350.3l5.0,5.0M315.5,355.3l5.0,-5.0M315.5,356.9l5.0,5.0M315.5,361.9l5.0,-5.0M315.5,361.8l5.0,5.0M315.5,366.8l5.0,-5.0M320.2,337.1l5.0,5.0M320.2,342.1l5.0,-5.0M320.2,344.1l5.0,5.0M320.2,349.1l5.0,-5.0M320.2,349.5l5.0,5.0M320.2,354.5l5.0,-5.0M320.2,357.1l5.0,5.0M320.2,362.1l5.0,-5.0M320.2,363.0l5.0,5.0M320.2,368.0l5.0,-5.0M324.8,336.2l5.0,5.0M324.8,341.2l5.0,-5.0M324.8,345.8l5.0,5.0M324.8,350.8l5.0,-5.0M324.8,350.2l5.0,5.0M324.8,355.2l5.0,-5.0M324.8,356.7l5.0,5.0M324.8,361.7l5.0,-5.0M324.8,362.7l5.0,5.0M324.8,367.7l5.0,-5.0M329.5,336.1l5.0,5.0M329.5,341.1l5.0,-5.0M329.5,342.8l5.0,5.0M329.5,347.8l5.0,-5.0M329.5,350.2l5.0,5.0M329.5,355.2l5.0,-5.0M329.5,356.8l5.0,5.0M329.5,361.8l5.0,-5.0M329.5,363.5l5.0,5.0M329.5,368.5l5.0,-5.0M334.1,341.0l5.0,5.0M334.1,346.0l5.0,-5.0M334.1,347.8l5.0,5.0M334.1,352.8l5.0,-5.0M334.1,353.4l5.0,5.0M334.1,358.4l5.0,-5.0M334.1,359.7l5.0,5.0M334.1,364.7l5.0,-5.0M338.8,336.6l5.0,5.0M338.8,341.6l5.0,-5.0M338.8,341.5l5.0,5.0M338.8,346.5l5.0,-5.0M338.8,348.9l5.0,5.0M338.8,353.9l5.0,-5.0M338.8,357.5l5.0,5.0M338.8,362.5l5.0,-5.0M338.8,364.3l5.0,5.0M338.8,369.3l5.0,-5.0M343.4,335.3l5.0,5.0M343.4,340.3l5.0,-5.0M343.4,341.6l5.0,5.0M343.4,346.6l5.0,-5.0M343.4,347.7l5.0,5.0M343.4,352.7l5.0,-5.0M343.4,356.6l5.0,5.0M343.4,361.6l5.0,-5.0M343.4,361.6l5.0,5.0M343.4,366.6l5.0,-5.0M348.1,339.1l5.0,5.0M348.1,344.1l5.0,-5.0M348.1,344.2l5.0,5.0M348.1,349.2l5.0,-5.0M348.1,352.5l5.0,5.0M348.1,357.5l5.0,-5.0M348.1,360.2l5.0,5.0M348.1,365.2l5.0,-5.0M352.7,339.5l5.0,5.0M352.7,344.5l5.0,-5.0M352.7,344.9l5.0,5.0M352.7,349.9l5.0,-5.0M352.7,351.9l5.0,5.0M352.7,356.9l5.0,-5.0M352.7,360.8l5.0,5.0M352.7,365.8l5.0,-5.0M352.7,365.1l5.0,5.0M352.7,370.1l5.0,-5.0M352.7,238.6l5.0,5.0M352.7,243.6l5.0,-5.0M357.4,231.3l5.0,5.0M357.4,236.3l5.0,-5.0M366.7,247.7l5.0,5.0M366.7,252.7l5.0,-5.0M366.7,276.8l5.0,5.0M366.7,281.8l5.0,-5.0M390.0,228.6l5.0,5.0M390.0,233.6l5.0,-5.0M408.6,233.1l5.0,5.0M408.6,238.1l5.0,-5.0M427.2,233.1l5.0,5.0M427.2,238.1l5.0,-5.0M450.4,234.0l5.0,5.0M450.4,239.0l5.0,-5.0M352.7,295.4l5.0,5.0M352.7,300.4l5.0,-5.0M352.7,304.4l5.0,5.0M352.7,309.4l5.0,-5.0M352.7,316.1l5.0,5.0M352.7,321.1l5.0,-5.0M357.4,297.4l5.0,5.0M357.4,302.4l5.0,-5.0M357.4,306.0l5.0,5.0M357.4,311.0l5.0,-5.0M357.4,313.1l5.0,5.0M357.4,318.1l5.0,-5.0M362.0,300.9l5.0,5.0M362.0,305.9l5.0,-5.0M362.0,314.0l5.0,5.0M362.0,319.0l5.0,-5.0M366.7,295.3l5.0,5.0M366.7,300.3l5.0,-5.0M366.7,304.3l5.0,5.0M366.7,309.3l5.0,-5.0M366.7,314.2l5.0,5.0M366.7,319.2l5.0,-5.0M371.3,300.9l5.0,5.0M371.3,305.9l5.0,-5.0M371.3,313.6l5.0,5.0M371.3,318.6l5.0,-5.0M376.0,296.0l5.0,5.0M376.0,301.0l5.0,-5.0M376.0,304.4l5.0,5.0M376.0,309.4l5.0,-5.0M376.0,315.5l5.0,5.0M376.0,320.5l5.0,-5.0M380.7,301.3l5.0,5.0M380.7,306.3l5.0,-5.0M380.7,312.5l5.0,5.0M380.7,317.5l5.0,-5.0M385.3,303.0l5.0,5.0M385.3,308.0l5.0,-5.0M385.3,310.9l5.0,5.0M385.3,315.9l5.0,-5.0M390.0,297.2l5.0,5.0M390.0,302.2l5.0,-5.0M390.0,307.5l5.0,5.0M390.0,312.5l5.0,-5.0M394.6,295.7l5.0,5.0M394.6,300.7l5.0,-5.0M394.6,307.3l5.0,5.0M394.6,312.3l5.0,-5.0M399.3,302.1l5.0,5.0M399.3,307.1l5.0,-5.0M399.3,313.9l5.0,5.0M399.3,318.9l5.0,-5.0M403.9,295.4l5.0,5.0M403.9,300.4l5.0,-5.0M403.9,305.4l5.0,5.0M403.9,310.4l5.0,-5.0M408.6,295.8l5.0,5.0M408.6,300.8l5.0,-5.0M408.6,307.9l5.0,5.0M408.6,312.9l5.0,-5.0M408.6,315.8l5.0,5.0M408.6,320.8l5.0,-5.0M413.2,300.5l5.0,5.0M413.2,305.5l5.0,-5.0M413.2,314.2l5.0,5.0M413.2,319.2l5.0,-5.0M417.9,298.0l5.0,5.0M417.9,303.0l5.0,-5.0M417.9,309.5l5.0,5.0M417.9,314.5l5.0,-5.0M422.5,297.5l5.0,5.0M422.5,302.5l5.0,-5.0M422.5,309.3l5.0,5.0M422.5,314.3l5.0,-5.0M427.2,295.5l5.0,5.0M427.2,300.5l5.0,-5.0M427.2,305.7l5.0,5.0M427.2,310.7l5.0,-5.0M427.2,314.0l5.0,5.0M427.2,319.0l5.0,-5.0M431.8,297.4l5.0,5.0M431.8,302.4l5.0,-5.0M431.8,311.1l5.0,5.0M431.8,316.1l5.0,-5.0M436.5,304.9l5.0,5.0M436.5,309.9l5.0,-5.0M436.5,315.3l5.0,5.0M436.5,320.3l5.0,-5.0M441.1,301.2l5.0,5.0M441.1,306.2l5.0,-5.0M441.1,309.9l5.0,5.0M441.1,314.9l5.0,-5.0M445.8,299.3l5.0,5.0M445.8,304.3l5.0,-5.0M445.8,307.5l5.0,5.0M445.8,312.5l5.0,-5.0M450.4,293.9l5.0,5.0M450.4,298.9l5.0,-5.0M450.4,305.5l5.0,5.0M450.4,310.5l5.0,-5.0M450.4,313.4l5.0,5.0M450.4,318.4l5.0,-5.0M352.7,332.3l5.0,5.0M352.7,337.3l5.0,-5.0M352.7,340.8l5.0,5.0M352.7,345.8l5.0,-5.0M352.7,347.4l5.0,5.0M352.7,352.4l5.0,-5.0M352.7,355.4l5.0,5.0M352.7,360.4l5.0,-5.0M357.4,329.5l5.0,5.0M357.4,334.5l5.0,-5.0M357.4,334.8l5.0,5.0M357.4,339.8l5.0,-5.0M357.4,343.2l5.0,5.0M357.4,348.2l5.0,-5.0M357.4,351.8l5.0,5.0M357.4,356.8l5.0,-5.0M362.0,331.7l5.0,5.0M362.0,336.7l5.0,-5.0M362.0,340.7l5.0,5.0M362.0,345.7l5.0,-5.0M362.0,346.3l5.0,5.0M362.0,351.3l5.0,-5.0M362.0,352.3l5.0,5.0M362.0,357.3l5.0,-5.0M366.7,332.7l5.0,5.0M366.7,337.7l5.0,-5.0M366.7,340.7l5.0,5.0M366.7,345.7l5.0,-5.0M366.7,352.3l5.0,5.0M366.7,357.3l5.0,-5.0M371.3,334.3l5.0,5.0M371.3,339.3l5.0,-5.0M371.3,341.8l5.0,5.0M371.3,346.8l5.0,-5.0M371.3,349.8l5.0,5.0M371.3,354.8l5.0,-5.0M376.0,333.2l5.0,5.0M376.0,338.2l5.0,-5.0M376.0,340.6l5.0,5.0M376.0,345.6l5.0,-5.0M376.0,346.7l5.0,5.0M376.0,351.7l5.0,-5.0M376.0,352.7l5.0,5.0M376.0,357.7l5.0,-5.0M380.7,332.0l5.0,5.0M380.7,337.0l5.0,-5.0M380.7,340.6l5.0,5.0M380.7,345.6l5.0,-5.0M380.7,349.0l5.0,5.0M380.7,354.0l5.0,-5.0M385.3,329.7l5.0,5.0M385.3,334.7l5.0,-5.0M385.3,337.0l5.0,5.0M385.3,342.0l5.0,-5.0M385.3,346.0l5.0,5.0M385.3,351.0l5.0,-5.0M385.3,351.2l5.0,5.0M385.3,356.2l5.0,-5.0M390.0,335.9l5.0,5.0M390.0,340.9l5.0,-5.0M390.0,341.5l5.0,5.0M390.0,346.5l5.0,-5.0M390.0,347.4l5.0,5.0M390.0,352.4l5.0,-5.0M394.6,329.6l5.0,5.0M394.6,334.6l5.0,-5.0M394.6,337.1l5.0,5.0M394.6,342.1l5.0,-5.0M394.6,344.0l5.0,5.0M394.6,349.0l5.0,-5.0M394.6,353.9l5.0,5.0M394.6,358.9l5.0,-5.0M399.3,327.3l5.0,5.0M399.3,332.3l5.0,-5.0M399.3,336.8l5.0,5.0M399.3,341.8l5.0,-5.0M399.3,345.3l5.0,5.0M399.3,350.3l5.0,-5.0M399.3,354.4l5.0,5.0M399.3,359.4l5.0,-5.0M403.9,334.9l5.0,5.0M403.9,339.9l5.0,-5.0M403.9,344.4l5.0,5.0M403.9,349.4l5.0,-5.0M403.9,353.0l5.0,5.0M403.9,358.0l5.0,-5.0M408.6,329.1l5.0,5.0M408.6,334.1l5.0,-5.0M408.6,339.5l5.0,5.0M408.6,344.5l5.0,-5.0M408.6,344.0l5.0,5.0M408.6,349.0l5.0,-5.0M408.6,354.5l5.0,5.0M408.6,359.5l5.0,-5.0M413.2,331.0l5.0,5.0M413.2,336.0l5.0,-5.0M413.2,341.1l5.0,5.0M413.2,346.1l5.0,-5.0M413.2,351.3l5.0,5.0M413.2,356.3l5.0,-5.0M417.9,329.9l5.0,5.0M417.9,334.9l5.0,-5.0M417.9,340.6l5.0,5.0M417.9,345.6l5.0,-5.0M417.9,345.5l5.0,5.0M417.9,350.5l5.0,-5.0M417.9,353.5l5.0,5.0M417.9,358.5l5.0,-5.0M422.5,330.7l5.0,5.0M422.5,335.7l5.0,-5.0M422.5,336.8l5.0,5.0M422.5,341.8l5.0,-5.0M422.5,342.8l5.0,5.0M422.5,347.8l5.0,-5.0M422.5,352.6l5.0,5.0M422.5,357.6l5.0,-5.0M427.2,329.4l5.0,5.0M427.2,334.4l5.0,-5.0M427.2,335.5l5.0,5.0M427.2,340.5l5.0,-5.0M427.2,343.5l5.0,5.0M427.2,348.5l5.0,-5.0M427.2,352.3l5.0,5.0M427.2,357.3l5.0,-5.0M431.8,334.9l5.0,5.0M431.8,339.9l5.0,-5.0M431.8,344.6l5.0,5.0M431.8,349.6l5.0,-5.0M431.8,354.4l5.0,5.0M431.8,359.4l5.0,-5.0M436.5,332.7l5.0,5.0M436.5,337.7l5.0,-5.0M436.5,340.5l5.0,5.0M436.5,345.5l5.0,-5.0M436.5,350.6l5.0,5.0M436.5,355.6l5.0,-5.0M441.1,330.8l5.0,5.0M441.1,335.8l5.0,-5.0M441.1,339.5l5.0,5.0M441.1,344.5l5.0,-5.0M441.1,347.8l5.0,5.0M441.1,352.8l5.0,-5.0M445.8,330.2l5.0,5.0M445.8,335.2l5.0,-5.0M445.8,338.0l5.0,5.0M445.8,343.0l5.0,-5.0M445.8,348.6l5.0,5.0M445.8,353.6l5.0,-5.0M450.4,329.3l5.0,5.0M450.4,334.3l5.0,-5.0M450.4,336.4l5.0,5.0M450.4,341.4l5.0,-5.0M450.4,343.5l5.0,5.0M450.4,348.5l5.0,-5.0M450.4,350.4l5.0,5.0M450.4,355.4l5.0,-5.0M483.0,224.0l5.0,5.0M483.0,229.0l5.0,-5.0M487.6,225.9l5.0,5.0M487.6,230.9l5.0,-5.0M496.9,232.2l5.0,5.0M496.9,237.2l5.0,-5.0M501.6,233.1l5.0,5.0M501.6,238.1l5.0,-5.0M510.9,231.3l5.0,5.0M510.9,236.3l5.0,-5.0M520.2,245.9l5.0,5.0M520.2,250.9l5.0,-5.0M520.2,270.4l5.0,5.0M520.2,275.4l5.0,-5.0M520.2,284.0l5.0,5.0M520.2,289.0l5.0,-5.0M524.8,238.6l5.0,5.0M524.8,243.6l5.0,-5.0M524.8,241.3l5.0,5.0M524.8,246.3l5.0,-5.0M524.8,271.3l5.0,5.0M524.8,276.3l5.0,-5.0M524.8,274.0l5.0,5.0M524.8,279.0l5.0,-5.0M524.8,284.0l5.0,5.0M524.8,289.0l5.0,-5.0M529.5,246.8l5.0,5.0M529.5,251.8l5.0,-5.0M529.5,267.7l5.0,5.0M529.5,272.7l5.0,-5.0M529.5,274.0l5.0,5.0M529.5,279.0l5.0,-5.0M450.4,296.7l5.0,5.0M450.4,301.7l5.0,-5.0M450.4,302.6l5.0,5.0M450.4,307.6l5.0,-5.0M450.4,310.0l5.0,5.0M450.4,315.0l5.0,-5.0M450.4,318.2l5.0,5.0M450.4,323.2l5.0,-5.0M450.4,324.9l5.0,5.0M450.4,329.9l5.0,-5.0M450.4,331.1l5.0,5.0M450.4,336.1l5.0,-5.0M450.4,338.2l5.0,5.0M450.4,343.2l5.0,-5.0M450.4,347.4l5.0,5.0M450.4,352.4l5.0,-5.0M450.4,356.3l5.0,5.0M450.4,361.3l5.0,-5.0M450.4,364.8l5.0,5.0M450.4,369.8l5.0,-5.0M455.1,301.4l5.0,5.0M455.1,306.4l5.0,-5.0M455.1,307.3l5.0,5.0M455.1,312.3l5.0,-5.0M455.1,313.8l5.0,5.0M455.1,318.8l5.0,-5.0M455.1,322.1l5.0,5.0M455.1,327.1l5.0,-5.0M455.1,329.1l5.0,5.0M455.1,334.1l5.0,-5.0M455.1,338.4l5.0,5.0M455.1,343.4l5.0,-5.0M455.1,345.3l5.0,5.0M455.1,350.3l5.0,-5.0M455.1,355.4l5.0,5.0M455.1,360.4l5.0,-5.0M455.1,361.5l5.0,5.0M455.1,366.5l5.0,-5.0M459.7,301.4l5.0,5.0M459.7,306.4l5.0,-5.0M459.7,306.9l5.0,5.0M459.7,311.9l5.0,-5.0M459.7,316.0l5.0,5.0M459.7,321.0l5.0,-5.0M459.7,324.2l5.0,5.0M459.7,329.2l5.0,-5.0M459.7,329.2l5.0,5.0M459.7,334.2l5.0,-5.0M459.7,338.5l5.0,5.0M459.7,343.5l5.0,-5.0M459.7,345.6l5.0,5.0M459.7,350.6l5.0,-5.0M459.7,351.1l5.0,5.0M459.7,356.1l5.0,-5.0M459.7,358.2l5.0,5.0M459.7,363.2l5.0,-5.0M464.4,297.6l5.0,5.0M464.4,302.6l5.0,-5.0M464.4,305.1l5.0,5.0M464.4,310.1l5.0,-5.0M464.4,311.9l5.0,5.0M464.4,316.9l5.0,-5.0M464.4,322.5l5.0,5.0M464.4,327.5l5.0,-5.0M464.4,331.1l5.0,5.0M464.4,336.1l5.0,-5.0M464.4,340.5l5.0,5.0M464.4,345.5l5.0,-5.0M464.4,346.0l5.0,5.0M464.4,351.0l5.0,-5.0M464.4,352.0l5.0,5.0M464.4,357.0l5.0,-5.0M464.4,360.6l5.0,5.0M464.4,365.6l5.0,-5.0M469.0,298.4l5.0,5.0M469.0,303.4l5.0,-5.0M469.0,306.3l5.0,5.0M469.0,311.3l5.0,-5.0M469.0,314.6l5.0,5.0M469.0,319.6l5.0,-5.0M469.0,321.6l5.0,5.0M469.0,326.6l5.0,-5.0M469.0,328.0l5.0,5.0M469.0,333.0l5.0,-5.0M469.0,336.8l5.0,5.0M469.0,341.8l5.0,-5.0M469.0,343.4l5.0,5.0M469.0,348.4l5.0,-5.0M469.0,352.4l5.0,5.0M469.0,357.4l5.0,-5.0M469.0,359.1l5.0,5.0M469.0,364.1l5.0,-5.0M473.7,295.1l5.0,5.0M473.7,300.1l5.0,-5.0M473.7,303.8l5.0,5.0M473.7,308.8l5.0,-5.0M473.7,312.0l5.0,5.0M473.7,317.0l5.0,-5.0M473.7,321.4l5.0,5.0M473.7,326.4l5.0,-5.0M473.7,329.8l5.0,5.0M473.7,334.8l5.0,-5.0M473.7,335.3l5.0,5.0M473.7,340.3l5.0,-5.0M473.7,341.5l5.0,5.0M473.7,346.5l5.0,-5.0M473.7,348.6l5.0,5.0M473.7,353.6l5.0,-5.0M473.7,358.5l5.0,5.0M473.7,363.5l5.0,-5.0M473.7,364.0l5.0,5.0M473.7,369.0l5.0,-5.0M478.3,301.4l5.0,5.0M478.3,306.4l5.0,-5.0M478.3,308.0l5.0,5.0M478.3,313.0l5.0,-5.0M478.3,314.7l5.0,5.0M478.3,319.7l5.0,-5.0M478.3,321.5l5.0,5.0M478.3,326.5l5.0,-5.0M478.3,328.7l5.0,5.0M478.3,333.7l5.0,-5.0M478.3,335.0l5.0,5.0M478.3,340.0l5.0,-5.0M478.3,343.9l5.0,5.0M478.3,348.9l5.0,-5.0M478.3,352.4l5.0,5.0M478.3,357.4l5.0,-5.0M478.3,361.2l5.0,5.0M478.3,366.2l5.0,-5.0M483.0,295.7l5.0,5.0M483.0,300.7l5.0,-5.0M483.0,303.5l5.0,5.0M483.0,308.5l5.0,-5.0M483.0,312.4l5.0,5.0M483.0,317.4l5.0,-5.0M483.0,317.9l5.0,5.0M483.0,322.9l5.0,-5.0M483.0,324.7l5.0,5.0M483.0,329.7l5.0,-5.0M483.0,330.6l5.0,5.0M483.0,335.6l5.0,-5.0M483.0,340.1l5.0,5.0M483.0,345.1l5.0,-5.0M483.0,347.4l5.0,5.0M483.0,352.4l5.0,-5.0M483.0,352.8l5.0,5.0M483.0,357.8l5.0,-5.0M483.0,359.3l5.0,5.0M483.0,364.3l5.0,-5.0M487.6,297.6l5.0,5.0M487.6,302.6l5.0,-5.0M487.6,305.7l5.0,5.0M487.6,310.7l5.0,-5.0M487.6,312.8l5.0,5.0M487.6,317.8l5.0,-5.0M487.6,321.4l5.0,5.0M487.6,326.4l5.0,-5.0M487.6,330.6l5.0,5.0M487.6,335.6l5.0,-5.0M487.6,337.9l5.0,5.0M487.6,342.9l5.0,-5.0M487.6,346.3l5.0,5.0M487.6,351.3l5.0,-5.0M487.6,355.9l5.0,5.0M487.6,360.9l5.0,-5.0M487.6,365.6l5.0,5.0M487.6,370.6l5.0,-5.0M492.3,302.6l5.0,5.0M492.3,307.6l5.0,-5.0M492.3,307.3l5.0,5.0M492.3,312.3l5.0,-5.0M492.3,314.9l5.0,5.0M492.3,319.9l5.0,-5.0M492.3,320.1l5.0,5.0M492.3,325.1l5.0,-5.0M492.3,325.7l5.0,5.0M492.3,330.7l5.0,-5.0M492.3,330.2l5.0,5.0M492.3,335.2l5.0,-5.0M492.3,338.4l5.0,5.0M492.3,343.4l5.0,-5.0M492.3,346.8l5.0,5.0M492.3,351.8l5.0,-5.0M492.3,355.2l5.0,5.0M492.3,360.2l5.0,-5.0M492.3,363.2l5.0,5.0M492.3,368.2l5.0,-5.0M496.9,301.5l5.0,5.0M496.9,306.5l5.0,-5.0M496.9,306.5l5.0,5.0M496.9,311.5l5.0,-5.0M496.9,312.7l5.0,5.0M496.9,317.7l5.0,-5.0M496.9,317.6l5.0,5.0M496.9,322.6l5.0,-5.0M496.9,327.9l5.0,5.0M496.9,332.9l5.0,-5.0M496.9,336.7l5.0,5.0M496.9,341.7l5.0,-5.0M496.9,344.1l5.0,5.0M496.9,349.1l5.0,-5.0M496.9,351.4l5.0,5.0M496.9,356.4l5.0,-5.0M496.9,359.7l5.0,5.0M496.9,364.7l5.0,-5.0M501.6,298.1l5.0,5.0M501.6,303.1l5.0,-5.0M501.6,305.7l5.0,5.0M501.6,310.7l5.0,-5.0M501.6,314.8l5.0,5.0M501.6,319.8l5.0,-5.0M501.6,322.3l5.0,5.0M501.6,327.3l5.0,-5.0M501.6,331.0l5.0,5.0M501.6,336.0l5.0,-5.0M501.6,336.4l5.0,5.0M501.6,341.4l5.0,-5.0M501.6,342.6l5.0,5.0M501.6,347.6l5.0,-5.0M501.6,348.9l5.0,5.0M501.6,353.9l5.0,-5.0M501.6,356.1l5.0,5.0M501.6,361.1l5.0,-5.0M501.6,361.9l5.0,5.0M501.6,366.9l5.0,-5.0M506.2,300.1l5.0,5.0M506.2,305.1l5.0,-5.0M506.2,308.1l5.0,5.0M506.2,313.1l5.0,-5.0M506.2,318.2l5.0,5.0M506.2,323.2l5.0,-5.0M506.2,325.7l5.0,5.0M506.2,330.7l5.0,-5.0M506.2,332.4l5.0,5.0M506.2,337.4l5.0,-5.0M506.2,342.0l5.0,5.0M506.2,347.0l5.0,-5.0M506.2,349.0l5.0,5.0M506.2,354.0l5.0,-5.0M506.2,356.1l5.0,5.0M506.2,361.1l5.0,-5.0M506.2,360.6l5.0,5.0M506.2,365.6l5.0,-5.0M510.9,297.3l5.0,5.0M510.9,302.3l5.0,-5.0M510.9,303.5l5.0,5.0M510.9,308.5l5.0,-5.0M510.9,309.4l5.0,5.0M510.9,314.4l5.0,-5.0M510.9,319.7l5.0,5.0M510.9,324.7l5.0,-5.0M510.9,327.6l5.0,5.0M510.9,332.6l5.0,-5.0M510.9,336.5l5.0,5.0M510.9,341.5l5.0,-5.0M510.9,345.1l5.0,5.0M510.9,350.1l5.0,-5.0M510.9,352.7l5.0,5.0M510.9,357.7l5.0,-5.0M510.9,357.5l5.0,5.0M510.9,362.5l5.0,-5.0M515.5,302.1l5.0,5.0M515.5,307.1l5.0,-5.0M515.5,311.2l5.0,5.0M515.5,316.2l5.0,-5.0M515.5,318.1l5.0,5.0M515.5,323.1l5.0,-5.0M515.5,324.7l5.0,5.0M515.5,329.7l5.0,-5.0M515.5,333.0l5.0,5.0M515.5,338.0l5.0,-5.0M515.5,339.6l5.0,5.0M515.5,344.6l5.0,-5.0M515.5,346.5l5.0,5.0M515.5,351.5l5.0,-5.0M515.5,354.6l5.0,5.0M515.5,359.6l5.0,-5.0M515.5,364.3l5.0,5.0M515.5,369.3l5.0,-5.0M520.2,299.0l5.0,5.0M520.2,304.0l5.0,-5.0M520.2,304.6l5.0,5.0M520.2,309.6l5.0,-5.0M520.2,314.8l5.0,5.0M520.2,319.8l5.0,-5.0M520.2,322.4l5.0,5.0M520.2,327.4l5.0,-5.0M520.2,330.7l5.0,5.0M520.2,335.7l5.0,-5.0M520.2,337.9l5.0,5.0M520.2,342.9l5.0,-5.0M520.2,344.9l5.0,5.0M520.2,349.9l5.0,-5.0M520.2,354.3l5.0,5.0M520.2,359.3l5.0,-5.0M520.2,361.8l5.0,5.0M520.2,366.8l5.0,-5.0M524.8,302.0l5.0,5.0M524.8,307.0l5.0,-5.0M524.8,306.5l5.0,5.0M524.8,311.5l5.0,-5.0M524.8,312.8l5.0,5.0M524.8,317.8l5.0,-5.0M524.8,321.0l5.0,5.0M524.8,326.0l5.0,-5.0M524.8,327.9l5.0,5.0M524.8,332.9l5.0,-5.0M524.8,333.5l5.0,5.0M524.8,338.5l5.0,-5.0M524.8,343.8l5.0,5.0M524.8,348.8l5.0,-5.0M524.8,350.6l5.0,5.0M524.8,355.6l5.0,-5.0M524.8,360.0l5.0,5.0M524.8,365.0l5.0,-5.0M524.8,365.8l5.0,5.0M524.8,370.8l5.0,-5.0M529.5,298.5l5.0,5.0M529.5,303.5l5.0,-5.0M529.5,305.6l5.0,5.0M529.5,310.6l5.0,-5.0M529.5,312.0l5.0,5.0M529.5,317.0l5.0,-5.0M529.5,319.2l5.0,5.0M529.5,324.2l5.0,-5.0M529.5,323.9l5.0,5.0M529.5,328.9l5.0,-5.0M529.5,332.6l5.0,5.0M529.5,337.6l5.0,-5.0M529.5,339.3l5.0,5.0M529.5,344.3l5.0,-5.0M529.5,348.0l5.0,5.0M529.5,353.0l5.0,-5.0M529.5,357.6l5.0,5.0M529.5,362.6l5.0,-5.0M529.5,362.9l5.0,5.0M529.5,367.9l5.0,-5.0" fill="none" stroke="#adadad" stroke-width="1.6"/>
<path d="M71.5,363.6 L76.2,362.9 L80.8,362.1 L85.5,361.2 L90.1,360.4 L94.8,359.4 L99.4,358.5 L104.1,357.5 L108.7,356.5 L113.4,355.4 L118.0,354.3 L122.7,353.1 L127.3,351.8 L132.0,350.5 L136.6,349.1 L141.3,347.7 L145.9,346.3 L150.6,345.0 L155.2,343.6 L159.9,342.3 L164.5,341.1 L169.2,339.8 L173.8,338.6 L178.5,337.4 L183.1,336.2 L187.8,335.1 L192.4,333.9 L197.1,332.9 L201.7,331.8 L206.4,330.7 L211.0,329.5 L215.7,328.2 L220.3,326.9 L225.0,325.5 L229.7,324.0 L234.3,322.5 L239.0,320.9 L243.6,319.1 L248.3,317.1 L252.9,315.2 L257.6,313.7 L262.2,312.3 L266.9,311.1 L271.5,309.9 L276.2,308.6 L280.8,307.2 L285.5,305.8 L290.1,304.5 L294.8,303.4 L299.4,302.4 L304.1,301.4 L308.7,300.5 L313.4,299.6 L318.0,298.5 L322.7,297.5 L327.3,296.4 L332.0,295.3 L336.6,294.3 L341.3,293.2 L345.9,292.1 L350.6,291.1 L355.2,290.0 L359.9,288.9 L364.5,287.8 L369.2,286.8 L373.8,285.8 L378.5,284.8 L383.2,283.9 L387.8,282.9 L392.5,282.0 L397.1,281.1 L401.8,280.2 L406.4,279.3 L411.1,278.4 L415.7,277.5 L420.4,276.6 L425.0,275.7 L429.7,274.9 L434.3,274.0 L439.0,273.1 L443.6,272.2 L448.3,271.3 L452.9,270.4 L457.6,269.6 L462.2,268.7 L466.9,267.8 L471.5,266.9 L476.2,266.0 L480.8,265.2 L485.5,264.3 L490.1,263.4 L494.8,262.6 L499.4,261.7 L504.1,260.8 L508.7,259.9 L513.4,259.0 L518.0,258.1 L522.7,257.2 L527.3,256.2 L532.0,255.3" fill="none" stroke="#000" stroke-width="1.0"/>
<path d="M71.5,363.6 L76.2,362.9 L80.8,362.1 L85.5,361.2 L90.1,360.4 L94.8,359.4 L99.4,358.5 L104.1,357.5 L108.7,356.5 L113.4,355.4 L118.0,354.3 L122.7,353.0 L127.3,351.7 L132.0,350.3 L136.6,348.9 L141.3,347.5 L145.9,346.1 L150.6,344.8 L155.2,343.5 L159.9,342.3 L164.5,341.2 L169.2,340.2 L173.8,339.2 L178.5,338.3 L183.1,337.4 L187.8,336.5 L192.4,335.6 L197.1,334.8 L201.7,334.0 L206.4,333.4 L211.0,332.9 L215.7,332.5 L220.3,332.0 L225.0,331.6 L229.7,331.3 L234.3,331.1 L239.0,331.0 L243.6,331.0 L248.3,331.0 L252.9,331.0 L257.6,331.0 L262.2,331.0 L266.9,331.1 L271.5,331.8 L276.2,332.9 L280.8,334.2 L285.5,335.5 L290.1,336.6 L294.8,337.5 L299.4,338.4 L304.1,339.5 L308.7,340.7 L313.4,342.0 L318.0,343.5 L322.7,345.0 L327.3,346.6 L332.0,348.2 L336.6,349.8 L341.3,351.5 L345.9,353.3 L350.6,355.2 L355.2,357.1 L359.9,358.8 L364.5,360.6 L369.2,362.3 L373.8,363.7 L378.5,364.9 L383.2,366.0 L387.8,367.1 L392.5,367.9 L397.1,368.4 L401.8,368.5 L406.4,368.4 L411.1,368.3 L415.7,368.2 L420.4,368.0 L425.0,367.3 L429.7,365.9 L434.3,364.4 L439.0,362.9 L443.6,361.4 L448.3,359.7 L452.9,358.0 L457.6,356.2 L462.2,354.2 L466.9,352.2 L471.5,350.5 L476.2,348.9 L480.8,347.4 L485.5,345.9 L490.1,344.5 L494.8,342.6 L499.4,340.6 L504.1,339.5 L508.7,339.5 L513.4,339.5 L518.0,339.5 L522.7,339.5 L527.3,339.5 L532.0,339.5" fill="none" stroke="#000" stroke-width="1.0"/>
<path d="M159.9,282.5 L164.5,283.1 L169.2,283.7 L173.8,284.2 L178.5,284.8 L183.1,285.4 L187.8,286.0 L192.4,286.6 L197.1,287.1 L201.7,287.7 L206.4,288.4 L211.0,289.0 L215.7,289.8 L220.3,290.5 L225.0,291.2 L229.7,291.9 L234.3,292.5 L239.0,293.1 L243.6,293.6 L248.3,294.0 L252.9,294.2 L257.6,294.4 L262.2,294.5 L266.9,294.5 L271.5,294.6 L276.2,294.7 L280.8,294.7 L285.5,294.8 L290.1,294.8 L294.8,294.9 L299.4,294.9 L304.1,294.9 L308.7,295.0 L313.4,295.0 L318.0,294.9 L322.7,294.7 L327.3,294.3 L332.0,293.8 L336.6,293.3 L341.3,292.9 L345.9,292.3 L350.6,291.7 L355.2,291.1 L359.9,290.5 L364.5,289.9 L369.2,289.3 L373.8,288.9 L378.5,288.6 L383.2,288.2 L387.8,287.9 L392.5,287.7 L397.1,287.5 L401.8,287.5 L406.4,287.7 L411.1,288.1 L415.7,288.7 L420.4,289.3 L425.0,290.0 L429.7,290.9 L434.3,292.2 L439.0,293.6 L443.6,295.1 L448.3,296.5 L452.9,297.7 L457.6,298.9 L462.2,300.0 L466.9,301.1 L471.5,302.2 L476.2,303.3 L480.8,304.3 L485.5,305.3 L490.1,306.3 L494.8,307.3 L499.4,308.4 L504.1,309.5 L508.7,310.6 L513.4,311.8 L518.0,313.0 L522.7,314.2 L527.3,315.4 L532.0,316.7" fill="none" stroke="#000" stroke-width="1.0"/>
<path d="M159.9,290.0 L164.5,290.7 L169.2,291.5 L173.8,292.2 L178.5,292.9 L183.1,293.6 L187.8,294.3 L192.4,295.0 L197.1,295.6 L201.7,296.2 L206.4,296.8 L211.0,297.3 L215.7,297.9 L220.3,298.3 L225.0,298.8 L229.7,299.3 L234.3,299.8 L239.0,300.3 L243.6,300.9 L248.3,301.5 L252.9,302.2 L257.6,302.9 L262.2,303.9 L266.9,304.8 L271.5,305.8 L276.2,306.7 L280.8,307.6 L285.5,308.5 L290.1,309.3 L294.8,310.2 L299.4,311.0 L304.1,311.9 L308.7,312.7 L313.4,313.6 L318.0,314.5 L322.7,315.5 L327.3,316.5 L332.0,317.5 L336.6,318.4 L341.3,319.2 L345.9,319.9 L350.6,320.6 L355.2,321.3 L359.9,322.2 L364.5,323.2 L369.2,324.2 L373.8,325.3 L378.5,326.3 L383.2,327.3 L387.8,328.1 L392.5,328.8 L397.1,329.3 L401.8,329.6 L406.4,329.8 L411.1,329.9 L415.7,330.1 L420.4,330.2 L425.0,330.3 L429.7,330.4 L434.3,330.5 L439.0,330.5 L443.6,330.4 L448.3,330.0 L452.9,329.6 L457.6,329.1 L462.2,328.5 L466.9,327.9 L471.5,327.1 L476.2,326.3 L480.8,325.5 L485.5,324.7 L490.1,324.0 L494.8,323.3 L499.4,322.6 L504.1,321.9 L508.7,321.1 L513.4,320.4 L518.0,319.7 L522.7,319.0 L527.3,318.3 L532.0,317.6" fill="none" stroke="#000" stroke-width="1.0"/>
<g fill="#3c96e6"><circle cx="159.9" cy="291.8" r="2.15"/><circle cx="164.5" cy="292.5" r="2.15"/><circle cx="169.2" cy="293.3" r="2.15"/><circle cx="173.8" cy="294.0" r="2.15"/><circle cx="178.5" cy="294.7" r="2.15"/><circle cx="183.1" cy="295.4" r="2.15"/><circle cx="187.8" cy="296.1" r="2.15"/><circle cx="192.4" cy="296.8" r="2.15"/><circle cx="197.1" cy="297.4" r="2.15"/><circle cx="201.7" cy="298.0" r="2.15"/><circle cx="206.4" cy="298.6" r="2.15"/><circle cx="211.0" cy="299.1" r="2.15"/><circle cx="215.7" cy="299.7" r="2.15"/><circle cx="220.3" cy="300.1" r="2.15"/><circle cx="225.0" cy="300.6" r="2.15"/><circle cx="229.7" cy="301.1" r="2.15"/><circle cx="234.3" cy="301.6" r="2.15"/><circle cx="239.0" cy="302.1" r="2.15"/><circle cx="243.6" cy="302.7" r="2.15"/><circle cx="248.3" cy="303.3" r="2.15"/><circle cx="252.9" cy="304.0" r="2.15"/><circle cx="257.6" cy="304.7" r="2.15"/><circle cx="262.2" cy="305.7" r="2.15"/><circle cx="266.9" cy="306.6" r="2.15"/><circle cx="271.5" cy="307.6" r="2.15"/><circle cx="276.2" cy="308.5" r="2.15"/><circle cx="280.8" cy="309.4" r="2.15"/><circle cx="285.5" cy="310.3" r="2.15"/><circle cx="290.1" cy="311.1" r="2.15"/><circle cx="294.8" cy="312.0" r="2.15"/><circle cx="299.4" cy="312.8" r="2.15"/><circle cx="304.1" cy="313.7" r="2.15"/><circle cx="308.7" cy="314.5" r="2.15"/></g>
<g fill="#33dcbc"><circle cx="159.9" cy="289.0" r="2.15"/><circle cx="164.5" cy="289.7" r="2.15"/><circle cx="169.2" cy="290.5" r="2.15"/><circle cx="173.8" cy="291.2" r="2.15"/><circle cx="178.5" cy="291.9" r="2.15"/><circle cx="183.1" cy="292.6" r="2.15"/><circle cx="187.8" cy="293.3" r="2.15"/><circle cx="192.4" cy="294.0" r="2.15"/><circle cx="197.1" cy="294.6" r="2.15"/><circle cx="201.7" cy="295.2" r="2.15"/><circle cx="206.4" cy="295.8" r="2.15"/><circle cx="211.0" cy="296.3" r="2.15"/><circle cx="215.7" cy="296.9" r="2.15"/><circle cx="220.3" cy="297.3" r="2.15"/><circle cx="225.0" cy="297.8" r="2.15"/><circle cx="229.7" cy="298.3" r="2.15"/><circle cx="234.3" cy="298.8" r="2.15"/><circle cx="239.0" cy="299.3" r="2.15"/><circle cx="243.6" cy="299.9" r="2.15"/><circle cx="248.3" cy="300.5" r="2.15"/><circle cx="252.9" cy="301.2" r="2.15"/><circle cx="257.6" cy="301.9" r="2.15"/><circle cx="262.2" cy="302.9" r="2.15"/><circle cx="266.9" cy="303.8" r="2.15"/><circle cx="271.5" cy="304.8" r="2.15"/><circle cx="276.2" cy="305.7" r="2.15"/><circle cx="280.8" cy="306.6" r="2.15"/><circle cx="285.5" cy="307.5" r="2.15"/><circle cx="290.1" cy="308.3" r="2.15"/><circle cx="294.8" cy="309.2" r="2.15"/><circle cx="299.4" cy="310.0" r="2.15"/><circle cx="304.1" cy="310.9" r="2.15"/><circle cx="308.7" cy="311.7" r="2.15"/></g>
<g fill="#33dcbc"><circle cx="308.7" cy="312.7" r="2.15"/><circle cx="313.4" cy="313.6" r="2.15"/><circle cx="318.0" cy="314.5" r="2.15"/><circle cx="322.7" cy="315.5" r="2.15"/><circle cx="327.3" cy="316.5" r="2.15"/><circle cx="332.0" cy="317.5" r="2.15"/><circle cx="336.6" cy="318.4" r="2.15"/><circle cx="341.3" cy="319.2" r="2.15"/><circle cx="345.9" cy="319.9" r="2.15"/><circle cx="350.6" cy="320.6" r="2.15"/><circle cx="355.2" cy="321.3" r="2.15"/><circle cx="359.9" cy="322.2" r="2.15"/><circle cx="364.5" cy="323.2" r="2.15"/><circle cx="369.2" cy="324.2" r="2.15"/><circle cx="373.8" cy="325.3" r="2.15"/><circle cx="378.5" cy="326.3" r="2.15"/><circle cx="383.2" cy="327.3" r="2.15"/><circle cx="387.8" cy="328.1" r="2.15"/><circle cx="392.5" cy="328.8" r="2.15"/><circle cx="397.1" cy="329.3" r="2.15"/><circle cx="401.8" cy="329.6" r="2.15"/><circle cx="406.4" cy="329.8" r="2.15"/><circle cx="411.1" cy="329.9" r="2.15"/><circle cx="415.7" cy="330.1" r="2.15"/><circle cx="420.4" cy="330.2" r="2.15"/><circle cx="425.0" cy="330.3" r="2.15"/><circle cx="429.7" cy="330.4" r="2.15"/><circle cx="434.3" cy="330.5" r="2.15"/><circle cx="439.0" cy="330.5" r="2.15"/><circle cx="443.6" cy="330.4" r="2.15"/><circle cx="448.3" cy="330.0" r="2.15"/><circle cx="452.9" cy="329.6" r="2.15"/><circle cx="457.6" cy="329.1" r="2.15"/><circle cx="462.2" cy="328.5" r="2.15"/><circle cx="466.9" cy="327.9" r="2.15"/><circle cx="471.5" cy="327.1" r="2.15"/><circle cx="476.2" cy="326.3" r="2.15"/><circle cx="480.8" cy="325.5" r="2.15"/><circle cx="485.5" cy="324.7" r="2.15"/><circle cx="490.1" cy="324.0" r="2.15"/><circle cx="494.8" cy="323.3" r="2.15"/><circle cx="499.4" cy="322.6" r="2.15"/><circle cx="504.1" cy="321.9" r="2.15"/><circle cx="508.7" cy="321.1" r="2.15"/><circle cx="513.4" cy="320.4" r="2.15"/><circle cx="518.0" cy="319.7" r="2.15"/><circle cx="522.7" cy="319.0" r="2.15"/><circle cx="527.3" cy="318.3" r="2.15"/><circle cx="532.0" cy="317.6" r="2.15"/></g>
<g fill="#4a6080"><circle cx="159.9" cy="285.7" r="2.15"/><circle cx="164.5" cy="286.3" r="2.15"/><circle cx="169.2" cy="286.9" r="2.15"/><circle cx="173.8" cy="287.4" r="2.15"/><circle cx="178.5" cy="288.0" r="2.15"/><circle cx="183.1" cy="288.6" r="2.15"/><circle cx="187.8" cy="289.2" r="2.15"/><circle cx="192.4" cy="289.8" r="2.15"/><circle cx="197.1" cy="290.3" r="2.15"/><circle cx="201.7" cy="290.9" r="2.15"/><circle cx="206.4" cy="291.6" r="2.15"/><circle cx="211.0" cy="292.2" r="2.15"/><circle cx="215.7" cy="293.0" r="2.15"/><circle cx="220.3" cy="293.7" r="2.15"/><circle cx="225.0" cy="294.4" r="2.15"/><circle cx="229.7" cy="295.1" r="2.15"/><circle cx="234.3" cy="295.7" r="2.15"/><circle cx="239.0" cy="296.3" r="2.15"/><circle cx="243.6" cy="296.8" r="2.15"/><circle cx="248.3" cy="297.2" r="2.15"/><circle cx="252.9" cy="297.4" r="2.15"/><circle cx="257.6" cy="297.6" r="2.15"/><circle cx="262.2" cy="297.7" r="2.15"/><circle cx="266.9" cy="297.7" r="2.15"/><circle cx="271.5" cy="297.8" r="2.15"/><circle cx="276.2" cy="297.9" r="2.15"/><circle cx="280.8" cy="297.9" r="2.15"/><circle cx="285.5" cy="298.0" r="2.15"/><circle cx="290.1" cy="298.0" r="2.15"/><circle cx="294.8" cy="298.1" r="2.15"/><circle cx="299.4" cy="298.1" r="2.15"/><circle cx="304.1" cy="298.1" r="2.15"/><circle cx="308.7" cy="298.2" r="2.15"/><circle cx="313.4" cy="298.2" r="2.15"/><circle cx="318.0" cy="298.1" r="2.15"/><circle cx="322.7" cy="297.9" r="2.15"/><circle cx="327.3" cy="297.5" r="2.15"/><circle cx="332.0" cy="297.0" r="2.15"/><circle cx="336.6" cy="296.5" r="2.15"/><circle cx="341.3" cy="296.1" r="2.15"/><circle cx="345.9" cy="295.5" r="2.15"/><circle cx="350.6" cy="294.9" r="2.15"/><circle cx="355.2" cy="294.3" r="2.15"/><circle cx="359.9" cy="293.7" r="2.15"/><circle cx="364.5" cy="293.1" r="2.15"/><circle cx="369.2" cy="292.5" r="2.15"/><circle cx="373.8" cy="292.1" r="2.15"/><circle cx="378.5" cy="291.8" r="2.15"/><circle cx="383.2" cy="291.4" r="2.15"/><circle cx="387.8" cy="291.1" r="2.15"/><circle cx="392.5" cy="290.9" r="2.15"/><circle cx="397.1" cy="290.7" r="2.15"/><circle cx="401.8" cy="290.7" r="2.15"/><circle cx="406.4" cy="290.9" r="2.15"/><circle cx="411.1" cy="291.3" r="2.15"/><circle cx="415.7" cy="291.9" r="2.15"/><circle cx="420.4" cy="292.5" r="2.15"/><circle cx="425.0" cy="293.2" r="2.15"/><circle cx="429.7" cy="294.1" r="2.15"/><circle cx="434.3" cy="295.4" r="2.15"/></g>
<g fill="#8c50b4"><circle cx="159.9" cy="281.7" r="2.15"/><circle cx="164.5" cy="282.3" r="2.15"/><circle cx="169.2" cy="282.9" r="2.15"/><circle cx="173.8" cy="283.4" r="2.15"/><circle cx="178.5" cy="284.0" r="2.15"/><circle cx="183.1" cy="284.6" r="2.15"/><circle cx="187.8" cy="285.2" r="2.15"/><circle cx="192.4" cy="285.8" r="2.15"/><circle cx="197.1" cy="286.3" r="2.15"/><circle cx="201.7" cy="286.9" r="2.15"/><circle cx="206.4" cy="287.6" r="2.15"/><circle cx="211.0" cy="288.2" r="2.15"/><circle cx="215.7" cy="289.0" r="2.15"/><circle cx="220.3" cy="289.7" r="2.15"/><circle cx="225.0" cy="290.4" r="2.15"/><circle cx="229.7" cy="291.1" r="2.15"/><circle cx="234.3" cy="291.7" r="2.15"/><circle cx="239.0" cy="292.3" r="2.15"/><circle cx="243.6" cy="292.8" r="2.15"/><circle cx="248.3" cy="293.2" r="2.15"/><circle cx="252.9" cy="293.4" r="2.15"/><circle cx="257.6" cy="293.6" r="2.15"/><circle cx="262.2" cy="293.7" r="2.15"/><circle cx="266.9" cy="293.7" r="2.15"/><circle cx="271.5" cy="293.8" r="2.15"/><circle cx="276.2" cy="293.9" r="2.15"/><circle cx="280.8" cy="293.9" r="2.15"/><circle cx="285.5" cy="294.0" r="2.15"/><circle cx="290.1" cy="294.0" r="2.15"/><circle cx="294.8" cy="294.1" r="2.15"/><circle cx="299.4" cy="294.1" r="2.15"/><circle cx="304.1" cy="294.1" r="2.15"/><circle cx="308.7" cy="294.2" r="2.15"/><circle cx="313.4" cy="294.2" r="2.15"/><circle cx="318.0" cy="294.1" r="2.15"/><circle cx="322.7" cy="293.9" r="2.15"/><circle cx="327.3" cy="293.5" r="2.15"/><circle cx="332.0" cy="293.0" r="2.15"/><circle cx="336.6" cy="292.5" r="2.15"/><circle cx="341.3" cy="292.1" r="2.15"/><circle cx="345.9" cy="291.5" r="2.15"/><circle cx="350.6" cy="290.9" r="2.15"/><circle cx="355.2" cy="290.3" r="2.15"/><circle cx="359.9" cy="289.7" r="2.15"/><circle cx="364.5" cy="289.1" r="2.15"/><circle cx="369.2" cy="288.5" r="2.15"/><circle cx="373.8" cy="288.1" r="2.15"/><circle cx="378.5" cy="287.8" r="2.15"/><circle cx="383.2" cy="287.4" r="2.15"/><circle cx="387.8" cy="287.1" r="2.15"/><circle cx="392.5" cy="286.9" r="2.15"/><circle cx="397.1" cy="286.7" r="2.15"/><circle cx="401.8" cy="286.7" r="2.15"/><circle cx="406.4" cy="286.9" r="2.15"/><circle cx="411.1" cy="287.3" r="2.15"/><circle cx="415.7" cy="287.9" r="2.15"/><circle cx="420.4" cy="288.5" r="2.15"/><circle cx="425.0" cy="289.2" r="2.15"/><circle cx="429.7" cy="290.1" r="2.15"/><circle cx="434.3" cy="291.4" r="2.15"/></g>
<g fill="#823c5a"><circle cx="434.3" cy="292.2" r="2.15"/><circle cx="439.0" cy="293.6" r="2.15"/><circle cx="443.6" cy="295.1" r="2.15"/><circle cx="448.3" cy="296.5" r="2.15"/><circle cx="452.9" cy="297.7" r="2.15"/><circle cx="457.6" cy="298.9" r="2.15"/><circle cx="462.2" cy="300.0" r="2.15"/><circle cx="466.9" cy="301.1" r="2.15"/><circle cx="471.5" cy="302.2" r="2.15"/><circle cx="476.2" cy="303.3" r="2.15"/><circle cx="480.8" cy="304.3" r="2.15"/><circle cx="485.5" cy="305.3" r="2.15"/><circle cx="490.1" cy="306.3" r="2.15"/><circle cx="494.8" cy="307.3" r="2.15"/><circle cx="499.4" cy="308.4" r="2.15"/><circle cx="504.1" cy="309.5" r="2.15"/><circle cx="508.7" cy="310.6" r="2.15"/><circle cx="513.4" cy="311.8" r="2.15"/><circle cx="518.0" cy="313.0" r="2.15"/><circle cx="522.7" cy="314.2" r="2.15"/><circle cx="527.3" cy="315.4" r="2.15"/><circle cx="532.0" cy="316.7" r="2.15"/></g>
<g fill="#823c5a"><circle cx="373.8" cy="364.2" r="2.15"/><circle cx="378.5" cy="365.4" r="2.15"/><circle cx="383.2" cy="366.5" r="2.15"/><circle cx="387.8" cy="367.6" r="2.15"/><circle cx="392.5" cy="368.4" r="2.15"/><circle cx="397.1" cy="368.9" r="2.15"/><circle cx="401.8" cy="369.0" r="2.15"/><circle cx="406.4" cy="368.9" r="2.15"/><circle cx="411.1" cy="368.8" r="2.15"/><circle cx="415.7" cy="368.7" r="2.15"/><circle cx="420.4" cy="368.5" r="2.15"/><circle cx="425.0" cy="367.8" r="2.15"/><circle cx="429.7" cy="366.4" r="2.15"/><circle cx="434.3" cy="364.9" r="2.15"/><circle cx="439.0" cy="363.4" r="2.15"/></g>
<g fill="#33dcbc"><circle cx="159.9" cy="346.0" r="2.0"/><circle cx="164.5" cy="345.0" r="2.0"/><circle cx="169.2" cy="344.0" r="2.0"/><circle cx="173.8" cy="343.1" r="2.0"/><circle cx="178.5" cy="342.3" r="2.0"/><circle cx="183.1" cy="341.5" r="2.0"/><circle cx="187.8" cy="340.6" r="2.0"/><circle cx="192.4" cy="339.9" r="2.0"/><circle cx="197.1" cy="339.1" r="2.0"/><circle cx="201.7" cy="338.5" r="2.0"/><circle cx="206.4" cy="337.9" r="2.0"/><circle cx="211.0" cy="337.4" r="2.0"/><circle cx="215.7" cy="337.0" r="2.0"/><circle cx="220.3" cy="336.5" r="2.0"/><circle cx="225.0" cy="336.2" r="2.0"/><circle cx="229.7" cy="335.8" r="2.0"/><circle cx="234.3" cy="335.6" r="2.0"/><circle cx="239.0" cy="335.5" r="2.0"/><circle cx="243.6" cy="335.5" r="2.0"/><circle cx="248.3" cy="335.5" r="2.0"/><circle cx="252.9" cy="335.5" r="2.0"/><circle cx="257.6" cy="335.5" r="2.0"/><circle cx="262.2" cy="335.5" r="2.0"/><circle cx="266.9" cy="335.6" r="2.0"/><circle cx="271.5" cy="336.3" r="2.0"/><circle cx="276.2" cy="337.3" r="2.0"/><circle cx="280.8" cy="338.4" r="2.0"/><circle cx="285.5" cy="339.6" r="2.0"/><circle cx="290.1" cy="340.5" r="2.0"/><circle cx="294.8" cy="341.2" r="2.0"/><circle cx="299.4" cy="341.9" r="2.0"/><circle cx="304.1" cy="342.9" r="2.0"/><circle cx="308.7" cy="344.2" r="2.0"/><circle cx="313.4" cy="345.6" r="2.0"/><circle cx="318.0" cy="347.2" r="2.0"/><circle cx="322.7" cy="348.9" r="2.0"/><circle cx="327.3" cy="350.6" r="2.0"/><circle cx="332.0" cy="352.3" r="2.0"/><circle cx="336.6" cy="353.9" r="2.0"/><circle cx="341.3" cy="355.4" r="2.0"/><circle cx="345.9" cy="356.8" r="2.0"/><circle cx="350.6" cy="358.2" r="2.0"/><circle cx="355.2" cy="359.5" r="2.0"/><circle cx="359.9" cy="360.7" r="2.0"/><circle cx="364.5" cy="362.0" r="2.0"/><circle cx="369.2" cy="363.1" r="2.0"/><circle cx="373.8" cy="363.9" r="2.0"/><circle cx="378.5" cy="364.2" r="2.0"/><circle cx="383.2" cy="364.5" r="2.0"/><circle cx="387.8" cy="364.7" r="2.0"/><circle cx="392.5" cy="364.9" r="2.0"/><circle cx="397.1" cy="365.0" r="2.0"/><circle cx="401.8" cy="365.0" r="2.0"/><circle cx="406.4" cy="365.0" r="2.0"/><circle cx="411.1" cy="364.9" r="2.0"/><circle cx="415.7" cy="364.9" r="2.0"/><circle cx="420.4" cy="364.8" r="2.0"/><circle cx="425.0" cy="364.6" r="2.0"/><circle cx="429.7" cy="364.5" r="2.0"/><circle cx="434.3" cy="364.2" r="2.0"/><circle cx="439.0" cy="363.5" r="2.0"/><circle cx="443.6" cy="362.5" r="2.0"/><circle cx="448.3" cy="361.4" r="2.0"/><circle cx="452.9" cy="360.3" r="2.0"/><circle cx="457.6" cy="359.0" r="2.0"/><circle cx="462.2" cy="357.4" r="2.0"/><circle cx="466.9" cy="355.6" r="2.0"/><circle cx="471.5" cy="354.0" r="2.0"/><circle cx="476.2" cy="352.3" r="2.0"/><circle cx="480.8" cy="350.6" r="2.0"/><circle cx="485.5" cy="349.0" r="2.0"/><circle cx="490.1" cy="347.6" r="2.0"/><circle cx="494.8" cy="346.1" r="2.0"/><circle cx="499.4" cy="344.6" r="2.0"/><circle cx="504.1" cy="343.4" r="2.0"/><circle cx="508.7" cy="342.7" r="2.0"/><circle cx="513.4" cy="342.7" r="2.0"/><circle cx="518.0" cy="342.8" r="2.0"/><circle cx="522.7" cy="342.9" r="2.0"/><circle cx="527.3" cy="343.3" r="2.0"/><circle cx="532.0" cy="344.0" r="2.0"/></g>
<g fill="#2424c8"><circle cx="294.8" cy="339.0" r="2.15"/><circle cx="299.4" cy="339.9" r="2.15"/><circle cx="304.1" cy="341.0" r="2.15"/><circle cx="308.7" cy="342.2" r="2.15"/><circle cx="313.4" cy="343.5" r="2.15"/><circle cx="318.0" cy="345.0" r="2.15"/><circle cx="322.7" cy="346.5" r="2.15"/><circle cx="327.3" cy="348.1" r="2.15"/><circle cx="332.0" cy="349.7" r="2.15"/><circle cx="336.6" cy="351.3" r="2.15"/><circle cx="341.3" cy="353.0" r="2.15"/><circle cx="345.9" cy="354.8" r="2.15"/><circle cx="350.6" cy="356.7" r="2.15"/><circle cx="355.2" cy="358.6" r="2.15"/><circle cx="359.9" cy="360.3" r="2.15"/><circle cx="364.5" cy="362.1" r="2.15"/><circle cx="448.3" cy="361.2" r="2.15"/><circle cx="452.9" cy="359.5" r="2.15"/><circle cx="457.6" cy="357.7" r="2.15"/><circle cx="462.2" cy="355.7" r="2.15"/><circle cx="466.9" cy="353.7" r="2.15"/><circle cx="471.5" cy="352.0" r="2.15"/><circle cx="476.2" cy="350.4" r="2.15"/><circle cx="480.8" cy="348.9" r="2.15"/><circle cx="485.5" cy="347.4" r="2.15"/></g>
<g fill="#823c5a"><circle cx="159.9" cy="342.0" r="2.15"/><circle cx="164.5" cy="340.9" r="2.15"/><circle cx="169.2" cy="339.9" r="2.15"/><circle cx="173.8" cy="338.9" r="2.15"/><circle cx="178.5" cy="338.0" r="2.15"/><circle cx="183.1" cy="337.1" r="2.15"/><circle cx="187.8" cy="336.2" r="2.15"/><circle cx="192.4" cy="335.3" r="2.15"/><circle cx="197.1" cy="334.5" r="2.15"/><circle cx="201.7" cy="333.7" r="2.15"/><circle cx="206.4" cy="333.1" r="2.15"/><circle cx="211.0" cy="332.6" r="2.15"/><circle cx="215.7" cy="332.2" r="2.15"/><circle cx="220.3" cy="331.7" r="2.15"/><circle cx="225.0" cy="331.3" r="2.15"/><circle cx="229.7" cy="331.0" r="2.15"/><circle cx="234.3" cy="330.8" r="2.15"/><circle cx="239.0" cy="330.7" r="2.15"/><circle cx="243.6" cy="330.7" r="2.15"/><circle cx="248.3" cy="330.7" r="2.15"/><circle cx="252.9" cy="330.7" r="2.15"/><circle cx="257.6" cy="330.7" r="2.15"/><circle cx="262.2" cy="330.7" r="2.15"/><circle cx="266.9" cy="330.8" r="2.15"/><circle cx="271.5" cy="331.5" r="2.15"/><circle cx="276.2" cy="332.6" r="2.15"/><circle cx="280.8" cy="333.9" r="2.15"/><circle cx="285.5" cy="335.2" r="2.15"/><circle cx="290.1" cy="336.3" r="2.15"/><circle cx="294.8" cy="337.2" r="2.15"/><circle cx="299.4" cy="338.1" r="2.15"/><circle cx="304.1" cy="339.2" r="2.15"/><circle cx="308.7" cy="340.4" r="2.15"/><circle cx="313.4" cy="341.7" r="2.15"/><circle cx="318.0" cy="343.2" r="2.15"/><circle cx="322.7" cy="344.7" r="2.15"/><circle cx="327.3" cy="346.3" r="2.15"/><circle cx="332.0" cy="347.9" r="2.15"/><circle cx="336.6" cy="349.5" r="2.15"/><circle cx="341.3" cy="351.2" r="2.15"/><circle cx="345.9" cy="353.0" r="2.15"/><circle cx="350.6" cy="354.9" r="2.15"/><circle cx="355.2" cy="356.8" r="2.15"/><circle cx="359.9" cy="358.5" r="2.15"/><circle cx="364.5" cy="360.3" r="2.15"/><circle cx="369.2" cy="362.0" r="2.15"/><circle cx="443.6" cy="361.1" r="2.15"/><circle cx="448.3" cy="359.4" r="2.15"/><circle cx="452.9" cy="357.7" r="2.15"/><circle cx="457.6" cy="355.9" r="2.15"/><circle cx="462.2" cy="353.9" r="2.15"/><circle cx="466.9" cy="351.9" r="2.15"/><circle cx="471.5" cy="350.2" r="2.15"/><circle cx="476.2" cy="348.6" r="2.15"/><circle cx="480.8" cy="347.1" r="2.15"/><circle cx="485.5" cy="345.6" r="2.15"/><circle cx="490.1" cy="344.2" r="2.15"/><circle cx="494.8" cy="342.3" r="2.15"/><circle cx="499.4" cy="340.3" r="2.15"/><circle cx="504.1" cy="339.2" r="2.15"/><circle cx="508.7" cy="339.2" r="2.15"/><circle cx="513.4" cy="339.2" r="2.15"/><circle cx="518.0" cy="339.2" r="2.15"/><circle cx="522.7" cy="339.2" r="2.15"/><circle cx="527.3" cy="339.2" r="2.15"/><circle cx="532.0" cy="339.2" r="2.15"/></g>
<g fill="#80dc80"><circle cx="71.5" cy="361.2" r="2.15"/><circle cx="76.2" cy="360.5" r="2.15"/><circle cx="80.8" cy="359.7" r="2.15"/><circle cx="85.5" cy="358.8" r="2.15"/><circle cx="90.1" cy="358.0" r="2.15"/><circle cx="94.8" cy="357.0" r="2.15"/><circle cx="99.4" cy="356.1" r="2.15"/><circle cx="104.1" cy="355.1" r="2.15"/><circle cx="108.7" cy="354.1" r="2.15"/><circle cx="113.4" cy="353.0" r="2.15"/><circle cx="118.0" cy="351.9" r="2.15"/><circle cx="122.7" cy="350.7" r="2.15"/><circle cx="127.3" cy="349.4" r="2.15"/><circle cx="132.0" cy="348.1" r="2.15"/><circle cx="136.6" cy="346.7" r="2.15"/><circle cx="141.3" cy="345.3" r="2.15"/><circle cx="145.9" cy="343.9" r="2.15"/><circle cx="150.6" cy="342.6" r="2.15"/><circle cx="155.2" cy="341.2" r="2.15"/><circle cx="159.9" cy="339.9" r="2.15"/><circle cx="164.5" cy="338.7" r="2.15"/></g>
<g fill="#2424c8"><circle cx="71.5" cy="366.6" r="2.15"/><circle cx="76.2" cy="365.9" r="2.15"/><circle cx="80.8" cy="365.1" r="2.15"/><circle cx="85.5" cy="364.2" r="2.15"/><circle cx="90.1" cy="363.4" r="2.15"/><circle cx="94.8" cy="362.4" r="2.15"/><circle cx="99.4" cy="361.5" r="2.15"/><circle cx="104.1" cy="360.5" r="2.15"/><circle cx="108.7" cy="359.5" r="2.15"/><circle cx="113.4" cy="358.4" r="2.15"/><circle cx="118.0" cy="357.3" r="2.15"/><circle cx="122.7" cy="356.1" r="2.15"/><circle cx="127.3" cy="354.8" r="2.15"/><circle cx="132.0" cy="353.5" r="2.15"/><circle cx="136.6" cy="352.1" r="2.15"/><circle cx="141.3" cy="350.7" r="2.15"/><circle cx="145.9" cy="349.3" r="2.15"/><circle cx="150.6" cy="348.0" r="2.15"/><circle cx="155.2" cy="346.6" r="2.15"/><circle cx="159.9" cy="345.3" r="2.15"/><circle cx="164.5" cy="344.1" r="2.15"/></g>
<g fill="#823c5a"><circle cx="71.5" cy="363.6" r="2.15"/><circle cx="76.2" cy="362.9" r="2.15"/><circle cx="80.8" cy="362.1" r="2.15"/><circle cx="85.5" cy="361.2" r="2.15"/><circle cx="90.1" cy="360.4" r="2.15"/><circle cx="94.8" cy="359.4" r="2.15"/><circle cx="99.4" cy="358.5" r="2.15"/><circle cx="104.1" cy="357.5" r="2.15"/><circle cx="108.7" cy="356.5" r="2.15"/><circle cx="113.4" cy="355.4" r="2.15"/><circle cx="118.0" cy="354.3" r="2.15"/><circle cx="122.7" cy="353.1" r="2.15"/><circle cx="127.3" cy="351.8" r="2.15"/><circle cx="132.0" cy="350.5" r="2.15"/><circle cx="136.6" cy="349.1" r="2.15"/><circle cx="141.3" cy="347.7" r="2.15"/><circle cx="145.9" cy="346.3" r="2.15"/><circle cx="150.6" cy="345.0" r="2.15"/><circle cx="155.2" cy="343.6" r="2.15"/><circle cx="159.9" cy="342.3" r="2.15"/><circle cx="164.5" cy="341.1" r="2.15"/></g>
<g fill="#80dc80"><circle cx="164.5" cy="338.5" r="2.15"/><circle cx="169.2" cy="337.2" r="2.15"/><circle cx="173.8" cy="336.0" r="2.15"/><circle cx="178.5" cy="334.8" r="2.15"/><circle cx="183.1" cy="333.6" r="2.15"/><circle cx="187.8" cy="332.5" r="2.15"/><circle cx="192.4" cy="331.3" r="2.15"/><circle cx="197.1" cy="330.3" r="2.15"/><circle cx="201.7" cy="329.2" r="2.15"/><circle cx="206.4" cy="328.1" r="2.15"/></g>
<g fill="#2424c8"><circle cx="220.3" cy="329.4" r="2.15"/><circle cx="225.0" cy="328.0" r="2.15"/><circle cx="229.7" cy="326.5" r="2.15"/><circle cx="234.3" cy="325.0" r="2.15"/><circle cx="239.0" cy="323.4" r="2.15"/><circle cx="243.6" cy="321.6" r="2.15"/><circle cx="248.3" cy="319.6" r="2.15"/><circle cx="252.9" cy="317.7" r="2.15"/><circle cx="257.6" cy="316.2" r="2.15"/><circle cx="262.2" cy="314.8" r="2.15"/><circle cx="266.9" cy="313.6" r="2.15"/><circle cx="271.5" cy="312.4" r="2.15"/><circle cx="276.2" cy="311.1" r="2.15"/><circle cx="280.8" cy="309.7" r="2.15"/><circle cx="285.5" cy="308.3" r="2.15"/><circle cx="290.1" cy="307.0" r="2.15"/></g>
<g fill="#7a3c6a"><circle cx="164.5" cy="340.8" r="2.15"/><circle cx="169.2" cy="339.5" r="2.15"/><circle cx="173.8" cy="338.3" r="2.15"/><circle cx="178.5" cy="337.1" r="2.15"/><circle cx="183.1" cy="335.9" r="2.15"/><circle cx="187.8" cy="334.8" r="2.15"/><circle cx="192.4" cy="333.6" r="2.15"/><circle cx="197.1" cy="332.6" r="2.15"/><circle cx="201.7" cy="331.5" r="2.15"/><circle cx="206.4" cy="330.4" r="2.15"/><circle cx="211.0" cy="329.2" r="2.15"/><circle cx="215.7" cy="327.9" r="2.15"/><circle cx="220.3" cy="326.6" r="2.15"/><circle cx="225.0" cy="325.2" r="2.15"/><circle cx="229.7" cy="323.7" r="2.15"/><circle cx="234.3" cy="322.2" r="2.15"/><circle cx="239.0" cy="320.6" r="2.15"/><circle cx="243.6" cy="318.8" r="2.15"/><circle cx="248.3" cy="316.8" r="2.15"/><circle cx="252.9" cy="314.9" r="2.15"/><circle cx="257.6" cy="313.4" r="2.15"/><circle cx="262.2" cy="312.0" r="2.15"/><circle cx="266.9" cy="310.8" r="2.15"/><circle cx="271.5" cy="309.6" r="2.15"/><circle cx="276.2" cy="308.3" r="2.15"/><circle cx="280.8" cy="306.9" r="2.15"/></g>
<g fill="#8c50b4"><circle cx="280.8" cy="310.7" r="2.15"/><circle cx="285.5" cy="309.3" r="2.15"/><circle cx="290.1" cy="308.0" r="2.15"/><circle cx="294.8" cy="306.9" r="2.15"/><circle cx="299.4" cy="305.9" r="2.15"/><circle cx="304.1" cy="304.9" r="2.15"/><circle cx="308.7" cy="304.0" r="2.15"/><circle cx="313.4" cy="303.1" r="2.15"/><circle cx="318.0" cy="302.0" r="2.15"/><circle cx="322.7" cy="301.0" r="2.15"/><circle cx="327.3" cy="299.9" r="2.15"/><circle cx="332.0" cy="298.8" r="2.15"/><circle cx="336.6" cy="297.8" r="2.15"/><circle cx="341.3" cy="296.7" r="2.15"/><circle cx="345.9" cy="295.6" r="2.15"/><circle cx="350.6" cy="294.6" r="2.15"/><circle cx="355.2" cy="293.5" r="2.15"/><circle cx="359.9" cy="292.4" r="2.15"/><circle cx="364.5" cy="291.3" r="2.15"/><circle cx="369.2" cy="290.3" r="2.15"/><circle cx="373.8" cy="289.3" r="2.15"/><circle cx="378.5" cy="288.3" r="2.15"/><circle cx="383.2" cy="287.4" r="2.15"/><circle cx="387.8" cy="286.4" r="2.15"/><circle cx="392.5" cy="285.5" r="2.15"/><circle cx="397.1" cy="284.6" r="2.15"/><circle cx="401.8" cy="283.7" r="2.15"/><circle cx="406.4" cy="282.8" r="2.15"/><circle cx="411.1" cy="281.9" r="2.15"/><circle cx="415.7" cy="281.0" r="2.15"/><circle cx="420.4" cy="280.1" r="2.15"/><circle cx="425.0" cy="279.2" r="2.15"/><circle cx="429.7" cy="278.4" r="2.15"/><circle cx="434.3" cy="277.5" r="2.15"/><circle cx="439.0" cy="276.6" r="2.15"/><circle cx="443.6" cy="275.7" r="2.15"/><circle cx="448.3" cy="274.8" r="2.15"/><circle cx="452.9" cy="273.9" r="2.15"/><circle cx="457.6" cy="273.1" r="2.15"/><circle cx="462.2" cy="272.2" r="2.15"/><circle cx="466.9" cy="271.3" r="2.15"/><circle cx="471.5" cy="270.4" r="2.15"/><circle cx="476.2" cy="269.5" r="2.15"/><circle cx="480.8" cy="268.7" r="2.15"/><circle cx="485.5" cy="267.8" r="2.15"/><circle cx="490.1" cy="266.9" r="2.15"/><circle cx="494.8" cy="266.1" r="2.15"/><circle cx="499.4" cy="265.2" r="2.15"/><circle cx="504.1" cy="264.3" r="2.15"/><circle cx="508.7" cy="263.4" r="2.15"/></g>
<g fill="#3c96e6"><circle cx="280.8" cy="308.7" r="2.15"/><circle cx="285.5" cy="307.3" r="2.15"/><circle cx="290.1" cy="306.0" r="2.15"/><circle cx="294.8" cy="304.9" r="2.15"/><circle cx="299.4" cy="303.9" r="2.15"/><circle cx="304.1" cy="302.9" r="2.15"/><circle cx="308.7" cy="302.0" r="2.15"/><circle cx="313.4" cy="301.1" r="2.15"/><circle cx="318.0" cy="300.0" r="2.15"/><circle cx="322.7" cy="299.0" r="2.15"/><circle cx="327.3" cy="297.9" r="2.15"/><circle cx="332.0" cy="296.8" r="2.15"/><circle cx="336.6" cy="295.8" r="2.15"/><circle cx="341.3" cy="294.7" r="2.15"/><circle cx="345.9" cy="293.6" r="2.15"/><circle cx="350.6" cy="292.6" r="2.15"/><circle cx="355.2" cy="291.5" r="2.15"/><circle cx="359.9" cy="290.4" r="2.15"/><circle cx="364.5" cy="289.3" r="2.15"/><circle cx="369.2" cy="288.3" r="2.15"/><circle cx="373.8" cy="287.3" r="2.15"/><circle cx="378.5" cy="286.3" r="2.15"/><circle cx="383.2" cy="285.4" r="2.15"/><circle cx="387.8" cy="284.4" r="2.15"/><circle cx="392.5" cy="283.5" r="2.15"/><circle cx="397.1" cy="282.6" r="2.15"/><circle cx="401.8" cy="281.7" r="2.15"/><circle cx="406.4" cy="280.8" r="2.15"/><circle cx="411.1" cy="279.9" r="2.15"/><circle cx="415.7" cy="279.0" r="2.15"/><circle cx="420.4" cy="278.1" r="2.15"/><circle cx="425.0" cy="277.2" r="2.15"/><circle cx="429.7" cy="276.4" r="2.15"/><circle cx="434.3" cy="275.5" r="2.15"/><circle cx="439.0" cy="274.6" r="2.15"/><circle cx="443.6" cy="273.7" r="2.15"/><circle cx="448.3" cy="272.8" r="2.15"/><circle cx="452.9" cy="271.9" r="2.15"/><circle cx="457.6" cy="271.1" r="2.15"/><circle cx="462.2" cy="270.2" r="2.15"/><circle cx="466.9" cy="269.3" r="2.15"/><circle cx="471.5" cy="268.4" r="2.15"/><circle cx="476.2" cy="267.5" r="2.15"/><circle cx="480.8" cy="266.7" r="2.15"/><circle cx="485.5" cy="265.8" r="2.15"/><circle cx="490.1" cy="264.9" r="2.15"/><circle cx="494.8" cy="264.1" r="2.15"/><circle cx="499.4" cy="263.2" r="2.15"/><circle cx="504.1" cy="262.3" r="2.15"/><circle cx="508.7" cy="261.4" r="2.15"/></g>
<g fill="#2424c8"><circle cx="318.0" cy="295.7" r="2.15"/><circle cx="322.7" cy="294.7" r="2.15"/><circle cx="327.3" cy="293.6" r="2.15"/><circle cx="332.0" cy="292.5" r="2.15"/><circle cx="336.6" cy="291.5" r="2.15"/><circle cx="341.3" cy="290.4" r="2.15"/><circle cx="345.9" cy="289.3" r="2.15"/><circle cx="350.6" cy="288.3" r="2.15"/><circle cx="355.2" cy="287.2" r="2.15"/><circle cx="359.9" cy="286.1" r="2.15"/><circle cx="364.5" cy="285.0" r="2.15"/><circle cx="369.2" cy="284.0" r="2.15"/><circle cx="373.8" cy="283.0" r="2.15"/><circle cx="378.5" cy="282.0" r="2.15"/><circle cx="383.2" cy="281.1" r="2.15"/><circle cx="387.8" cy="280.1" r="2.15"/><circle cx="392.5" cy="279.2" r="2.15"/><circle cx="397.1" cy="278.3" r="2.15"/></g>
<g fill="#8c50b4"><circle cx="513.4" cy="266.6" r="2.15"/><circle cx="518.0" cy="265.7" r="2.15"/><circle cx="522.7" cy="264.8" r="2.15"/><circle cx="527.3" cy="263.8" r="2.15"/><circle cx="532.0" cy="262.9" r="2.15"/></g>
<g fill="#3c96e6"><circle cx="513.4" cy="262.8" r="2.15"/><circle cx="518.0" cy="261.9" r="2.15"/><circle cx="522.7" cy="261.0" r="2.15"/><circle cx="527.3" cy="260.0" r="2.15"/><circle cx="532.0" cy="259.1" r="2.15"/></g>
<g fill="#2424c8"><circle cx="532.0" cy="257.8" r="2.15"/></g>
<text x="113.4" y="390.2" text-anchor="middle" class="tk">10</text>
<text x="159.9" y="390.2" text-anchor="middle" class="tk">20</text>
<text x="206.4" y="390.2" text-anchor="middle" class="tk">30</text>
<text x="252.9" y="390.2" text-anchor="middle" class="tk">40</text>
<text x="299.4" y="390.2" text-anchor="middle" class="tk">50</text>
<text x="345.9" y="390.2" text-anchor="middle" class="tk">60</text>
<text x="392.5" y="390.2" text-anchor="middle" class="tk">70</text>
<text x="439.0" y="390.2" text-anchor="middle" class="tk">80</text>
<text x="485.5" y="390.2" text-anchor="middle" class="tk">90</text>
<text x="532.0" y="390.2" text-anchor="middle" class="tk">100</text>
<text x="65.4" y="247.3" text-anchor="end" class="tk">4000</text>
<text x="65.4" y="279.2" text-anchor="end" class="tk">3000</text>
<text x="65.4" y="311.1" text-anchor="end" class="tk">2000</text>
<text x="65.4" y="343.1" text-anchor="end" class="tk">1000</text>
<text x="65.4" y="375.0" text-anchor="end" class="tk">0</text>
<text x="302.2" y="410.6" text-anchor="middle" class="lb">Time(s)</text>
<text transform="translate(27.0,297.2) rotate(-90)" text-anchor="middle" class="lb">y-coordinate (m)</text>
<circle cx="113.4" cy="60.5" r="2.2" fill="#1e78c8"/>
<circle cx="127.2" cy="108" r="2.2" fill="#20a0a8"/>
<circle cx="257.5" cy="119.6" r="2.2" fill="#50c850"/>
<circle cx="299.4" cy="115.6" r="2.2" fill="#e06428"/>
<circle cx="341.4" cy="109.3" r="2.2" fill="#e07828"/>
<circle cx="387.8" cy="58.7" r="2.2" fill="#8c7838"/>
<circle cx="113.2" cy="347.1" r="2.2" fill="#1e78c8"/>
<circle cx="127.2" cy="361.6" r="2.2" fill="#20a0a8"/>
<circle cx="257.3" cy="290.2" r="2.2" fill="#50c850"/>
<circle cx="299.4" cy="281.6" r="2.2" fill="#e06428"/>
<circle cx="341.2" cy="366.7" r="2.2" fill="#e07828"/>
<circle cx="387.6" cy="342.7" r="2.2" fill="#8c7838"/>
<rect x="373.7" y="238.3" width="144.7" height="57.7" fill="#fff" stroke="#262626" stroke-width="1.1"/>
<circle cx="403.7" cy="250" r="2.3" fill="#8c7838"/>
<path d="M382.2,267.6H424.6" stroke="#000" stroke-width="1.5"/>
<path d="M401.1,282.3l5.8,5.8M401.1,288.1l5.8,-5.8" stroke="#b4b4b4" stroke-width="1.25"/>
<text x="428.4" y="255" class="lg">Estimates</text>
<text x="428.4" y="272.7" class="lg">True tracks</text>
<text x="428.4" y="290.5" class="lg">Measurements</text>
</svg>
</body></html>
